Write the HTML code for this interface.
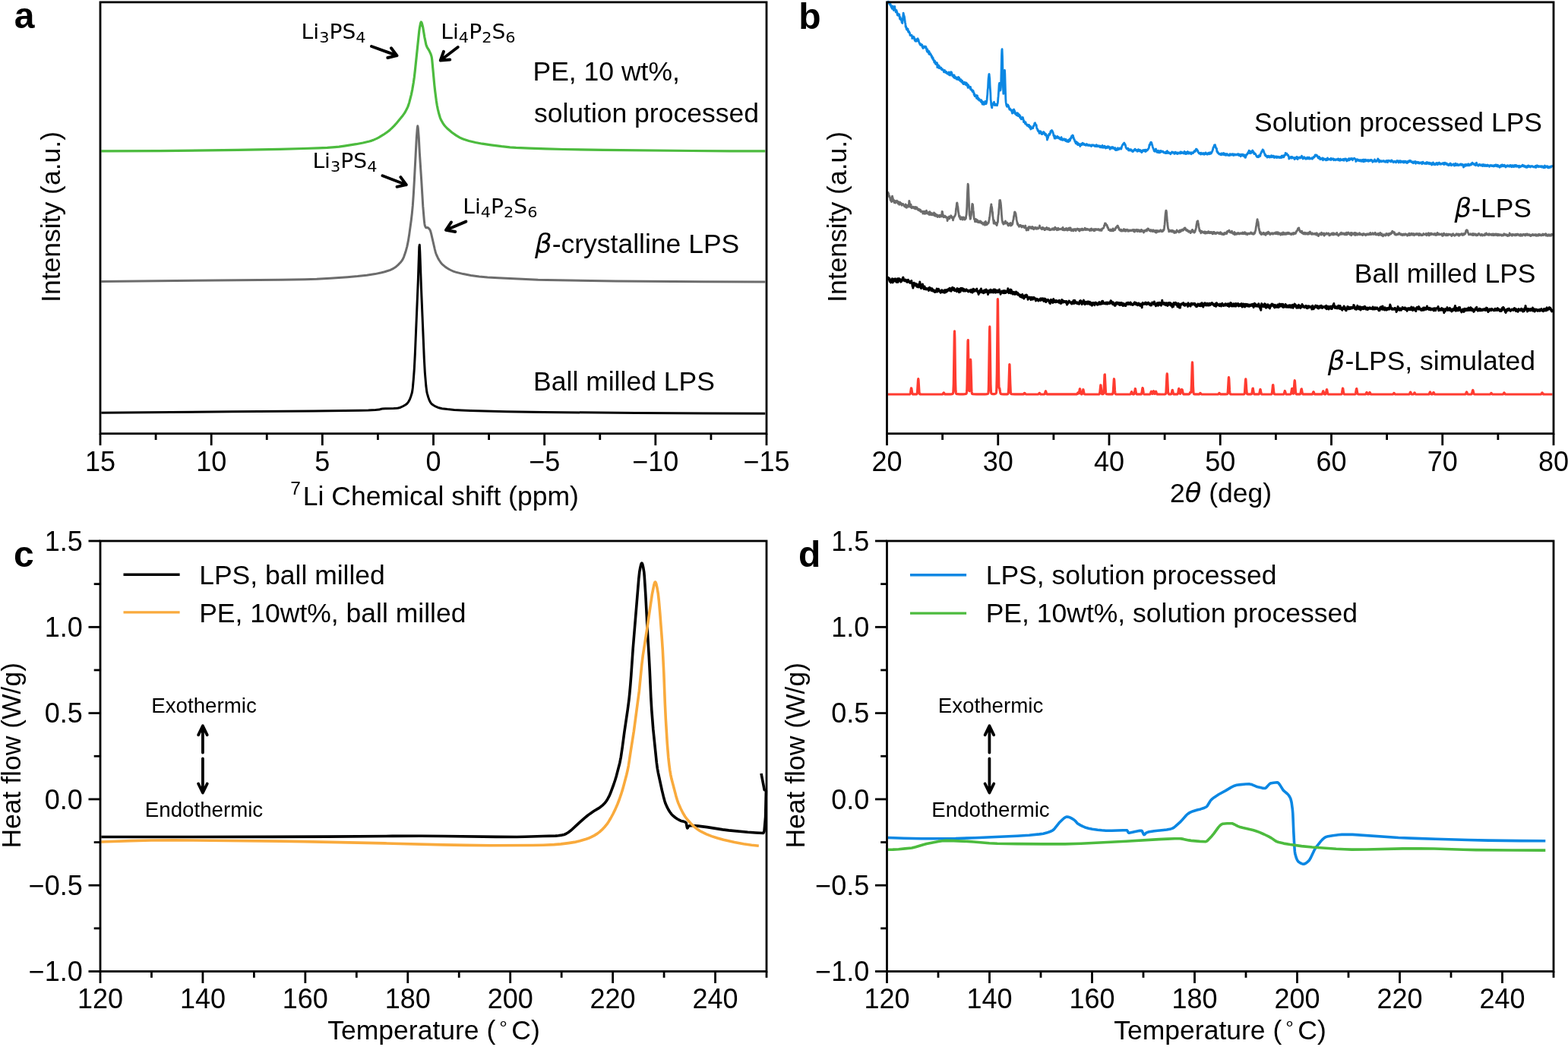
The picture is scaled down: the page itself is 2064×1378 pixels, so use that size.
<!DOCTYPE html>
<html><head><meta charset="utf-8"><title>Figure</title>
<style>html,body{margin:0;padding:0;background:#fff;}svg{display:block;}</style>
</head><body>
<svg width="2064" height="1378" viewBox="0 0 2064 1378">
<rect width="2064" height="1378" fill="#fff"/>
<polyline points="133.3,198.9 209.3,198.6 313.3,197.4 368.8,196.4 399.8,195.5 419.3,194.8 430.8,194.3 440.8,193.6 446.3,193.1 453.3,192.1 468.8,189.7 477.8,188.0 486.3,186.0 489.3,185.1 492.3,183.9 495.3,182.6 498.3,181.1 504.8,177.2 510.8,173.0 513.3,170.9 515.8,168.6 518.8,165.6 522.3,161.7 527.8,155.1 530.3,151.9 532.3,149.1 533.8,146.6 535.3,143.8 536.8,140.6 537.8,137.9 538.8,134.6 541.3,124.8 542.8,117.6 544.3,108.8 545.3,101.8 546.3,93.2 551.8,40.7 552.3,37.1 553.3,32.0 553.8,30.0 554.3,29.0 554.8,29.3 555.3,30.5 556.8,36.4 558.8,48.7 560.8,58.4 561.3,60.0 562.3,62.3 564.8,66.4 566.8,70.6 567.8,73.5 568.3,75.6 568.8,79.3 571.8,111.8 572.8,120.7 574.3,132.4 575.3,138.7 576.3,143.6 577.8,149.8 579.3,154.8 580.8,158.3 583.3,162.6 584.8,164.7 586.3,166.5 589.3,169.6 594.8,174.2 600.3,178.1 605.3,181.1 607.8,182.3 610.3,183.3 617.3,185.5 625.8,187.5 634.8,189.2 646.3,190.9 660.3,192.7 671.3,193.8 679.3,194.4 696.8,195.1 718.8,195.9 741.8,196.5 793.8,197.4 910.8,198.5 960.8,198.8 1007.3,198.9" fill="none" stroke="#4cbb3e" stroke-width="3.2" stroke-linejoin="round" stroke-linecap="butt" />
<polyline points="133.3,370.5 369.8,368.2 401.3,367.7 416.8,367.2 434.8,366.2 457.3,364.7 470.8,363.6 482.8,362.2 493.8,360.6 502.3,358.8 506.3,357.8 510.3,356.5 513.8,355.3 516.3,354.1 518.3,353.1 520.3,351.8 523.8,348.9 527.3,345.3 528.8,343.4 529.8,341.9 530.8,340.0 531.8,337.6 533.8,331.8 535.8,324.6 537.3,317.4 538.8,307.9 541.3,289.8 542.3,281.2 543.3,270.7 544.3,256.2 545.3,238.9 548.3,181.3 549.3,168.5 549.8,165.7 550.3,168.5 551.3,181.4 552.3,200.6 554.8,238.7 556.8,271.9 558.3,289.8 558.8,294.2 559.3,296.9 560.3,299.2 560.8,299.7 561.3,299.8 562.8,299.5 563.3,299.6 563.8,300.0 565.3,301.6 566.3,303.3 566.8,304.6 567.8,308.3 572.3,328.0 573.3,331.9 573.8,333.5 574.8,336.0 576.3,339.2 577.8,342.0 580.3,345.8 581.8,347.5 583.3,348.9 585.8,350.9 588.8,353.0 591.3,354.5 594.3,356.0 596.8,357.1 599.8,358.1 604.8,359.4 609.8,360.6 619.8,362.4 630.8,363.9 641.8,364.9 655.3,365.7 708.3,368.3 719.8,368.6 749.8,369.1 810.3,369.9 924.3,370.7 1007.3,371.0" fill="none" stroke="#6c6c6c" stroke-width="3.0" stroke-linejoin="round" stroke-linecap="butt" />
<polyline points="133.3,543.2 304.8,541.8 412.8,541.1 473.8,540.3 484.8,540.0 494.3,539.5 499.3,539.1 501.8,538.3 502.8,538.1 507.3,537.8 518.3,537.6 522.3,537.3 524.3,537.0 526.3,536.5 528.3,535.7 530.8,534.5 533.8,532.7 535.8,531.2 537.3,529.4 538.8,526.8 539.8,524.6 540.8,521.9 542.3,517.0 542.8,514.4 543.3,510.4 544.3,499.3 545.3,485.8 546.3,466.5 550.3,370.2 551.8,325.1 552.3,322.3 552.8,332.2 554.3,374.7 558.3,471.9 559.3,490.1 560.8,507.8 561.8,515.6 562.3,517.8 563.8,523.0 564.8,525.8 565.8,528.1 566.8,529.9 568.3,531.8 570.8,533.5 573.8,535.2 577.8,536.8 581.8,537.8 588.8,538.6 597.8,539.4 607.3,539.9 619.3,540.4 666.3,541.7 715.3,542.4 836.8,543.6 925.8,544.1 1007.3,544.3" fill="none" stroke="#000" stroke-width="3.0" stroke-linejoin="round" stroke-linecap="butt" />
<polyline points="1168.8,4.4 1169.1,2.2 1169.5,3.3 1169.8,4.2 1170.1,3.2 1170.5,4.4 1170.8,4.6 1171.1,2.8 1171.5,6.4 1171.8,6.3 1172.1,5.3 1172.5,6.6 1172.8,8.4 1173.1,8.7 1173.5,9.8 1173.8,8.9 1174.1,11.2 1174.5,10.3 1174.8,10.2 1175.1,8.0 1175.5,12.0 1175.8,10.5 1176.1,10.3 1176.5,13.5 1176.8,11.1 1177.1,9.4 1177.5,10.5 1177.8,8.4 1178.1,13.0 1178.5,12.3 1178.8,12.9 1179.1,15.8 1179.5,13.1 1179.8,16.2 1180.1,13.6 1180.5,15.7 1180.8,15.6 1181.1,19.2 1181.5,20.0 1181.8,18.0 1182.1,19.8 1182.5,19.1 1182.8,20.5 1183.1,19.4 1183.5,18.7 1183.8,19.1 1184.1,22.2 1184.5,24.9 1184.8,23.0 1185.1,22.6 1185.5,25.9 1185.8,24.5 1186.1,25.1 1186.5,26.4 1186.8,27.7 1187.1,29.4 1187.5,29.1 1187.8,30.6 1188.1,27.4 1188.5,25.5 1188.8,20.7 1189.1,17.1 1189.5,18.8 1189.8,21.7 1190.1,20.8 1190.5,22.4 1190.8,24.5 1191.1,27.0 1191.5,30.0 1191.8,30.7 1192.1,35.3 1192.5,34.3 1192.8,35.6 1193.1,38.0 1193.5,38.7 1193.8,37.4 1194.1,38.7 1194.5,39.8 1194.8,39.3 1195.1,38.0 1195.5,41.5 1195.8,42.3 1196.1,42.3 1196.5,41.3 1196.8,42.6 1197.1,42.7 1197.5,43.5 1197.8,45.8 1198.1,46.5 1198.5,45.9 1198.8,46.2 1199.1,46.7 1199.5,46.3 1199.8,46.7 1200.1,46.3 1200.5,47.4 1200.8,50.5 1201.1,49.3 1201.5,48.2 1201.8,48.4 1202.1,48.3 1202.5,50.1 1202.8,50.5 1203.1,48.7 1203.5,51.2 1203.8,50.3 1204.1,53.0 1204.5,51.8 1204.8,54.0 1205.1,51.8 1205.5,52.3 1205.8,53.2 1206.1,54.3 1206.5,53.8 1206.8,51.6 1207.1,52.9 1207.5,52.1 1207.8,51.1 1208.1,50.8 1208.5,53.9 1208.8,52.2 1209.1,52.6 1209.5,55.2 1209.8,55.5 1210.1,56.1 1210.5,57.7 1210.8,57.9 1211.1,58.2 1211.5,59.2 1211.8,58.7 1212.1,57.9 1212.5,58.5 1212.8,58.6 1213.1,59.8 1213.5,58.8 1213.8,58.8 1214.1,62.1 1214.5,61.4 1214.8,61.2 1215.1,63.5 1215.5,61.7 1215.8,62.7 1216.1,61.5 1216.5,61.0 1216.8,61.1 1217.1,62.1 1217.5,62.5 1217.8,61.8 1218.1,62.4 1218.5,61.1 1218.8,63.4 1219.1,62.1 1219.5,64.6 1219.8,66.1 1220.1,67.0 1220.5,68.1 1220.8,64.8 1221.1,67.8 1221.5,68.7 1221.8,68.8 1222.1,67.1 1222.5,69.0 1222.8,71.1 1223.1,67.7 1223.5,70.4 1223.8,71.6 1224.1,70.0 1224.5,71.9 1224.8,70.5 1225.1,71.3 1225.5,71.8 1225.8,73.5 1226.1,73.7 1226.5,75.5 1226.8,73.9 1227.1,75.4 1227.5,77.3 1227.8,77.5 1228.1,75.9 1228.5,78.8 1228.8,78.1 1229.1,79.7 1229.5,80.2 1229.8,81.9 1230.1,81.5 1230.5,80.0 1230.8,81.1 1231.1,83.7 1231.5,82.7 1231.8,84.4 1232.1,83.5 1232.5,82.4 1232.8,84.7 1233.1,83.1 1233.5,82.8 1233.8,88.6 1234.1,84.9 1234.5,87.8 1234.8,88.1 1235.1,87.4 1235.5,85.9 1235.8,89.5 1236.1,87.1 1236.5,87.3 1236.8,88.3 1237.1,89.7 1237.5,89.3 1237.8,90.1 1238.1,89.0 1238.5,89.7 1238.8,89.0 1239.1,90.4 1239.5,91.7 1239.8,90.9 1240.1,91.9 1240.5,90.9 1240.8,91.1 1241.1,92.1 1241.5,92.1 1241.8,93.2 1242.1,93.0 1242.5,94.9 1242.8,92.9 1243.1,93.1 1243.5,92.5 1243.8,94.0 1244.1,95.1 1244.5,93.8 1244.8,94.7 1245.1,95.7 1245.5,94.8 1245.8,94.5 1246.1,96.3 1246.5,95.5 1246.8,96.1 1247.1,97.1 1247.5,97.3 1247.8,95.8 1248.1,95.8 1248.5,96.9 1248.8,96.6 1249.1,94.8 1249.5,98.5 1249.8,97.3 1250.1,98.2 1250.5,96.3 1250.8,99.1 1251.1,96.9 1251.5,96.9 1251.8,94.6 1252.1,95.2 1252.5,95.2 1252.8,96.2 1253.1,98.1 1253.5,98.6 1253.8,100.2 1254.1,99.0 1254.5,98.7 1254.8,100.1 1255.1,101.0 1255.5,101.9 1255.8,101.6 1256.1,99.0 1256.5,101.5 1256.8,102.9 1257.1,101.6 1257.5,101.1 1257.8,102.3 1258.1,101.6 1258.5,103.0 1258.8,102.5 1259.1,104.2 1259.5,103.5 1259.8,102.3 1260.1,104.0 1260.5,104.5 1260.8,103.0 1261.1,103.2 1261.5,101.3 1261.8,104.9 1262.1,103.6 1262.5,102.2 1262.8,102.9 1263.1,104.9 1263.5,106.2 1263.8,105.4 1264.1,106.3 1264.5,104.7 1264.8,104.7 1265.1,107.3 1265.5,107.1 1265.8,106.7 1266.1,108.3 1266.5,106.1 1266.8,106.8 1267.1,108.6 1267.5,109.8 1267.8,108.2 1268.1,110.7 1268.5,109.1 1268.8,110.7 1269.1,110.1 1269.5,108.1 1269.8,109.7 1270.1,110.3 1270.5,109.3 1270.8,109.6 1271.1,111.4 1271.5,108.8 1271.8,108.8 1272.1,110.0 1272.5,109.6 1272.8,112.6 1273.1,111.8 1273.5,110.8 1273.8,111.3 1274.1,115.4 1274.5,111.9 1274.8,112.1 1275.1,113.7 1275.5,114.5 1275.8,114.7 1276.1,114.0 1276.5,114.2 1276.8,116.4 1277.1,115.9 1277.5,114.4 1277.8,117.8 1278.1,117.8 1278.5,117.3 1278.8,117.9 1279.1,119.2 1279.5,118.9 1279.8,118.5 1280.1,120.5 1280.5,118.8 1280.8,121.0 1281.1,119.5 1281.5,121.3 1281.8,121.8 1282.1,124.7 1282.5,123.0 1282.8,124.3 1283.1,126.6 1283.5,126.5 1283.8,126.4 1284.1,126.6 1284.5,126.6 1284.8,127.5 1285.1,125.3 1285.5,129.3 1285.8,129.1 1286.1,127.4 1286.5,125.9 1286.8,129.2 1287.1,130.4 1287.5,128.5 1287.8,131.1 1288.1,130.6 1288.5,129.8 1288.8,131.4 1289.1,132.1 1289.5,130.9 1289.8,132.0 1290.1,131.5 1290.5,131.7 1290.8,133.0 1291.1,133.9 1291.5,133.1 1291.8,131.7 1292.1,134.9 1292.5,132.9 1292.8,135.0 1293.1,137.1 1293.5,135.4 1293.8,134.4 1294.1,134.3 1294.5,137.3 1294.8,136.2 1295.1,136.9 1295.5,137.4 1295.8,136.5 1296.1,136.3 1296.5,135.7 1296.8,133.5 1297.1,135.2 1297.5,136.7 1297.8,136.5 1298.1,136.6 1298.5,135.0 1298.8,133.4 1299.1,131.6 1299.5,126.9 1299.8,124.1 1300.1,118.4 1300.5,115.8 1300.8,108.8 1301.1,103.7 1301.5,100.5 1301.8,98.0 1302.1,97.4 1302.5,101.4 1302.8,104.0 1303.1,112.0 1303.5,118.1 1303.8,122.3 1304.1,131.0 1304.5,133.6 1304.8,138.4 1305.1,139.1 1305.5,141.4 1305.8,141.8 1306.1,139.2 1306.5,137.8 1306.8,138.2 1307.1,138.1 1307.5,135.9 1307.8,135.2 1308.1,136.7 1308.5,134.2 1308.8,137.1 1309.1,136.8 1309.5,138.7 1309.8,137.7 1310.1,137.3 1310.5,138.1 1310.8,137.0 1311.1,138.5 1311.5,137.8 1311.8,138.0 1312.1,137.5 1312.5,138.8 1312.8,137.0 1313.1,136.4 1313.5,134.3 1313.8,129.8 1314.1,126.9 1314.5,121.7 1314.8,116.5 1315.1,111.6 1315.5,109.4 1315.8,111.0 1316.1,114.9 1316.5,115.2 1316.8,119.2 1317.1,118.1 1317.5,114.5 1317.8,104.1 1318.1,90.8 1318.5,72.8 1318.8,65.8 1319.1,64.7 1319.5,74.0 1319.8,87.7 1320.1,103.2 1320.5,116.5 1320.8,123.4 1321.1,117.2 1321.5,112.4 1321.8,102.9 1322.1,94.5 1322.5,92.3 1322.8,96.8 1323.1,107.8 1323.5,120.8 1323.8,130.1 1324.1,134.7 1324.5,136.6 1324.8,138.9 1325.1,139.1 1325.5,140.2 1325.8,139.9 1326.1,139.0 1326.5,139.6 1326.8,137.9 1327.1,139.9 1327.5,140.8 1327.8,139.6 1328.1,142.4 1328.5,141.8 1328.8,144.2 1329.1,144.1 1329.5,143.0 1329.8,144.6 1330.1,143.8 1330.5,144.2 1330.8,144.7 1331.1,145.5 1331.5,145.7 1331.8,147.0 1332.1,147.2 1332.5,149.2 1332.8,149.0 1333.1,146.5 1333.5,144.6 1333.8,146.3 1334.1,146.5 1334.5,145.1 1334.8,144.0 1335.1,146.1 1335.5,148.4 1335.8,146.2 1336.1,149.5 1336.5,149.3 1336.8,149.1 1337.1,150.5 1337.5,148.8 1337.8,150.5 1338.1,151.6 1338.5,150.5 1338.8,149.6 1339.1,148.8 1339.5,149.4 1339.8,149.0 1340.1,152.6 1340.5,150.9 1340.8,150.3 1341.1,150.3 1341.5,150.8 1341.8,151.9 1342.1,151.3 1342.5,154.5 1342.8,152.5 1343.1,152.9 1343.5,154.4 1343.8,156.1 1344.1,156.7 1344.5,155.6 1344.8,156.7 1345.1,156.5 1345.5,156.4 1345.8,155.6 1346.1,154.4 1346.5,154.8 1346.8,157.3 1347.1,157.1 1347.5,160.5 1347.8,159.8 1348.1,159.2 1348.5,160.4 1348.8,160.6 1349.1,161.4 1349.5,162.9 1349.8,161.0 1350.1,160.9 1350.5,163.4 1350.8,163.3 1351.1,163.9 1351.5,164.5 1351.8,164.2 1352.1,165.4 1352.5,164.0 1352.8,165.2 1353.1,164.5 1353.5,164.5 1353.8,166.4 1354.1,166.6 1354.5,164.4 1354.8,165.4 1355.1,167.0 1355.5,168.0 1355.8,166.5 1356.1,167.2 1356.5,166.3 1356.8,170.1 1357.1,168.4 1357.5,168.9 1357.8,168.8 1358.1,169.2 1358.5,168.9 1358.8,167.9 1359.1,168.8 1359.5,167.9 1359.8,168.6 1360.1,166.1 1360.5,165.6 1360.8,165.9 1361.1,165.6 1361.5,163.8 1361.8,162.3 1362.1,162.4 1362.5,161.7 1362.8,163.9 1363.1,163.4 1363.5,164.3 1363.8,164.3 1364.1,164.5 1364.5,167.3 1364.8,168.9 1365.1,169.0 1365.5,169.5 1365.8,171.4 1366.1,170.9 1366.5,172.6 1366.8,171.8 1367.1,172.0 1367.5,173.7 1367.8,173.7 1368.1,175.4 1368.5,173.6 1368.8,174.1 1369.1,173.2 1369.5,172.7 1369.8,172.9 1370.1,175.1 1370.5,173.7 1370.8,175.9 1371.1,176.3 1371.5,174.9 1371.8,176.7 1372.1,175.5 1372.5,176.2 1372.8,174.9 1373.1,175.6 1373.5,173.7 1373.8,174.9 1374.1,173.9 1374.5,174.5 1374.8,176.0 1375.1,176.4 1375.5,176.8 1375.8,177.8 1376.1,177.9 1376.5,176.0 1376.8,177.8 1377.1,178.2 1377.5,177.7 1377.8,180.0 1378.1,180.3 1378.5,184.0 1378.8,182.6 1379.1,181.7 1379.5,181.5 1379.8,179.4 1380.1,179.3 1380.5,177.3 1380.8,177.3 1381.1,176.2 1381.5,176.7 1381.8,177.2 1382.1,175.8 1382.5,175.6 1382.8,173.2 1383.1,172.5 1383.5,172.2 1383.8,172.5 1384.1,172.0 1384.5,171.6 1384.8,172.3 1385.1,172.2 1385.5,172.9 1385.8,174.9 1386.1,174.3 1386.5,176.0 1386.8,178.3 1387.1,178.3 1387.5,179.9 1387.8,179.5 1388.1,182.0 1388.5,178.6 1388.8,179.6 1389.1,179.8 1389.5,182.1 1389.8,181.2 1390.1,180.8 1390.5,180.1 1390.8,181.4 1391.1,181.1 1391.5,180.2 1391.8,179.4 1392.1,179.7 1392.5,181.1 1392.8,181.6 1393.1,181.8 1393.5,181.8 1393.8,180.7 1394.1,182.2 1394.5,181.5 1394.8,182.4 1395.1,182.8 1395.5,182.0 1395.8,181.8 1396.1,183.5 1396.5,183.1 1396.8,182.4 1397.1,180.6 1397.5,183.1 1397.8,183.7 1398.1,184.2 1398.5,182.8 1398.8,183.0 1399.1,183.2 1399.5,184.3 1399.8,182.8 1400.1,183.8 1400.5,183.2 1400.8,184.2 1401.1,182.9 1401.5,184.5 1401.8,183.9 1402.1,184.2 1402.5,184.9 1402.8,185.5 1403.1,183.4 1403.5,185.6 1403.8,185.4 1404.1,185.0 1404.5,186.4 1404.8,185.5 1405.1,186.3 1405.5,184.9 1405.8,184.6 1406.1,186.1 1406.5,186.6 1406.8,185.2 1407.1,185.1 1407.5,184.0 1407.8,183.3 1408.1,184.1 1408.5,185.2 1408.8,182.4 1409.1,183.1 1409.5,181.5 1409.8,182.2 1410.1,181.7 1410.5,179.2 1410.8,179.0 1411.1,179.8 1411.5,178.7 1411.8,178.0 1412.1,178.3 1412.5,178.3 1412.8,181.0 1413.1,180.6 1413.5,182.8 1413.8,183.5 1414.1,183.3 1414.5,184.3 1414.8,186.0 1415.1,186.4 1415.5,187.2 1415.8,186.5 1416.1,188.7 1416.5,187.6 1416.8,186.6 1417.1,187.8 1417.5,188.6 1417.8,189.9 1418.1,188.3 1418.5,187.8 1418.8,190.6 1419.1,189.6 1419.5,189.7 1419.8,189.2 1420.1,189.1 1420.5,190.6 1420.8,189.5 1421.1,189.8 1421.5,190.5 1421.8,192.5 1422.1,190.9 1422.5,191.2 1422.8,190.3 1423.1,190.0 1423.5,189.1 1423.8,190.1 1424.1,190.8 1424.5,189.5 1424.8,188.7 1425.1,188.2 1425.5,189.2 1425.8,189.1 1426.1,189.5 1426.5,189.9 1426.8,189.1 1427.1,190.7 1427.5,190.4 1427.8,190.2 1428.1,190.5 1428.5,191.0 1428.8,190.5 1429.1,189.9 1429.5,191.4 1429.8,190.3 1430.1,190.1 1430.5,189.6 1430.8,190.7 1431.1,190.0 1431.5,190.4 1431.8,191.2 1432.1,190.9 1432.5,191.6 1432.8,191.2 1433.1,190.7 1433.5,190.8 1433.8,190.7 1434.1,191.6 1434.5,191.2 1434.8,190.9 1435.1,191.9 1435.5,191.5 1435.8,191.3 1436.1,191.0 1436.5,192.6 1436.8,192.5 1437.1,192.1 1437.5,191.5 1437.8,190.8 1438.1,191.0 1438.5,191.2 1438.8,190.9 1439.1,191.0 1439.5,190.9 1439.8,191.7 1440.1,191.8 1440.5,191.3 1440.8,192.4 1441.1,192.5 1441.5,192.5 1441.8,191.9 1442.1,191.9 1442.5,191.3 1442.8,192.6 1443.1,190.7 1443.5,191.9 1443.8,192.0 1444.1,192.9 1444.5,192.3 1444.8,191.7 1445.1,191.4 1445.5,191.9 1445.8,192.5 1446.1,192.5 1446.5,192.4 1446.8,192.1 1447.1,192.5 1447.5,193.4 1447.8,191.9 1448.1,192.8 1448.5,193.9 1448.8,193.2 1449.1,192.6 1449.5,193.4 1449.8,192.4 1450.1,193.0 1450.5,194.0 1450.8,194.2 1451.1,191.5 1451.5,193.0 1451.8,193.9 1452.1,192.4 1452.5,193.2 1452.8,194.3 1453.1,193.0 1453.5,193.7 1453.8,193.4 1454.1,192.2 1454.5,193.8 1454.8,193.5 1455.1,194.3 1455.5,195.1 1455.8,194.2 1456.1,193.5 1456.5,194.1 1456.8,194.0 1457.1,194.6 1457.5,192.9 1457.8,193.2 1458.1,192.6 1458.5,194.4 1458.8,193.8 1459.1,193.1 1459.5,192.9 1459.8,193.1 1460.1,193.3 1460.5,194.5 1460.8,195.0 1461.1,196.4 1461.5,195.4 1461.8,194.3 1462.1,194.1 1462.5,194.9 1462.8,194.1 1463.1,193.8 1463.5,194.3 1463.8,195.2 1464.1,193.6 1464.5,194.2 1464.8,193.6 1465.1,195.2 1465.5,194.7 1465.8,194.6 1466.1,194.7 1466.5,195.9 1466.8,195.5 1467.1,195.3 1467.5,196.4 1467.8,194.7 1468.1,194.6 1468.5,197.5 1468.8,195.8 1469.1,196.2 1469.5,196.5 1469.8,197.1 1470.1,197.6 1470.5,197.2 1470.8,196.6 1471.1,195.8 1471.5,194.8 1471.8,196.1 1472.1,196.9 1472.5,196.6 1472.8,195.7 1473.1,196.4 1473.5,195.5 1473.8,195.7 1474.1,194.9 1474.5,195.4 1474.8,195.7 1475.1,195.3 1475.5,195.7 1475.8,196.1 1476.1,195.2 1476.5,193.5 1476.8,192.5 1477.1,191.8 1477.5,190.8 1477.8,190.7 1478.1,190.3 1478.5,189.5 1478.8,189.0 1479.1,188.7 1479.5,188.4 1479.8,188.1 1480.1,190.1 1480.5,190.1 1480.8,189.5 1481.1,190.2 1481.5,191.3 1481.8,192.5 1482.1,194.2 1482.5,194.7 1482.8,195.4 1483.1,195.9 1483.5,196.2 1483.8,196.2 1484.1,196.1 1484.5,196.0 1484.8,195.1 1485.1,196.5 1485.5,198.0 1485.8,196.5 1486.1,196.5 1486.5,197.7 1486.8,197.1 1487.1,196.7 1487.5,198.1 1487.8,197.5 1488.1,197.6 1488.5,196.6 1488.8,197.2 1489.1,197.2 1489.5,197.7 1489.8,198.4 1490.1,199.0 1490.5,198.9 1490.8,199.5 1491.1,198.2 1491.5,199.3 1491.8,199.3 1492.1,198.6 1492.5,198.1 1492.8,198.1 1493.1,196.8 1493.5,197.5 1493.8,197.2 1494.1,196.2 1494.5,197.0 1494.8,197.9 1495.1,198.1 1495.5,198.2 1495.8,197.5 1496.1,197.4 1496.5,197.4 1496.8,198.1 1497.1,199.3 1497.5,198.7 1497.8,198.9 1498.1,198.7 1498.5,196.7 1498.8,197.7 1499.1,197.6 1499.5,198.7 1499.8,199.0 1500.1,197.4 1500.5,197.8 1500.8,198.2 1501.1,197.6 1501.5,197.9 1501.8,198.5 1502.1,200.1 1502.5,199.3 1502.8,200.6 1503.1,199.4 1503.5,199.4 1503.8,199.5 1504.1,197.8 1504.5,197.7 1504.8,198.6 1505.1,197.6 1505.5,197.8 1505.8,198.3 1506.1,198.5 1506.5,197.5 1506.8,198.1 1507.1,198.8 1507.5,199.4 1507.8,197.1 1508.1,199.4 1508.5,199.1 1508.8,197.7 1509.1,197.4 1509.5,198.3 1509.8,197.3 1510.1,197.3 1510.5,197.6 1510.8,196.5 1511.1,196.5 1511.5,196.1 1511.8,195.5 1512.1,195.1 1512.5,193.9 1512.8,191.8 1513.1,190.4 1513.5,191.3 1513.8,189.6 1514.1,189.1 1514.5,187.6 1514.8,188.5 1515.1,187.2 1515.5,187.6 1515.8,187.7 1516.1,189.2 1516.5,190.7 1516.8,190.9 1517.1,192.5 1517.5,194.3 1517.8,194.5 1518.1,195.4 1518.5,196.5 1518.8,196.8 1519.1,198.6 1519.5,197.9 1519.8,199.3 1520.1,199.3 1520.5,197.3 1520.8,197.3 1521.1,196.3 1521.5,196.0 1521.8,197.4 1522.1,198.4 1522.5,199.7 1522.8,200.2 1523.1,198.9 1523.5,199.4 1523.8,200.1 1524.1,200.5 1524.5,198.1 1524.8,200.7 1525.1,199.7 1525.5,200.9 1525.8,199.6 1526.1,199.3 1526.5,199.9 1526.8,200.7 1527.1,200.0 1527.5,198.3 1527.8,200.4 1528.1,198.9 1528.5,199.4 1528.8,199.3 1529.1,198.8 1529.5,199.3 1529.8,199.5 1530.1,199.7 1530.5,200.1 1530.8,200.0 1531.1,199.2 1531.5,200.1 1531.8,200.9 1532.1,200.9 1532.5,200.4 1532.8,200.8 1533.1,201.0 1533.5,201.3 1533.8,201.5 1534.1,200.2 1534.5,200.2 1534.8,201.5 1535.1,201.6 1535.5,201.6 1535.8,199.1 1536.1,200.6 1536.5,198.7 1536.8,201.4 1537.1,200.9 1537.5,200.8 1537.8,200.6 1538.1,201.5 1538.5,200.5 1538.8,201.4 1539.1,201.1 1539.5,201.2 1539.8,201.8 1540.1,202.1 1540.5,201.7 1540.8,202.9 1541.1,202.4 1541.5,201.3 1541.8,201.5 1542.1,201.5 1542.5,200.0 1542.8,200.7 1543.1,200.6 1543.5,200.3 1543.8,201.1 1544.1,200.3 1544.5,200.6 1544.8,201.1 1545.1,201.2 1545.5,201.2 1545.8,202.5 1546.1,200.6 1546.5,201.1 1546.8,200.2 1547.1,201.3 1547.5,201.8 1547.8,201.8 1548.1,200.6 1548.5,200.9 1548.8,202.1 1549.1,201.4 1549.5,202.2 1549.8,201.0 1550.1,202.6 1550.5,202.4 1550.8,201.9 1551.1,201.0 1551.5,201.2 1551.8,201.3 1552.1,201.4 1552.5,201.1 1552.8,201.0 1553.1,201.3 1553.5,202.1 1553.8,199.8 1554.1,200.3 1554.5,200.2 1554.8,200.8 1555.1,200.1 1555.5,201.6 1555.8,201.3 1556.1,201.1 1556.5,200.8 1556.8,201.4 1557.1,201.4 1557.5,201.5 1557.8,200.8 1558.1,201.8 1558.5,200.3 1558.8,202.2 1559.1,199.3 1559.5,200.9 1559.8,200.5 1560.1,201.9 1560.5,200.4 1560.8,202.6 1561.1,200.3 1561.5,202.5 1561.8,201.2 1562.1,200.5 1562.5,200.4 1562.8,201.7 1563.1,201.2 1563.5,199.5 1563.8,202.1 1564.1,201.6 1564.5,200.4 1564.8,202.0 1565.1,200.7 1565.5,201.6 1565.8,201.7 1566.1,201.1 1566.5,202.0 1566.8,200.8 1567.1,201.7 1567.5,201.2 1567.8,201.4 1568.1,202.8 1568.5,201.6 1568.8,200.8 1569.1,201.4 1569.5,201.0 1569.8,201.6 1570.1,201.7 1570.5,201.5 1570.8,201.2 1571.1,200.2 1571.5,200.3 1571.8,200.1 1572.1,198.6 1572.5,198.8 1572.8,198.8 1573.1,199.5 1573.5,199.1 1573.8,197.5 1574.1,197.7 1574.5,196.2 1574.8,196.1 1575.1,196.3 1575.5,196.7 1575.8,197.6 1576.1,197.8 1576.5,198.0 1576.8,199.9 1577.1,199.9 1577.5,200.8 1577.8,201.0 1578.1,201.7 1578.5,201.9 1578.8,202.1 1579.1,201.3 1579.5,202.3 1579.8,201.4 1580.1,201.8 1580.5,203.1 1580.8,202.1 1581.1,201.1 1581.5,202.9 1581.8,202.6 1582.1,202.7 1582.5,202.1 1582.8,202.2 1583.1,201.8 1583.5,201.5 1583.8,203.0 1584.1,201.7 1584.5,201.7 1584.8,201.7 1585.1,203.3 1585.5,202.6 1585.8,201.8 1586.1,202.0 1586.5,202.4 1586.8,202.7 1587.1,201.0 1587.5,202.7 1587.8,201.9 1588.1,201.6 1588.5,201.9 1588.8,202.7 1589.1,203.3 1589.5,202.3 1589.8,202.5 1590.1,201.6 1590.5,202.5 1590.8,202.7 1591.1,201.2 1591.5,201.9 1591.8,202.7 1592.1,201.0 1592.5,201.9 1592.8,202.5 1593.1,200.9 1593.5,201.6 1593.8,201.7 1594.1,202.1 1594.5,200.2 1594.8,201.3 1595.1,200.0 1595.5,199.7 1595.8,198.9 1596.1,197.7 1596.5,197.2 1596.8,195.0 1597.1,194.3 1597.5,193.5 1597.8,193.0 1598.1,193.1 1598.5,190.8 1598.8,191.4 1599.1,190.7 1599.5,190.7 1599.8,193.1 1600.1,192.8 1600.5,194.6 1600.8,195.3 1601.1,195.0 1601.5,195.6 1601.8,199.5 1602.1,198.9 1602.5,199.2 1602.8,201.0 1603.1,201.0 1603.5,200.8 1603.8,201.4 1604.1,202.1 1604.5,202.3 1604.8,202.9 1605.1,202.3 1605.5,202.4 1605.8,203.0 1606.1,202.8 1606.5,203.4 1606.8,202.6 1607.1,202.7 1607.5,202.1 1607.8,203.9 1608.1,202.0 1608.5,203.1 1608.8,202.4 1609.1,203.2 1609.5,203.4 1609.8,201.8 1610.1,202.6 1610.5,201.5 1610.8,203.6 1611.1,202.5 1611.5,201.9 1611.8,202.6 1612.1,204.0 1612.5,204.1 1612.8,204.0 1613.1,202.7 1613.5,203.1 1613.8,204.3 1614.1,202.7 1614.5,203.0 1614.8,202.6 1615.1,202.5 1615.5,204.1 1615.8,203.7 1616.1,203.6 1616.5,203.8 1616.8,204.1 1617.1,204.6 1617.5,203.9 1617.8,203.8 1618.1,203.4 1618.5,204.6 1618.8,203.4 1619.1,202.6 1619.5,203.3 1619.8,203.5 1620.1,204.1 1620.5,204.2 1620.8,203.1 1621.1,203.0 1621.5,203.4 1621.8,202.8 1622.1,203.6 1622.5,204.0 1622.8,203.7 1623.1,202.6 1623.5,202.9 1623.8,204.6 1624.1,203.1 1624.5,204.2 1624.8,204.2 1625.1,203.6 1625.5,203.1 1625.8,204.0 1626.1,203.2 1626.5,203.7 1626.8,203.9 1627.1,203.4 1627.5,203.8 1627.8,203.7 1628.1,203.1 1628.5,203.8 1628.8,203.5 1629.1,202.8 1629.5,203.8 1629.8,203.8 1630.1,203.6 1630.5,202.7 1630.8,204.6 1631.1,204.5 1631.5,204.5 1631.8,204.4 1632.1,203.3 1632.5,204.3 1632.8,203.7 1633.1,205.8 1633.5,204.0 1633.8,204.7 1634.1,203.2 1634.5,203.5 1634.8,203.9 1635.1,204.8 1635.5,204.7 1635.8,204.5 1636.1,203.1 1636.5,205.1 1636.8,203.8 1637.1,205.5 1637.5,205.6 1637.8,205.0 1638.1,205.2 1638.5,203.9 1638.8,207.1 1639.1,206.3 1639.5,207.4 1639.8,206.1 1640.1,205.8 1640.5,203.9 1640.8,203.7 1641.1,203.2 1641.5,202.9 1641.8,203.1 1642.1,202.0 1642.5,201.4 1642.8,200.8 1643.1,201.7 1643.5,199.6 1643.8,200.5 1644.1,198.2 1644.5,198.9 1644.8,199.8 1645.1,199.5 1645.5,201.8 1645.8,201.7 1646.1,199.1 1646.5,199.5 1646.8,200.1 1647.1,201.3 1647.5,200.8 1647.8,200.2 1648.1,198.9 1648.5,199.2 1648.8,198.0 1649.1,198.8 1649.5,200.3 1649.8,200.8 1650.1,199.8 1650.5,201.2 1650.8,202.6 1651.1,201.9 1651.5,201.6 1651.8,202.1 1652.1,202.2 1652.5,202.4 1652.8,202.9 1653.1,203.8 1653.5,204.7 1653.8,204.6 1654.1,206.0 1654.5,205.8 1654.8,206.0 1655.1,206.7 1655.5,206.4 1655.8,206.3 1656.1,205.6 1656.5,205.2 1656.8,206.8 1657.1,204.7 1657.5,204.7 1657.8,204.4 1658.1,205.1 1658.5,205.2 1658.8,205.4 1659.1,203.8 1659.5,201.8 1659.8,202.1 1660.1,201.5 1660.5,200.0 1660.8,199.2 1661.1,199.0 1661.5,199.1 1661.8,197.8 1662.1,196.9 1662.5,197.6 1662.8,198.2 1663.1,197.7 1663.5,200.0 1663.8,199.8 1664.1,201.5 1664.5,202.0 1664.8,202.4 1665.1,204.3 1665.5,203.3 1665.8,203.7 1666.1,204.8 1666.5,205.6 1666.8,205.4 1667.1,205.0 1667.5,206.2 1667.8,206.2 1668.1,207.2 1668.5,205.8 1668.8,206.2 1669.1,205.7 1669.5,205.2 1669.8,206.2 1670.1,206.8 1670.5,205.6 1670.8,205.8 1671.1,205.5 1671.5,207.2 1671.8,205.9 1672.1,206.7 1672.5,205.8 1672.8,206.4 1673.1,205.9 1673.5,204.8 1673.8,206.4 1674.1,206.8 1674.5,205.1 1674.8,206.3 1675.1,206.2 1675.5,205.8 1675.8,206.3 1676.1,205.2 1676.5,206.7 1676.8,207.3 1677.1,205.7 1677.5,206.5 1677.8,207.5 1678.1,206.7 1678.5,206.2 1678.8,206.0 1679.1,206.7 1679.5,206.6 1679.8,207.1 1680.1,205.8 1680.5,207.6 1680.8,206.8 1681.1,207.5 1681.5,206.6 1681.8,206.1 1682.1,206.5 1682.5,206.2 1682.8,206.5 1683.1,207.2 1683.5,207.6 1683.8,207.0 1684.1,206.5 1684.5,206.6 1684.8,207.3 1685.1,207.7 1685.5,206.7 1685.8,206.9 1686.1,206.5 1686.5,207.1 1686.8,207.6 1687.1,205.1 1687.5,207.1 1687.8,206.5 1688.1,205.2 1688.5,206.8 1688.8,206.3 1689.1,206.4 1689.5,205.0 1689.8,206.9 1690.1,205.2 1690.5,204.5 1690.8,205.3 1691.1,204.3 1691.5,204.0 1691.8,203.8 1692.1,201.4 1692.5,203.6 1692.8,202.1 1693.1,202.5 1693.5,203.0 1693.8,202.1 1694.1,203.1 1694.5,203.8 1694.8,203.7 1695.1,204.6 1695.5,203.9 1695.8,204.8 1696.1,205.3 1696.5,206.6 1696.8,209.0 1697.1,206.9 1697.5,206.7 1697.8,206.9 1698.1,207.8 1698.5,207.7 1698.8,206.6 1699.1,208.1 1699.5,207.5 1699.8,208.1 1700.1,206.3 1700.5,206.6 1700.8,208.0 1701.1,206.5 1701.5,207.9 1701.8,207.9 1702.1,207.8 1702.5,208.0 1702.8,207.9 1703.1,208.0 1703.5,207.5 1703.8,207.8 1704.1,209.7 1704.5,208.5 1704.8,208.2 1705.1,208.1 1705.5,207.3 1705.8,207.9 1706.1,207.6 1706.5,208.5 1706.8,207.3 1707.1,206.4 1707.5,207.6 1707.8,208.4 1708.1,209.6 1708.5,208.7 1708.8,207.4 1709.1,207.9 1709.5,207.4 1709.8,207.9 1710.1,207.5 1710.5,206.9 1710.8,208.1 1711.1,207.6 1711.5,206.8 1711.8,206.8 1712.1,207.9 1712.5,206.8 1712.8,206.4 1713.1,206.9 1713.5,205.2 1713.8,207.1 1714.1,206.8 1714.5,207.2 1714.8,208.0 1715.1,209.0 1715.5,207.1 1715.8,207.9 1716.1,207.4 1716.5,206.6 1716.8,208.4 1717.1,207.6 1717.5,207.4 1717.8,207.9 1718.1,207.9 1718.5,208.8 1718.8,208.0 1719.1,209.4 1719.5,208.6 1719.8,208.0 1720.1,207.9 1720.5,208.6 1720.8,207.2 1721.1,207.1 1721.5,208.0 1721.8,209.0 1722.1,208.7 1722.5,208.6 1722.8,208.5 1723.1,207.2 1723.5,208.4 1723.8,207.5 1724.1,209.2 1724.5,208.7 1724.8,208.6 1725.1,208.9 1725.5,208.9 1725.8,208.8 1726.1,208.9 1726.5,208.2 1726.8,207.7 1727.1,208.6 1727.5,209.2 1727.8,208.8 1728.1,207.8 1728.5,208.0 1728.8,207.0 1729.1,207.2 1729.5,206.2 1729.8,206.2 1730.1,207.0 1730.5,205.8 1730.8,205.8 1731.1,204.0 1731.5,203.8 1731.8,204.0 1732.1,204.3 1732.5,203.9 1732.8,204.9 1733.1,204.1 1733.5,205.7 1733.8,205.9 1734.1,205.0 1734.5,206.7 1734.8,206.7 1735.1,207.9 1735.5,207.2 1735.8,207.9 1736.1,208.3 1736.5,206.4 1736.8,207.3 1737.1,208.8 1737.5,208.8 1737.8,209.7 1738.1,209.2 1738.5,208.3 1738.8,209.4 1739.1,208.7 1739.5,209.1 1739.8,209.0 1740.1,209.5 1740.5,208.4 1740.8,208.6 1741.1,207.9 1741.5,210.8 1741.8,208.7 1742.1,208.8 1742.5,208.7 1742.8,209.0 1743.1,209.1 1743.5,209.8 1743.8,209.6 1744.1,209.7 1744.5,209.2 1744.8,209.6 1745.1,210.7 1745.5,210.3 1745.8,210.8 1746.1,209.2 1746.5,210.6 1746.8,210.1 1747.1,210.6 1747.5,207.9 1747.8,209.6 1748.1,209.5 1748.5,209.7 1748.8,209.2 1749.1,209.8 1749.5,210.1 1749.8,209.7 1750.1,209.5 1750.5,209.6 1750.8,209.5 1751.1,209.8 1751.5,209.3 1751.8,208.5 1752.1,210.6 1752.5,208.6 1752.8,209.7 1753.1,208.9 1753.5,209.6 1753.8,209.1 1754.1,209.6 1754.5,209.0 1754.8,208.8 1755.1,209.9 1755.5,210.7 1755.8,210.1 1756.1,210.0 1756.5,209.4 1756.8,210.1 1757.1,210.6 1757.5,209.9 1757.8,210.8 1758.1,210.1 1758.5,210.3 1758.8,209.7 1759.1,209.7 1759.5,210.2 1759.8,210.3 1760.1,210.3 1760.5,209.4 1760.8,209.6 1761.1,210.1 1761.5,208.9 1761.8,210.8 1762.1,210.3 1762.5,210.2 1762.8,209.7 1763.1,210.7 1763.5,210.0 1763.8,211.4 1764.1,210.4 1764.5,209.2 1764.8,210.7 1765.1,209.9 1765.5,209.9 1765.8,210.1 1766.1,210.2 1766.5,210.4 1766.8,210.8 1767.1,210.6 1767.5,209.8 1767.8,209.4 1768.1,209.8 1768.5,210.6 1768.8,210.9 1769.1,211.4 1769.5,209.2 1769.8,210.0 1770.1,209.7 1770.5,209.4 1770.8,209.5 1771.1,209.0 1771.5,209.0 1771.8,209.3 1772.1,210.6 1772.5,211.5 1772.8,211.9 1773.1,210.4 1773.5,209.9 1773.8,210.4 1774.1,209.9 1774.5,211.1 1774.8,209.7 1775.1,210.0 1775.5,208.7 1775.8,209.2 1776.1,209.6 1776.5,210.7 1776.8,209.5 1777.1,210.2 1777.5,208.6 1777.8,209.0 1778.1,209.1 1778.5,209.2 1778.8,209.7 1779.1,209.7 1779.5,208.4 1779.8,209.9 1780.1,208.9 1780.5,210.8 1780.8,209.5 1781.1,209.2 1781.5,208.8 1781.8,208.8 1782.1,208.8 1782.5,208.2 1782.8,208.9 1783.1,208.6 1783.5,209.1 1783.8,209.1 1784.1,210.1 1784.5,209.5 1784.8,212.5 1785.1,209.9 1785.5,210.2 1785.8,211.2 1786.1,211.5 1786.5,210.3 1786.8,209.8 1787.1,210.0 1787.5,210.3 1787.8,210.4 1788.1,210.9 1788.5,211.7 1788.8,211.7 1789.1,210.6 1789.5,211.4 1789.8,211.6 1790.1,212.0 1790.5,211.0 1790.8,210.6 1791.1,211.6 1791.5,212.1 1791.8,210.8 1792.1,212.4 1792.5,212.4 1792.8,211.2 1793.1,210.4 1793.5,211.0 1793.8,211.1 1794.1,211.6 1794.5,210.2 1794.8,212.8 1795.1,212.7 1795.5,210.8 1795.8,210.1 1796.1,211.2 1796.5,211.6 1796.8,212.2 1797.1,211.8 1797.5,211.2 1797.8,210.1 1798.1,211.7 1798.5,211.9 1798.8,211.2 1799.1,211.6 1799.5,211.5 1799.8,211.2 1800.1,210.7 1800.5,211.6 1800.8,210.5 1801.1,212.3 1801.5,210.9 1801.8,211.8 1802.1,211.0 1802.5,211.7 1802.8,211.4 1803.1,211.9 1803.5,211.0 1803.8,210.5 1804.1,211.4 1804.5,211.3 1804.8,210.6 1805.1,211.1 1805.5,210.5 1805.8,211.7 1806.1,211.4 1806.5,211.6 1806.8,213.3 1807.1,211.8 1807.5,211.9 1807.8,212.1 1808.1,211.6 1808.5,211.3 1808.8,212.3 1809.1,212.4 1809.5,209.9 1809.8,211.6 1810.1,211.5 1810.5,211.4 1810.8,212.6 1811.1,211.4 1811.5,212.3 1811.8,211.5 1812.1,211.5 1812.5,212.2 1812.8,211.1 1813.1,211.0 1813.5,209.6 1813.8,209.0 1814.1,209.9 1814.5,210.3 1814.8,210.0 1815.1,210.7 1815.5,213.4 1815.8,211.5 1816.1,211.4 1816.5,212.3 1816.8,211.5 1817.1,211.7 1817.5,212.6 1817.8,212.6 1818.1,211.9 1818.5,212.9 1818.8,211.9 1819.1,211.9 1819.5,212.0 1819.8,211.9 1820.1,212.4 1820.5,212.3 1820.8,211.6 1821.1,212.2 1821.5,211.7 1821.8,211.7 1822.1,212.1 1822.5,212.9 1822.8,212.5 1823.1,213.1 1823.5,213.3 1823.8,212.2 1824.1,211.8 1824.5,211.7 1824.8,212.4 1825.1,212.8 1825.5,213.2 1825.8,211.3 1826.1,212.6 1826.5,212.7 1826.8,213.5 1827.1,212.1 1827.5,212.1 1827.8,211.3 1828.1,211.8 1828.5,211.6 1828.8,211.7 1829.1,211.8 1829.5,211.4 1829.8,212.3 1830.1,212.6 1830.5,212.8 1830.8,212.1 1831.1,212.7 1831.5,212.5 1831.8,210.8 1832.1,211.7 1832.5,211.4 1832.8,211.7 1833.1,212.6 1833.5,212.4 1833.8,213.5 1834.1,213.8 1834.5,212.8 1834.8,212.4 1835.1,212.5 1835.5,212.6 1835.8,213.0 1836.1,212.2 1836.5,213.2 1836.8,212.7 1837.1,213.6 1837.5,213.8 1837.8,213.9 1838.1,212.7 1838.5,211.9 1838.8,211.6 1839.1,212.5 1839.5,211.8 1839.8,211.7 1840.1,212.5 1840.5,212.1 1840.8,213.2 1841.1,214.0 1841.5,212.7 1841.8,213.0 1842.1,211.8 1842.5,213.0 1842.8,212.4 1843.1,212.2 1843.5,211.7 1843.8,213.9 1844.1,211.9 1844.5,212.2 1844.8,212.9 1845.1,213.1 1845.5,213.1 1845.8,213.0 1846.1,212.4 1846.5,213.5 1846.8,213.1 1847.1,212.1 1847.5,214.1 1847.8,212.8 1848.1,213.7 1848.5,212.2 1848.8,212.3 1849.1,212.7 1849.5,212.7 1849.8,213.8 1850.1,212.1 1850.5,213.3 1850.8,212.5 1851.1,213.5 1851.5,213.3 1851.8,212.9 1852.1,214.6 1852.5,213.2 1852.8,214.0 1853.1,212.4 1853.5,213.2 1853.8,213.4 1854.1,213.4 1854.5,213.1 1854.8,212.8 1855.1,211.3 1855.5,212.7 1855.8,212.0 1856.1,211.5 1856.5,211.4 1856.8,212.1 1857.1,211.7 1857.5,212.9 1857.8,213.3 1858.1,213.6 1858.5,213.5 1858.8,212.8 1859.1,212.8 1859.5,213.4 1859.8,214.5 1860.1,214.1 1860.5,214.7 1860.8,212.9 1861.1,213.9 1861.5,214.0 1861.8,214.1 1862.1,212.9 1862.5,212.6 1862.8,212.5 1863.1,213.6 1863.5,215.3 1863.8,214.0 1864.1,213.1 1864.5,214.1 1864.8,213.7 1865.1,214.1 1865.5,213.7 1865.8,213.2 1866.1,213.8 1866.5,214.6 1866.8,214.4 1867.1,214.9 1867.5,213.5 1867.8,214.8 1868.1,214.2 1868.5,214.3 1868.8,215.0 1869.1,214.1 1869.5,214.2 1869.8,214.2 1870.1,213.9 1870.5,213.7 1870.8,214.1 1871.1,213.9 1871.5,213.7 1871.8,215.8 1872.1,214.4 1872.5,214.7 1872.8,214.0 1873.1,213.1 1873.5,214.0 1873.8,214.6 1874.1,214.9 1874.5,214.6 1874.8,215.1 1875.1,215.3 1875.5,215.3 1875.8,214.7 1876.1,214.8 1876.5,214.6 1876.8,214.2 1877.1,215.7 1877.5,214.0 1877.8,214.8 1878.1,215.0 1878.5,213.5 1878.8,215.4 1879.1,214.7 1879.5,215.1 1879.8,214.8 1880.1,214.0 1880.5,215.1 1880.8,215.1 1881.1,215.7 1881.5,215.4 1881.8,214.1 1882.1,215.8 1882.5,215.6 1882.8,215.6 1883.1,215.5 1883.5,214.8 1883.8,215.5 1884.1,215.0 1884.5,217.1 1884.8,215.1 1885.1,214.6 1885.5,215.1 1885.8,216.3 1886.1,215.0 1886.5,213.9 1886.8,216.4 1887.1,215.7 1887.5,215.3 1887.8,216.3 1888.1,215.6 1888.5,215.6 1888.8,216.9 1889.1,215.8 1889.5,216.2 1889.8,215.7 1890.1,216.2 1890.5,215.7 1890.8,214.4 1891.1,216.1 1891.5,215.4 1891.8,216.3 1892.1,215.8 1892.5,216.7 1892.8,215.6 1893.1,214.5 1893.5,215.4 1893.8,215.6 1894.1,214.6 1894.5,214.1 1894.8,215.3 1895.1,214.8 1895.5,216.2 1895.8,216.0 1896.1,215.2 1896.5,215.5 1896.8,215.8 1897.1,216.2 1897.5,215.5 1897.8,215.2 1898.1,215.4 1898.5,215.6 1898.8,215.0 1899.1,214.7 1899.5,215.8 1899.8,214.8 1900.1,214.4 1900.5,215.4 1900.8,216.7 1901.1,216.0 1901.5,215.3 1901.8,214.3 1902.1,214.2 1902.5,215.3 1902.8,215.9 1903.1,215.2 1903.5,215.4 1903.8,216.3 1904.1,214.9 1904.5,215.2 1904.8,216.3 1905.1,216.7 1905.5,216.6 1905.8,217.0 1906.1,217.4 1906.5,217.0 1906.8,216.2 1907.1,217.7 1907.5,217.5 1907.8,217.0 1908.1,216.0 1908.5,216.7 1908.8,215.2 1909.1,216.4 1909.5,215.2 1909.8,216.5 1910.1,217.5 1910.5,216.8 1910.8,217.7 1911.1,216.6 1911.5,216.6 1911.8,216.4 1912.1,216.9 1912.5,216.4 1912.8,217.0 1913.1,217.1 1913.5,216.4 1913.8,215.7 1914.1,217.2 1914.5,218.1 1914.8,217.8 1915.1,217.5 1915.5,217.7 1915.8,217.7 1916.1,215.2 1916.5,217.7 1916.8,217.2 1917.1,217.1 1917.5,216.4 1917.8,216.9 1918.1,217.2 1918.5,215.9 1918.8,217.3 1919.1,216.9 1919.5,217.8 1919.8,217.3 1920.1,216.8 1920.5,216.9 1920.8,217.3 1921.1,217.0 1921.5,217.2 1921.8,216.5 1922.1,216.1 1922.5,216.6 1922.8,216.1 1923.1,216.5 1923.5,217.2 1923.8,216.0 1924.1,216.2 1924.5,217.4 1924.8,216.7 1925.1,217.1 1925.5,216.5 1925.8,217.0 1926.1,218.2 1926.5,220.1 1926.8,219.8 1927.1,218.1 1927.5,218.7 1927.8,218.3 1928.1,217.7 1928.5,216.4 1928.8,217.1 1929.1,218.4 1929.5,216.6 1929.8,217.3 1930.1,216.7 1930.5,216.4 1930.8,216.9 1931.1,217.8 1931.5,217.9 1931.8,216.6 1932.1,216.8 1932.5,216.6 1932.8,215.8 1933.1,217.4 1933.5,217.9 1933.8,217.8 1934.1,216.5 1934.5,217.5 1934.8,217.3 1935.1,216.3 1935.5,216.3 1935.8,216.0 1936.1,216.2 1936.5,217.0 1936.8,215.2 1937.1,214.9 1937.5,216.1 1937.8,215.5 1938.1,214.2 1938.5,214.8 1938.8,214.9 1939.1,215.1 1939.5,215.7 1939.8,216.3 1940.1,215.7 1940.5,216.1 1940.8,215.7 1941.1,216.9 1941.5,217.3 1941.8,216.4 1942.1,216.2 1942.5,217.7 1942.8,216.6 1943.1,214.9 1943.5,214.2 1943.8,215.4 1944.1,217.0 1944.5,216.6 1944.8,217.1 1945.1,217.1 1945.5,217.9 1945.8,218.4 1946.1,216.8 1946.5,217.4 1946.8,217.4 1947.1,216.9 1947.5,216.3 1947.8,217.2 1948.1,216.5 1948.5,216.9 1948.8,217.7 1949.1,216.9 1949.5,217.8 1949.8,217.4 1950.1,217.7 1950.5,217.9 1950.8,217.6 1951.1,216.8 1951.5,218.6 1951.8,217.8 1952.1,217.0 1952.5,216.4 1952.8,217.7 1953.1,218.2 1953.5,218.4 1953.8,218.5 1954.1,217.5 1954.5,218.2 1954.8,216.8 1955.1,217.9 1955.5,218.4 1955.8,217.4 1956.1,217.7 1956.5,217.8 1956.8,217.8 1957.1,218.6 1957.5,217.1 1957.8,218.6 1958.1,217.1 1958.5,217.4 1958.8,217.4 1959.1,217.8 1959.5,217.6 1959.8,218.2 1960.1,217.9 1960.5,219.3 1960.8,218.2 1961.1,217.8 1961.5,218.2 1961.8,218.3 1962.1,217.8 1962.5,217.3 1962.8,217.5 1963.1,218.1 1963.5,218.5 1963.8,218.3 1964.1,217.9 1964.5,218.4 1964.8,217.7 1965.1,218.2 1965.5,218.9 1965.8,218.7 1966.1,218.9 1966.5,217.8 1966.8,218.2 1967.1,217.5 1967.5,218.6 1967.8,217.8 1968.1,217.3 1968.5,217.8 1968.8,218.3 1969.1,216.8 1969.5,217.3 1969.8,218.7 1970.1,218.2 1970.5,218.1 1970.8,217.2 1971.1,219.1 1971.5,218.8 1971.8,218.6 1972.1,217.5 1972.5,218.7 1972.8,219.3 1973.1,218.8 1973.5,219.4 1973.8,219.6 1974.1,220.3 1974.5,219.6 1974.8,219.1 1975.1,218.0 1975.5,217.5 1975.8,218.9 1976.1,219.2 1976.5,218.5 1976.8,218.5 1977.1,216.8 1977.5,216.8 1977.8,217.1 1978.1,217.2 1978.5,218.8 1978.8,217.3 1979.1,217.9 1979.5,218.1 1979.8,217.9 1980.1,218.9 1980.5,217.2 1980.8,219.1 1981.1,218.9 1981.5,218.6 1981.8,219.3 1982.1,220.0 1982.5,218.7 1982.8,219.0 1983.1,218.6 1983.5,218.5 1983.8,217.8 1984.1,217.7 1984.5,218.7 1984.8,218.1 1985.1,218.9 1985.5,218.7 1985.8,217.9 1986.1,218.5 1986.5,218.4 1986.8,218.4 1987.1,219.2 1987.5,218.6 1987.8,218.7 1988.1,217.4 1988.5,218.9 1988.8,217.7 1989.1,218.3 1989.5,219.6 1989.8,219.7 1990.1,218.4 1990.5,217.8 1990.8,218.9 1991.1,218.4 1991.5,218.8 1991.8,217.8 1992.1,219.3 1992.5,219.6 1992.8,217.8 1993.1,218.2 1993.5,218.3 1993.8,219.1 1994.1,217.5 1994.5,218.8 1994.8,218.6 1995.1,218.2 1995.5,219.1 1995.8,217.5 1996.1,217.9 1996.5,218.3 1996.8,219.2 1997.1,218.5 1997.5,218.3 1997.8,219.1 1998.1,218.5 1998.5,218.4 1998.8,218.6 1999.1,219.0 1999.5,220.4 1999.8,218.2 2000.1,219.0 2000.5,218.7 2000.8,218.7 2001.1,219.8 2001.5,219.3 2001.8,219.3 2002.1,218.6 2002.5,218.4 2002.8,219.0 2003.1,218.6 2003.5,218.2 2003.8,218.5 2004.1,217.1 2004.5,217.3 2004.8,218.5 2005.1,218.3 2005.5,218.9 2005.8,218.0 2006.1,218.8 2006.5,218.0 2006.8,219.4 2007.1,219.2 2007.5,219.2 2007.8,219.9 2008.1,219.2 2008.5,218.7 2008.8,220.2 2009.1,219.6 2009.5,220.4 2009.8,219.8 2010.1,220.3 2010.5,218.9 2010.8,218.4 2011.1,218.3 2011.5,219.6 2011.8,217.9 2012.1,218.0 2012.5,218.2 2012.8,219.3 2013.1,219.4 2013.5,218.6 2013.8,219.6 2014.1,219.3 2014.5,219.9 2014.8,219.7 2015.1,218.7 2015.5,219.2 2015.8,218.9 2016.1,219.1 2016.5,218.7 2016.8,218.5 2017.1,219.1 2017.5,218.9 2017.8,219.5 2018.1,219.2 2018.5,219.1 2018.8,219.8 2019.1,219.8 2019.5,220.0 2019.8,219.6 2020.1,219.1 2020.5,219.4 2020.8,219.4 2021.1,218.4 2021.5,218.9 2021.8,220.6 2022.1,219.8 2022.5,218.1 2022.8,219.6 2023.1,219.3 2023.5,217.8 2023.8,219.3 2024.1,218.3 2024.5,218.3 2024.8,218.3 2025.1,219.2 2025.5,219.7 2025.8,219.5 2026.1,218.8 2026.5,219.3 2026.8,219.3 2027.1,219.4 2027.5,218.7 2027.8,219.5 2028.1,219.4 2028.5,219.6 2028.8,219.6 2029.1,218.7 2029.5,220.1 2029.8,220.1 2030.1,218.8 2030.5,219.5 2030.8,219.0 2031.1,219.2 2031.5,220.1 2031.8,219.8 2032.1,220.7 2032.5,219.5 2032.8,218.8 2033.1,219.6 2033.5,218.0 2033.8,220.6 2034.1,219.7 2034.5,219.8 2034.8,219.6 2035.1,219.0 2035.5,219.4 2035.8,219.1 2036.1,219.2 2036.5,219.7 2036.8,218.8 2037.1,220.5 2037.5,219.0 2037.8,220.2 2038.1,219.6 2038.5,219.7 2038.8,221.0 2039.1,220.9 2039.5,220.4 2039.8,220.0 2040.1,219.4 2040.5,219.9 2040.8,219.3 2041.1,219.6 2041.5,220.2 2041.8,218.8 2042.1,219.2 2042.5,219.2 2042.8,219.0 2043.1,218.6 2043.5,219.2" fill="none" stroke="#0b87e3" stroke-width="2.8" stroke-linejoin="round"/>
<polyline points="1168.8,252.3 1169.1,254.5 1169.5,254.9 1169.8,254.9 1170.1,258.3 1170.5,258.1 1170.8,257.9 1171.1,259.7 1171.5,260.0 1171.8,261.6 1172.1,263.4 1172.5,261.3 1172.8,261.1 1173.1,264.4 1173.5,265.6 1173.8,261.3 1174.1,259.7 1174.5,258.1 1174.8,259.3 1175.1,260.5 1175.5,261.8 1175.8,264.5 1176.1,263.4 1176.5,264.0 1176.8,263.5 1177.1,266.7 1177.5,266.5 1177.8,266.8 1178.1,264.4 1178.5,267.1 1178.8,265.9 1179.1,266.5 1179.5,266.4 1179.8,265.5 1180.1,265.7 1180.5,264.2 1180.8,265.5 1181.1,266.0 1181.5,265.0 1181.8,266.6 1182.1,268.1 1182.5,266.1 1182.8,265.7 1183.1,266.0 1183.5,267.3 1183.8,269.3 1184.1,267.6 1184.5,267.6 1184.8,266.2 1185.1,268.2 1185.5,268.7 1185.8,267.6 1186.1,268.2 1186.5,267.6 1186.8,269.4 1187.1,270.2 1187.5,269.3 1187.8,269.6 1188.1,269.2 1188.5,268.5 1188.8,268.5 1189.1,269.1 1189.5,269.8 1189.8,269.8 1190.1,271.1 1190.5,270.9 1190.8,271.9 1191.1,271.3 1191.5,270.2 1191.8,270.7 1192.1,268.9 1192.5,272.8 1192.8,270.3 1193.1,270.6 1193.5,273.3 1193.8,270.1 1194.1,270.7 1194.5,271.5 1194.8,271.0 1195.1,271.8 1195.5,272.0 1195.8,272.2 1196.1,270.1 1196.5,268.3 1196.8,264.4 1197.1,265.2 1197.5,268.5 1197.8,268.2 1198.1,271.6 1198.5,272.6 1198.8,270.5 1199.1,269.2 1199.5,273.1 1199.8,272.1 1200.1,273.8 1200.5,272.9 1200.8,273.0 1201.1,272.7 1201.5,273.3 1201.8,272.2 1202.1,272.5 1202.5,273.8 1202.8,272.5 1203.1,273.3 1203.5,272.9 1203.8,272.9 1204.1,272.6 1204.5,274.8 1204.8,273.1 1205.1,274.5 1205.5,272.5 1205.8,274.6 1206.1,274.9 1206.5,273.8 1206.8,272.9 1207.1,274.6 1207.5,275.1 1207.8,274.5 1208.1,274.5 1208.5,276.4 1208.8,275.4 1209.1,275.2 1209.5,276.8 1209.8,276.0 1210.1,275.4 1210.5,277.3 1210.8,276.1 1211.1,277.7 1211.5,276.1 1211.8,277.4 1212.1,278.6 1212.5,277.9 1212.8,278.1 1213.1,278.2 1213.5,278.8 1213.8,278.2 1214.1,278.8 1214.5,278.3 1214.8,281.1 1215.1,278.3 1215.5,280.3 1215.8,278.4 1216.1,279.9 1216.5,280.7 1216.8,278.2 1217.1,281.3 1217.5,278.5 1217.8,278.8 1218.1,280.1 1218.5,278.7 1218.8,281.0 1219.1,280.6 1219.5,277.2 1219.8,278.7 1220.1,279.5 1220.5,280.9 1220.8,279.3 1221.1,279.8 1221.5,281.3 1221.8,279.7 1222.1,281.1 1222.5,279.5 1222.8,282.1 1223.1,282.6 1223.5,279.9 1223.8,278.7 1224.1,279.5 1224.5,282.4 1224.8,280.8 1225.1,282.6 1225.5,280.2 1225.8,280.7 1226.1,281.6 1226.5,282.9 1226.8,281.7 1227.1,280.9 1227.5,282.3 1227.8,282.2 1228.1,282.7 1228.5,282.1 1228.8,281.7 1229.1,282.4 1229.5,279.9 1229.8,282.8 1230.1,283.9 1230.5,283.3 1230.8,281.8 1231.1,281.2 1231.5,284.3 1231.8,282.4 1232.1,282.8 1232.5,283.4 1232.8,282.6 1233.1,283.3 1233.5,284.9 1233.8,282.9 1234.1,285.5 1234.5,283.9 1234.8,283.9 1235.1,284.7 1235.5,284.7 1235.8,284.9 1236.1,284.5 1236.5,283.3 1236.8,285.7 1237.1,283.9 1237.5,283.3 1237.8,285.1 1238.1,284.9 1238.5,284.3 1238.8,284.3 1239.1,284.5 1239.5,284.9 1239.8,281.1 1240.1,278.4 1240.5,278.7 1240.8,281.0 1241.1,282.1 1241.5,283.2 1241.8,285.4 1242.1,285.8 1242.5,285.0 1242.8,285.5 1243.1,284.7 1243.5,284.8 1243.8,285.1 1244.1,284.2 1244.5,286.0 1244.8,285.6 1245.1,285.3 1245.5,286.0 1245.8,286.3 1246.1,285.8 1246.5,286.9 1246.8,287.7 1247.1,290.6 1247.5,287.4 1247.8,288.2 1248.1,288.3 1248.5,285.8 1248.8,285.7 1249.1,285.7 1249.5,284.9 1249.8,287.9 1250.1,286.5 1250.5,285.6 1250.8,285.8 1251.1,286.1 1251.5,284.9 1251.8,283.8 1252.1,285.4 1252.5,284.7 1252.8,285.9 1253.1,286.9 1253.5,286.2 1253.8,287.1 1254.1,286.4 1254.5,289.8 1254.8,286.6 1255.1,287.6 1255.5,285.8 1255.8,285.1 1256.1,285.6 1256.5,284.9 1256.8,284.3 1257.1,283.7 1257.5,283.0 1257.8,281.9 1258.1,279.4 1258.5,274.6 1258.8,273.6 1259.1,271.1 1259.5,267.3 1259.8,266.9 1260.1,267.8 1260.5,271.4 1260.8,271.7 1261.1,274.4 1261.5,278.9 1261.8,280.0 1262.1,282.3 1262.5,284.7 1262.8,285.6 1263.1,283.9 1263.5,285.6 1263.8,287.8 1264.1,285.9 1264.5,288.6 1264.8,287.4 1265.1,287.7 1265.5,287.8 1265.8,285.8 1266.1,286.9 1266.5,286.5 1266.8,287.8 1267.1,289.1 1267.5,287.4 1267.8,287.7 1268.1,285.8 1268.5,287.3 1268.8,287.5 1269.1,287.6 1269.5,288.3 1269.8,289.1 1270.1,287.8 1270.5,288.2 1270.8,286.2 1271.1,288.1 1271.5,286.9 1271.8,283.7 1272.1,282.9 1272.5,277.2 1272.8,271.8 1273.1,262.5 1273.5,253.1 1273.8,247.4 1274.1,242.2 1274.5,243.6 1274.8,250.0 1275.1,258.8 1275.5,267.0 1275.8,276.3 1276.1,281.8 1276.5,284.4 1276.8,285.2 1277.1,288.3 1277.5,287.9 1277.8,286.3 1278.1,284.4 1278.5,282.7 1278.8,278.3 1279.1,276.2 1279.5,271.4 1279.8,268.5 1280.1,268.6 1280.5,269.2 1280.8,272.3 1281.1,276.9 1281.5,279.1 1281.8,283.1 1282.1,286.9 1282.5,288.6 1282.8,288.4 1283.1,288.6 1283.5,291.7 1283.8,289.0 1284.1,288.5 1284.5,288.5 1284.8,291.5 1285.1,289.1 1285.5,290.4 1285.8,290.6 1286.1,292.0 1286.5,289.6 1286.8,291.0 1287.1,291.4 1287.5,292.5 1287.8,291.1 1288.1,291.7 1288.5,291.3 1288.8,292.8 1289.1,292.8 1289.5,291.7 1289.8,292.7 1290.1,290.9 1290.5,292.3 1290.8,291.3 1291.1,291.5 1291.5,292.7 1291.8,293.9 1292.1,292.6 1292.5,292.8 1292.8,293.0 1293.1,294.3 1293.5,293.6 1293.8,294.8 1294.1,295.4 1294.5,294.6 1294.8,293.7 1295.1,294.8 1295.5,293.6 1295.8,292.7 1296.1,295.4 1296.5,296.2 1296.8,295.7 1297.1,294.2 1297.5,291.4 1297.8,293.9 1298.1,295.1 1298.5,294.2 1298.8,295.8 1299.1,293.8 1299.5,295.0 1299.8,294.7 1300.1,294.6 1300.5,293.0 1300.8,293.9 1301.1,293.7 1301.5,292.3 1301.8,290.3 1302.1,289.2 1302.5,286.3 1302.8,284.7 1303.1,282.3 1303.5,278.8 1303.8,276.1 1304.1,273.1 1304.5,271.6 1304.8,268.8 1305.1,270.9 1305.5,273.0 1305.8,274.0 1306.1,278.0 1306.5,279.2 1306.8,283.8 1307.1,286.4 1307.5,289.4 1307.8,290.9 1308.1,294.1 1308.5,290.2 1308.8,292.4 1309.1,293.4 1309.5,294.3 1309.8,293.8 1310.1,293.8 1310.5,293.0 1310.8,293.2 1311.1,293.7 1311.5,295.8 1311.8,293.6 1312.1,296.7 1312.5,294.9 1312.8,293.1 1313.1,293.1 1313.5,291.6 1313.8,287.1 1314.1,283.3 1314.5,282.0 1314.8,275.8 1315.1,273.2 1315.5,269.0 1315.8,263.6 1316.1,263.7 1316.5,263.4 1316.8,265.2 1317.1,266.2 1317.5,269.6 1317.8,273.4 1318.1,277.3 1318.5,283.3 1318.8,286.5 1319.1,290.0 1319.5,291.2 1319.8,293.3 1320.1,292.4 1320.5,293.3 1320.8,295.0 1321.1,294.1 1321.5,294.0 1321.8,294.4 1322.1,292.7 1322.5,293.6 1322.8,293.1 1323.1,291.7 1323.5,290.9 1323.8,294.1 1324.1,293.8 1324.5,293.2 1324.8,293.9 1325.1,293.1 1325.5,293.0 1325.8,293.0 1326.1,294.1 1326.5,295.6 1326.8,296.4 1327.1,296.0 1327.5,297.0 1327.8,296.2 1328.1,294.3 1328.5,294.3 1328.8,295.1 1329.1,295.5 1329.5,295.8 1329.8,293.8 1330.1,293.4 1330.5,297.0 1330.8,295.3 1331.1,296.6 1331.5,295.7 1331.8,294.1 1332.1,296.0 1332.5,294.6 1332.8,294.7 1333.1,292.9 1333.5,290.3 1333.8,289.5 1334.1,288.5 1334.5,285.0 1334.8,283.7 1335.1,282.6 1335.5,279.1 1335.8,278.9 1336.1,279.1 1336.5,280.3 1336.8,280.6 1337.1,281.7 1337.5,284.9 1337.8,286.0 1338.1,289.0 1338.5,290.8 1338.8,291.9 1339.1,294.0 1339.5,295.4 1339.8,294.2 1340.1,296.3 1340.5,296.2 1340.8,296.4 1341.1,297.1 1341.5,298.3 1341.8,297.4 1342.1,297.3 1342.5,296.4 1342.8,297.1 1343.1,297.2 1343.5,296.4 1343.8,297.0 1344.1,297.7 1344.5,298.5 1344.8,297.2 1345.1,299.1 1345.5,298.4 1345.8,298.3 1346.1,298.2 1346.5,297.9 1346.8,297.3 1347.1,297.9 1347.5,298.0 1347.8,298.2 1348.1,299.4 1348.5,299.8 1348.8,298.7 1349.1,299.2 1349.5,297.9 1349.8,297.0 1350.1,298.8 1350.5,299.7 1350.8,301.6 1351.1,303.1 1351.5,301.6 1351.8,301.9 1352.1,301.1 1352.5,300.3 1352.8,301.2 1353.1,301.6 1353.5,302.8 1353.8,300.4 1354.1,298.7 1354.5,300.0 1354.8,300.2 1355.1,300.1 1355.5,298.6 1355.8,299.5 1356.1,298.7 1356.5,300.0 1356.8,299.1 1357.1,299.0 1357.5,300.7 1357.8,299.0 1358.1,298.9 1358.5,300.7 1358.8,300.2 1359.1,298.3 1359.5,301.1 1359.8,299.2 1360.1,299.9 1360.5,300.2 1360.8,301.8 1361.1,300.3 1361.5,301.0 1361.8,300.2 1362.1,300.7 1362.5,299.3 1362.8,300.4 1363.1,299.9 1363.5,299.6 1363.8,300.7 1364.1,301.3 1364.5,300.9 1364.8,300.3 1365.1,301.1 1365.5,299.7 1365.8,300.8 1366.1,301.0 1366.5,300.5 1366.8,300.4 1367.1,300.6 1367.5,299.9 1367.8,299.6 1368.1,299.6 1368.5,297.0 1368.8,299.5 1369.1,299.5 1369.5,300.0 1369.8,299.7 1370.1,300.4 1370.5,300.3 1370.8,301.3 1371.1,301.3 1371.5,301.7 1371.8,300.9 1372.1,299.3 1372.5,300.2 1372.8,300.6 1373.1,301.2 1373.5,299.8 1373.8,300.8 1374.1,301.0 1374.5,300.5 1374.8,300.8 1375.1,302.7 1375.5,301.0 1375.8,302.5 1376.1,301.2 1376.5,300.5 1376.8,301.5 1377.1,300.8 1377.5,301.0 1377.8,299.4 1378.1,301.4 1378.5,300.7 1378.8,302.0 1379.1,301.2 1379.5,300.9 1379.8,300.4 1380.1,301.2 1380.5,300.9 1380.8,300.6 1381.1,302.6 1381.5,301.1 1381.8,302.0 1382.1,302.7 1382.5,302.2 1382.8,302.6 1383.1,302.5 1383.5,302.6 1383.8,302.1 1384.1,301.8 1384.5,301.4 1384.8,301.0 1385.1,301.0 1385.5,300.9 1385.8,301.5 1386.1,302.3 1386.5,300.7 1386.8,301.0 1387.1,300.8 1387.5,301.6 1387.8,302.4 1388.1,301.2 1388.5,301.2 1388.8,299.1 1389.1,300.6 1389.5,301.4 1389.8,300.8 1390.1,300.2 1390.5,301.8 1390.8,301.4 1391.1,302.8 1391.5,301.1 1391.8,301.4 1392.1,301.2 1392.5,301.6 1392.8,300.2 1393.1,302.5 1393.5,302.0 1393.8,301.4 1394.1,301.3 1394.5,301.9 1394.8,301.8 1395.1,301.3 1395.5,301.5 1395.8,301.8 1396.1,301.3 1396.5,301.4 1396.8,301.3 1397.1,301.4 1397.5,300.8 1397.8,301.1 1398.1,302.1 1398.5,302.4 1398.8,301.9 1399.1,299.4 1399.5,300.8 1399.8,302.0 1400.1,302.9 1400.5,302.5 1400.8,301.6 1401.1,301.5 1401.5,301.4 1401.8,302.9 1402.1,301.9 1402.5,301.1 1402.8,302.4 1403.1,302.3 1403.5,300.4 1403.8,301.4 1404.1,302.7 1404.5,303.0 1404.8,301.8 1405.1,302.7 1405.5,303.1 1405.8,302.3 1406.1,300.7 1406.5,300.6 1406.8,300.7 1407.1,300.5 1407.5,299.9 1407.8,302.7 1408.1,301.7 1408.5,300.7 1408.8,301.6 1409.1,300.0 1409.5,301.4 1409.8,301.9 1410.1,303.6 1410.5,302.1 1410.8,302.2 1411.1,302.5 1411.5,302.2 1411.8,301.9 1412.1,303.5 1412.5,303.2 1412.8,303.9 1413.1,303.3 1413.5,301.7 1413.8,301.8 1414.1,301.7 1414.5,301.7 1414.8,302.3 1415.1,301.9 1415.5,301.6 1415.8,303.5 1416.1,303.8 1416.5,303.1 1416.8,302.3 1417.1,302.2 1417.5,301.6 1417.8,301.1 1418.1,301.0 1418.5,301.9 1418.8,302.1 1419.1,302.3 1419.5,301.4 1419.8,302.3 1420.1,303.4 1420.5,302.2 1420.8,301.8 1421.1,304.0 1421.5,302.3 1421.8,301.7 1422.1,302.7 1422.5,301.6 1422.8,301.9 1423.1,302.8 1423.5,301.7 1423.8,301.1 1424.1,302.6 1424.5,302.7 1424.8,301.2 1425.1,301.9 1425.5,302.9 1425.8,302.3 1426.1,302.7 1426.5,302.1 1426.8,301.7 1427.1,301.8 1427.5,301.9 1427.8,302.2 1428.1,300.1 1428.5,300.6 1428.8,302.0 1429.1,302.5 1429.5,301.7 1429.8,302.2 1430.1,301.5 1430.5,301.3 1430.8,302.3 1431.1,302.2 1431.5,301.9 1431.8,301.4 1432.1,302.3 1432.5,302.2 1432.8,302.1 1433.1,302.2 1433.5,302.0 1433.8,302.7 1434.1,302.6 1434.5,303.6 1434.8,303.4 1435.1,302.3 1435.5,301.5 1435.8,302.7 1436.1,301.8 1436.5,303.2 1436.8,301.0 1437.1,301.7 1437.5,303.0 1437.8,302.1 1438.1,302.7 1438.5,302.7 1438.8,302.0 1439.1,302.9 1439.5,301.7 1439.8,302.1 1440.1,303.8 1440.5,302.2 1440.8,302.6 1441.1,301.6 1441.5,303.3 1441.8,301.7 1442.1,301.9 1442.5,302.0 1442.8,301.7 1443.1,301.4 1443.5,302.2 1443.8,302.1 1444.1,302.5 1444.5,302.0 1444.8,302.1 1445.1,302.3 1445.5,302.3 1445.8,301.5 1446.1,302.1 1446.5,302.1 1446.8,303.1 1447.1,302.8 1447.5,302.8 1447.8,303.1 1448.1,302.0 1448.5,303.4 1448.8,302.6 1449.1,302.1 1449.5,302.6 1449.8,301.6 1450.1,303.4 1450.5,302.2 1450.8,300.9 1451.1,300.9 1451.5,300.9 1451.8,300.4 1452.1,300.6 1452.5,300.2 1452.8,299.6 1453.1,298.5 1453.5,296.7 1453.8,297.3 1454.1,296.7 1454.5,294.0 1454.8,294.5 1455.1,294.4 1455.5,294.2 1455.8,295.7 1456.1,295.8 1456.5,296.1 1456.8,296.0 1457.1,296.3 1457.5,298.0 1457.8,299.0 1458.1,299.7 1458.5,299.5 1458.8,300.4 1459.1,301.7 1459.5,302.6 1459.8,302.4 1460.1,302.6 1460.5,302.7 1460.8,302.6 1461.1,303.5 1461.5,302.2 1461.8,303.0 1462.1,302.1 1462.5,303.9 1462.8,303.7 1463.1,303.8 1463.5,303.0 1463.8,302.8 1464.1,302.0 1464.5,303.0 1464.8,303.7 1465.1,300.9 1465.5,303.9 1465.8,302.1 1466.1,302.9 1466.5,301.9 1466.8,302.2 1467.1,302.6 1467.5,301.6 1467.8,302.6 1468.1,301.0 1468.5,301.0 1468.8,299.6 1469.1,299.2 1469.5,298.8 1469.8,299.0 1470.1,299.4 1470.5,298.1 1470.8,297.1 1471.1,297.6 1471.5,297.3 1471.8,299.0 1472.1,299.3 1472.5,299.3 1472.8,300.6 1473.1,302.2 1473.5,302.4 1473.8,302.0 1474.1,303.0 1474.5,302.8 1474.8,302.2 1475.1,302.7 1475.5,304.0 1475.8,302.2 1476.1,303.8 1476.5,303.2 1476.8,304.1 1477.1,304.2 1477.5,304.0 1477.8,303.3 1478.1,302.8 1478.5,302.9 1478.8,302.8 1479.1,301.7 1479.5,303.3 1479.8,304.0 1480.1,303.8 1480.5,303.4 1480.8,302.0 1481.1,303.6 1481.5,303.7 1481.8,304.2 1482.1,302.6 1482.5,303.1 1482.8,302.9 1483.1,303.1 1483.5,302.1 1483.8,303.0 1484.1,303.0 1484.5,303.1 1484.8,304.4 1485.1,302.9 1485.5,303.0 1485.8,304.1 1486.1,303.0 1486.5,304.1 1486.8,303.7 1487.1,302.9 1487.5,302.9 1487.8,303.5 1488.1,303.2 1488.5,303.4 1488.8,303.0 1489.1,303.8 1489.5,303.0 1489.8,303.1 1490.1,303.3 1490.5,302.6 1490.8,303.2 1491.1,303.3 1491.5,302.5 1491.8,302.3 1492.1,304.3 1492.5,303.5 1492.8,303.7 1493.1,303.6 1493.5,305.1 1493.8,303.8 1494.1,302.5 1494.5,303.9 1494.8,302.9 1495.1,303.7 1495.5,303.2 1495.8,303.9 1496.1,303.0 1496.5,302.2 1496.8,303.4 1497.1,304.6 1497.5,302.8 1497.8,304.1 1498.1,303.8 1498.5,303.9 1498.8,302.7 1499.1,302.9 1499.5,304.5 1499.8,303.7 1500.1,303.2 1500.5,304.8 1500.8,304.4 1501.1,304.1 1501.5,303.0 1501.8,303.6 1502.1,304.6 1502.5,302.3 1502.8,302.6 1503.1,303.1 1503.5,304.3 1503.8,303.8 1504.1,304.0 1504.5,303.8 1504.8,303.7 1505.1,304.5 1505.5,306.1 1505.8,304.0 1506.1,304.5 1506.5,303.4 1506.8,304.7 1507.1,303.7 1507.5,303.7 1507.8,303.2 1508.1,302.9 1508.5,303.0 1508.8,302.5 1509.1,302.2 1509.5,304.1 1509.8,302.9 1510.1,302.9 1510.5,302.3 1510.8,300.8 1511.1,301.7 1511.5,301.1 1511.8,301.2 1512.1,301.9 1512.5,302.5 1512.8,303.0 1513.1,303.6 1513.5,303.5 1513.8,303.5 1514.1,304.0 1514.5,304.2 1514.8,303.3 1515.1,302.5 1515.5,303.1 1515.8,303.8 1516.1,304.1 1516.5,304.4 1516.8,304.5 1517.1,304.0 1517.5,303.6 1517.8,302.8 1518.1,304.5 1518.5,304.2 1518.8,303.3 1519.1,303.9 1519.5,303.6 1519.8,303.6 1520.1,305.0 1520.5,303.6 1520.8,305.5 1521.1,303.8 1521.5,303.5 1521.8,304.3 1522.1,306.2 1522.5,304.8 1522.8,305.3 1523.1,303.4 1523.5,305.2 1523.8,303.6 1524.1,304.3 1524.5,305.1 1524.8,303.8 1525.1,304.4 1525.5,303.8 1525.8,303.7 1526.1,304.1 1526.5,304.7 1526.8,304.0 1527.1,303.9 1527.5,303.3 1527.8,302.8 1528.1,304.1 1528.5,303.9 1528.8,304.2 1529.1,304.8 1529.5,304.7 1529.8,303.7 1530.1,304.5 1530.5,304.5 1530.8,304.0 1531.1,302.5 1531.5,303.2 1531.8,303.1 1532.1,302.6 1532.5,300.2 1532.8,297.0 1533.1,295.4 1533.5,290.1 1533.8,285.3 1534.1,281.9 1534.5,279.0 1534.8,277.1 1535.1,277.1 1535.5,279.1 1535.8,283.4 1536.1,286.8 1536.5,291.4 1536.8,293.5 1537.1,297.6 1537.5,300.0 1537.8,301.6 1538.1,301.6 1538.5,303.2 1538.8,304.9 1539.1,304.2 1539.5,303.7 1539.8,303.6 1540.1,303.2 1540.5,304.3 1540.8,303.6 1541.1,303.9 1541.5,304.8 1541.8,304.8 1542.1,304.6 1542.5,303.1 1542.8,303.8 1543.1,305.0 1543.5,303.4 1543.8,305.1 1544.1,304.2 1544.5,304.9 1544.8,304.1 1545.1,303.9 1545.5,304.4 1545.8,306.5 1546.1,305.4 1546.5,304.7 1546.8,306.1 1547.1,304.8 1547.5,305.9 1547.8,306.2 1548.1,305.9 1548.5,305.5 1548.8,304.7 1549.1,302.8 1549.5,304.4 1549.8,304.1 1550.1,304.0 1550.5,304.5 1550.8,304.8 1551.1,304.4 1551.5,305.3 1551.8,305.8 1552.1,304.5 1552.5,304.0 1552.8,303.3 1553.1,304.6 1553.5,302.9 1553.8,305.2 1554.1,304.6 1554.5,303.4 1554.8,304.1 1555.1,302.9 1555.5,302.5 1555.8,303.6 1556.1,302.1 1556.5,302.8 1556.8,302.3 1557.1,303.3 1557.5,302.3 1557.8,303.0 1558.1,302.3 1558.5,301.1 1558.8,300.8 1559.1,300.1 1559.5,301.6 1559.8,299.8 1560.1,301.3 1560.5,300.5 1560.8,301.9 1561.1,303.0 1561.5,302.2 1561.8,302.7 1562.1,303.0 1562.5,303.7 1562.8,302.7 1563.1,304.0 1563.5,304.0 1563.8,303.5 1564.1,303.7 1564.5,305.2 1564.8,305.0 1565.1,304.8 1565.5,304.1 1565.8,304.6 1566.1,304.3 1566.5,304.6 1566.8,306.2 1567.1,306.6 1567.5,306.0 1567.8,305.3 1568.1,305.6 1568.5,304.5 1568.8,303.2 1569.1,305.2 1569.5,302.3 1569.8,303.5 1570.1,303.0 1570.5,304.5 1570.8,304.5 1571.1,305.4 1571.5,304.8 1571.8,304.5 1572.1,306.2 1572.5,305.4 1572.8,305.3 1573.1,304.7 1573.5,303.1 1573.8,302.3 1574.1,301.5 1574.5,299.5 1574.8,296.9 1575.1,295.2 1575.5,293.7 1575.8,291.5 1576.1,292.3 1576.5,291.5 1576.8,290.8 1577.1,293.7 1577.5,294.4 1577.8,297.1 1578.1,299.3 1578.5,300.4 1578.8,302.2 1579.1,304.0 1579.5,303.0 1579.8,303.3 1580.1,304.9 1580.5,305.1 1580.8,306.8 1581.1,306.1 1581.5,305.9 1581.8,305.5 1582.1,304.3 1582.5,304.8 1582.8,305.4 1583.1,305.8 1583.5,305.4 1583.8,305.8 1584.1,306.2 1584.5,305.3 1584.8,305.5 1585.1,305.2 1585.5,306.8 1585.8,304.9 1586.1,306.9 1586.5,307.2 1586.8,305.2 1587.1,305.9 1587.5,306.8 1587.8,305.4 1588.1,305.6 1588.5,306.0 1588.8,306.9 1589.1,306.5 1589.5,305.7 1589.8,305.2 1590.1,305.1 1590.5,306.4 1590.8,304.7 1591.1,305.8 1591.5,306.6 1591.8,305.5 1592.1,306.1 1592.5,306.2 1592.8,306.8 1593.1,305.4 1593.5,306.4 1593.8,306.3 1594.1,306.5 1594.5,305.4 1594.8,306.8 1595.1,305.9 1595.5,306.4 1595.8,305.9 1596.1,307.8 1596.5,306.4 1596.8,307.6 1597.1,305.4 1597.5,305.3 1597.8,306.4 1598.1,305.4 1598.5,306.3 1598.8,307.2 1599.1,306.3 1599.5,306.2 1599.8,306.6 1600.1,307.5 1600.5,307.1 1600.8,307.6 1601.1,306.6 1601.5,306.4 1601.8,306.0 1602.1,306.5 1602.5,306.3 1602.8,306.5 1603.1,306.0 1603.5,306.2 1603.8,306.5 1604.1,307.4 1604.5,306.6 1604.8,306.4 1605.1,307.5 1605.5,307.7 1605.8,306.6 1606.1,306.7 1606.5,305.6 1606.8,305.8 1607.1,306.8 1607.5,307.8 1607.8,308.2 1608.1,307.6 1608.5,307.1 1608.8,308.2 1609.1,307.4 1609.5,308.5 1609.8,307.6 1610.1,307.9 1610.5,308.4 1610.8,308.7 1611.1,307.4 1611.5,307.6 1611.8,306.3 1612.1,306.9 1612.5,308.1 1612.8,307.6 1613.1,307.2 1613.5,306.8 1613.8,307.4 1614.1,306.0 1614.5,305.8 1614.8,307.5 1615.1,304.8 1615.5,305.4 1615.8,304.5 1616.1,305.5 1616.5,304.1 1616.8,303.9 1617.1,303.8 1617.5,304.5 1617.8,303.4 1618.1,303.3 1618.5,304.6 1618.8,304.9 1619.1,305.9 1619.5,305.6 1619.8,305.5 1620.1,306.1 1620.5,306.1 1620.8,306.3 1621.1,305.4 1621.5,304.2 1621.8,305.8 1622.1,306.3 1622.5,306.6 1622.8,307.2 1623.1,306.8 1623.5,307.7 1623.8,306.8 1624.1,308.0 1624.5,306.3 1624.8,305.5 1625.1,306.4 1625.5,308.9 1625.8,306.9 1626.1,307.0 1626.5,307.2 1626.8,306.8 1627.1,307.2 1627.5,307.1 1627.8,308.4 1628.1,307.9 1628.5,307.3 1628.8,307.5 1629.1,307.5 1629.5,306.4 1629.8,307.8 1630.1,306.7 1630.5,307.6 1630.8,307.2 1631.1,307.7 1631.5,308.1 1631.8,307.5 1632.1,306.8 1632.5,306.9 1632.8,307.5 1633.1,306.8 1633.5,306.9 1633.8,307.0 1634.1,306.9 1634.5,307.5 1634.8,306.8 1635.1,307.2 1635.5,306.7 1635.8,306.0 1636.1,307.7 1636.5,307.8 1636.8,306.8 1637.1,307.6 1637.5,307.2 1637.8,306.2 1638.1,307.7 1638.5,305.6 1638.8,307.0 1639.1,307.6 1639.5,306.4 1639.8,308.2 1640.1,306.8 1640.5,308.0 1640.8,307.1 1641.1,307.6 1641.5,307.1 1641.8,308.8 1642.1,307.5 1642.5,307.9 1642.8,307.7 1643.1,307.4 1643.5,307.1 1643.8,307.5 1644.1,307.9 1644.5,307.8 1644.8,307.6 1645.1,307.1 1645.5,307.7 1645.8,306.6 1646.1,307.2 1646.5,305.9 1646.8,306.8 1647.1,307.1 1647.5,306.3 1647.8,306.5 1648.1,307.9 1648.5,307.6 1648.8,308.0 1649.1,308.2 1649.5,307.9 1649.8,308.0 1650.1,307.6 1650.5,308.2 1650.8,306.1 1651.1,306.8 1651.5,307.2 1651.8,306.5 1652.1,305.2 1652.5,303.8 1652.8,303.1 1653.1,300.6 1653.5,297.8 1653.8,297.1 1654.1,293.8 1654.5,292.3 1654.8,289.8 1655.1,288.6 1655.5,290.9 1655.8,292.7 1656.1,291.8 1656.5,295.1 1656.8,298.1 1657.1,300.0 1657.5,301.9 1657.8,303.5 1658.1,304.2 1658.5,306.5 1658.8,307.0 1659.1,307.0 1659.5,305.5 1659.8,308.3 1660.1,307.2 1660.5,307.6 1660.8,308.6 1661.1,308.2 1661.5,307.3 1661.8,308.0 1662.1,307.7 1662.5,307.0 1662.8,307.5 1663.1,306.3 1663.5,306.5 1663.8,307.7 1664.1,308.5 1664.5,306.8 1664.8,308.2 1665.1,307.5 1665.5,308.5 1665.8,307.1 1666.1,309.3 1666.5,307.7 1666.8,307.2 1667.1,307.5 1667.5,306.2 1667.8,307.6 1668.1,307.2 1668.5,307.7 1668.8,307.1 1669.1,305.3 1669.5,305.2 1669.8,306.2 1670.1,305.8 1670.5,307.4 1670.8,306.3 1671.1,307.6 1671.5,307.4 1671.8,308.8 1672.1,308.0 1672.5,308.1 1672.8,307.1 1673.1,307.8 1673.5,307.9 1673.8,307.3 1674.1,307.9 1674.5,306.7 1674.8,307.2 1675.1,307.7 1675.5,307.2 1675.8,308.2 1676.1,307.8 1676.5,307.0 1676.8,306.8 1677.1,307.4 1677.5,306.9 1677.8,307.0 1678.1,306.4 1678.5,307.5 1678.8,307.0 1679.1,307.1 1679.5,307.6 1679.8,305.7 1680.1,307.4 1680.5,307.2 1680.8,307.8 1681.1,307.7 1681.5,307.6 1681.8,307.9 1682.1,305.6 1682.5,306.1 1682.8,307.7 1683.1,308.1 1683.5,306.8 1683.8,308.1 1684.1,308.1 1684.5,306.8 1684.8,307.5 1685.1,308.3 1685.5,308.1 1685.8,309.2 1686.1,308.2 1686.5,308.2 1686.8,307.1 1687.1,306.6 1687.5,307.0 1687.8,308.4 1688.1,308.7 1688.5,306.9 1688.8,307.4 1689.1,305.8 1689.5,308.3 1689.8,306.6 1690.1,308.0 1690.5,308.3 1690.8,306.6 1691.1,306.9 1691.5,307.9 1691.8,308.4 1692.1,307.1 1692.5,306.8 1692.8,307.7 1693.1,308.3 1693.5,306.7 1693.8,306.9 1694.1,308.0 1694.5,307.1 1694.8,306.2 1695.1,306.6 1695.5,307.1 1695.8,307.7 1696.1,307.5 1696.5,307.4 1696.8,306.3 1697.1,307.8 1697.5,307.8 1697.8,307.6 1698.1,307.5 1698.5,307.6 1698.8,308.2 1699.1,307.5 1699.5,307.2 1699.8,308.8 1700.1,308.0 1700.5,307.8 1700.8,308.1 1701.1,307.4 1701.5,307.5 1701.8,306.8 1702.1,308.3 1702.5,306.6 1702.8,308.3 1703.1,306.5 1703.5,306.8 1703.8,306.9 1704.1,307.6 1704.5,307.1 1704.8,306.6 1705.1,306.1 1705.5,307.3 1705.8,306.2 1706.1,305.8 1706.5,304.8 1706.8,304.0 1707.1,304.2 1707.5,303.4 1707.8,303.3 1708.1,302.2 1708.5,300.8 1708.8,302.1 1709.1,301.6 1709.5,301.5 1709.8,299.9 1710.1,301.8 1710.5,303.0 1710.8,303.0 1711.1,304.2 1711.5,305.0 1711.8,305.1 1712.1,304.8 1712.5,305.8 1712.8,305.7 1713.1,305.1 1713.5,304.1 1713.8,304.9 1714.1,306.8 1714.5,306.7 1714.8,306.1 1715.1,307.3 1715.5,307.5 1715.8,307.9 1716.1,307.8 1716.5,307.6 1716.8,306.8 1717.1,306.1 1717.5,306.8 1717.8,308.2 1718.1,306.5 1718.5,308.1 1718.8,306.6 1719.1,306.7 1719.5,307.7 1719.8,307.1 1720.1,307.4 1720.5,306.8 1720.8,307.7 1721.1,308.2 1721.5,306.7 1721.8,308.0 1722.1,307.8 1722.5,308.1 1722.8,306.1 1723.1,308.0 1723.5,306.4 1723.8,306.4 1724.1,305.7 1724.5,305.1 1724.8,305.5 1725.1,306.2 1725.5,307.3 1725.8,308.0 1726.1,307.4 1726.5,308.1 1726.8,307.7 1727.1,308.4 1727.5,306.8 1727.8,307.7 1728.1,307.6 1728.5,307.7 1728.8,307.9 1729.1,308.2 1729.5,307.7 1729.8,308.0 1730.1,307.5 1730.5,307.5 1730.8,307.2 1731.1,308.3 1731.5,308.0 1731.8,308.3 1732.1,307.2 1732.5,307.4 1732.8,309.2 1733.1,308.3 1733.5,306.8 1733.8,308.3 1734.1,308.4 1734.5,308.6 1734.8,309.5 1735.1,310.0 1735.5,310.6 1735.8,310.2 1736.1,309.2 1736.5,308.7 1736.8,307.7 1737.1,308.3 1737.5,308.4 1737.8,307.6 1738.1,307.5 1738.5,308.2 1738.8,307.8 1739.1,309.2 1739.5,306.1 1739.8,306.3 1740.1,307.0 1740.5,308.0 1740.8,308.2 1741.1,307.4 1741.5,307.7 1741.8,307.6 1742.1,308.2 1742.5,309.4 1742.8,306.9 1743.1,310.1 1743.5,309.5 1743.8,308.6 1744.1,308.9 1744.5,308.4 1744.8,308.5 1745.1,308.2 1745.5,308.2 1745.8,306.8 1746.1,307.8 1746.5,307.0 1746.8,307.3 1747.1,308.1 1747.5,307.4 1747.8,307.9 1748.1,308.0 1748.5,307.8 1748.8,307.0 1749.1,308.2 1749.5,308.2 1749.8,309.9 1750.1,308.2 1750.5,309.7 1750.8,308.5 1751.1,308.2 1751.5,309.1 1751.8,307.8 1752.1,308.3 1752.5,307.8 1752.8,307.1 1753.1,307.5 1753.5,307.4 1753.8,307.5 1754.1,308.9 1754.5,308.1 1754.8,306.7 1755.1,309.0 1755.5,308.0 1755.8,308.4 1756.1,308.8 1756.5,307.3 1756.8,308.0 1757.1,307.7 1757.5,307.6 1757.8,307.6 1758.1,307.9 1758.5,308.6 1758.8,308.3 1759.1,308.0 1759.5,308.6 1759.8,306.3 1760.1,307.9 1760.5,308.2 1760.8,308.4 1761.1,309.5 1761.5,309.2 1761.8,310.2 1762.1,309.0 1762.5,309.3 1762.8,308.6 1763.1,308.1 1763.5,308.4 1763.8,308.3 1764.1,307.3 1764.5,308.5 1764.8,307.7 1765.1,307.9 1765.5,306.1 1765.8,307.9 1766.1,306.6 1766.5,308.4 1766.8,307.4 1767.1,307.6 1767.5,307.8 1767.8,307.0 1768.1,307.9 1768.5,307.1 1768.8,307.7 1769.1,308.4 1769.5,308.6 1769.8,308.7 1770.1,307.5 1770.5,307.0 1770.8,308.0 1771.1,308.8 1771.5,307.3 1771.8,308.8 1772.1,307.8 1772.5,306.2 1772.8,307.8 1773.1,308.8 1773.5,307.7 1773.8,307.7 1774.1,307.2 1774.5,306.1 1774.8,306.0 1775.1,307.1 1775.5,307.6 1775.8,307.3 1776.1,307.4 1776.5,308.4 1776.8,308.9 1777.1,306.9 1777.5,307.3 1777.8,307.9 1778.1,307.8 1778.5,306.4 1778.8,309.8 1779.1,308.4 1779.5,308.2 1779.8,306.7 1780.1,308.1 1780.5,307.2 1780.8,308.3 1781.1,308.1 1781.5,308.0 1781.8,308.2 1782.1,307.6 1782.5,308.1 1782.8,306.4 1783.1,308.4 1783.5,307.8 1783.8,309.6 1784.1,308.0 1784.5,306.5 1784.8,309.0 1785.1,307.5 1785.5,307.2 1785.8,307.9 1786.1,308.8 1786.5,309.2 1786.8,307.7 1787.1,308.1 1787.5,308.1 1787.8,307.6 1788.1,307.7 1788.5,307.9 1788.8,307.9 1789.1,308.7 1789.5,306.7 1789.8,308.3 1790.1,308.2 1790.5,308.9 1790.8,307.8 1791.1,307.8 1791.5,308.2 1791.8,307.9 1792.1,308.1 1792.5,308.5 1792.8,309.1 1793.1,309.3 1793.5,309.6 1793.8,308.9 1794.1,308.3 1794.5,307.5 1794.8,308.8 1795.1,308.4 1795.5,308.3 1795.8,307.7 1796.1,308.8 1796.5,308.2 1796.8,308.4 1797.1,308.8 1797.5,308.9 1797.8,309.7 1798.1,308.3 1798.5,308.0 1798.8,308.3 1799.1,307.9 1799.5,308.4 1799.8,308.6 1800.1,308.9 1800.5,308.6 1800.8,307.8 1801.1,307.9 1801.5,307.8 1801.8,308.8 1802.1,307.9 1802.5,307.5 1802.8,307.4 1803.1,308.5 1803.5,307.5 1803.8,306.4 1804.1,308.5 1804.5,308.3 1804.8,308.6 1805.1,308.7 1805.5,308.4 1805.8,308.3 1806.1,308.1 1806.5,307.6 1806.8,306.7 1807.1,306.8 1807.5,308.3 1807.8,308.6 1808.1,308.1 1808.5,307.6 1808.8,308.4 1809.1,307.8 1809.5,307.5 1809.8,307.0 1810.1,306.3 1810.5,306.5 1810.8,307.8 1811.1,308.9 1811.5,309.1 1811.8,308.0 1812.1,308.4 1812.5,308.1 1812.8,308.2 1813.1,308.4 1813.5,308.7 1813.8,307.4 1814.1,309.2 1814.5,308.0 1814.8,307.5 1815.1,309.6 1815.5,307.6 1815.8,308.1 1816.1,307.7 1816.5,308.9 1816.8,306.5 1817.1,308.5 1817.5,307.3 1817.8,309.3 1818.1,309.6 1818.5,308.8 1818.8,307.7 1819.1,309.0 1819.5,310.0 1819.8,309.2 1820.1,309.4 1820.5,310.8 1820.8,308.9 1821.1,309.0 1821.5,308.7 1821.8,308.6 1822.1,309.2 1822.5,308.8 1822.8,308.8 1823.1,309.1 1823.5,310.0 1823.8,310.0 1824.1,309.6 1824.5,308.9 1824.8,307.4 1825.1,308.6 1825.5,307.8 1825.8,309.0 1826.1,308.0 1826.5,308.0 1826.8,307.8 1827.1,308.8 1827.5,308.1 1827.8,309.9 1828.1,308.9 1828.5,307.4 1828.8,308.2 1829.1,308.8 1829.5,308.6 1829.8,308.5 1830.1,308.1 1830.5,306.8 1830.8,306.7 1831.1,307.9 1831.5,306.6 1831.8,306.7 1832.1,306.6 1832.5,304.7 1832.8,304.3 1833.1,305.7 1833.5,304.9 1833.8,305.1 1834.1,306.2 1834.5,305.6 1834.8,306.0 1835.1,306.6 1835.5,305.7 1835.8,308.3 1836.1,307.8 1836.5,307.5 1836.8,309.0 1837.1,308.2 1837.5,308.9 1837.8,308.8 1838.1,309.2 1838.5,308.5 1838.8,308.7 1839.1,307.9 1839.5,308.4 1839.8,308.5 1840.1,308.5 1840.5,308.5 1840.8,308.3 1841.1,307.6 1841.5,306.7 1841.8,307.9 1842.1,306.8 1842.5,308.0 1842.8,308.1 1843.1,308.4 1843.5,308.6 1843.8,308.9 1844.1,307.9 1844.5,308.8 1844.8,309.3 1845.1,309.2 1845.5,309.3 1845.8,308.3 1846.1,308.4 1846.5,309.7 1846.8,308.9 1847.1,308.8 1847.5,309.2 1847.8,308.0 1848.1,308.3 1848.5,308.6 1848.8,308.3 1849.1,309.3 1849.5,308.6 1849.8,308.9 1850.1,307.8 1850.5,308.3 1850.8,308.3 1851.1,308.6 1851.5,308.6 1851.8,308.4 1852.1,309.0 1852.5,310.2 1852.8,309.1 1853.1,308.7 1853.5,309.7 1853.8,309.6 1854.1,308.6 1854.5,309.0 1854.8,307.1 1855.1,308.6 1855.5,308.2 1855.8,309.7 1856.1,308.4 1856.5,309.3 1856.8,307.9 1857.1,307.7 1857.5,307.6 1857.8,307.3 1858.1,307.8 1858.5,309.0 1858.8,307.4 1859.1,308.4 1859.5,309.1 1859.8,308.5 1860.1,308.7 1860.5,308.7 1860.8,308.9 1861.1,307.5 1861.5,309.8 1861.8,309.0 1862.1,308.3 1862.5,308.4 1862.8,308.4 1863.1,308.8 1863.5,307.6 1863.8,307.6 1864.1,307.5 1864.5,308.8 1864.8,307.7 1865.1,308.4 1865.5,307.6 1865.8,308.3 1866.1,308.1 1866.5,307.9 1866.8,309.1 1867.1,308.5 1867.5,307.8 1867.8,309.9 1868.1,307.8 1868.5,307.7 1868.8,307.4 1869.1,309.4 1869.5,308.6 1869.8,308.6 1870.1,309.1 1870.5,308.5 1870.8,309.0 1871.1,309.7 1871.5,308.9 1871.8,309.4 1872.1,309.0 1872.5,308.9 1872.8,309.5 1873.1,308.9 1873.5,308.6 1873.8,307.3 1874.1,307.9 1874.5,308.0 1874.8,308.5 1875.1,308.7 1875.5,308.6 1875.8,308.4 1876.1,308.7 1876.5,308.7 1876.8,309.0 1877.1,307.4 1877.5,309.1 1877.8,309.7 1878.1,309.1 1878.5,308.1 1878.8,307.6 1879.1,308.1 1879.5,309.1 1879.8,308.6 1880.1,307.3 1880.5,306.6 1880.8,308.7 1881.1,310.0 1881.5,307.5 1881.8,308.1 1882.1,308.5 1882.5,308.7 1882.8,308.9 1883.1,307.2 1883.5,307.8 1883.8,307.0 1884.1,307.7 1884.5,307.7 1884.8,308.5 1885.1,307.5 1885.5,307.8 1885.8,308.3 1886.1,308.6 1886.5,308.5 1886.8,308.1 1887.1,308.4 1887.5,307.6 1887.8,309.2 1888.1,308.2 1888.5,307.7 1888.8,308.6 1889.1,307.5 1889.5,308.7 1889.8,308.3 1890.1,309.6 1890.5,308.8 1890.8,308.0 1891.1,309.1 1891.5,308.6 1891.8,308.9 1892.1,306.5 1892.5,308.1 1892.8,308.0 1893.1,308.9 1893.5,307.5 1893.8,308.4 1894.1,308.3 1894.5,307.6 1894.8,308.1 1895.1,308.9 1895.5,308.4 1895.8,308.4 1896.1,308.5 1896.5,308.6 1896.8,308.7 1897.1,308.5 1897.5,307.7 1897.8,308.6 1898.1,309.1 1898.5,310.3 1898.8,308.8 1899.1,310.3 1899.5,308.7 1899.8,309.8 1900.1,307.3 1900.5,308.4 1900.8,307.1 1901.1,307.7 1901.5,308.3 1901.8,309.0 1902.1,308.4 1902.5,309.1 1902.8,308.4 1903.1,309.8 1903.5,308.3 1903.8,309.8 1904.1,309.7 1904.5,308.0 1904.8,308.9 1905.1,308.3 1905.5,309.5 1905.8,308.8 1906.1,309.7 1906.5,308.4 1906.8,308.4 1907.1,308.1 1907.5,308.6 1907.8,308.8 1908.1,308.6 1908.5,308.8 1908.8,309.1 1909.1,308.6 1909.5,308.5 1909.8,308.7 1910.1,309.4 1910.5,309.8 1910.8,310.6 1911.1,310.1 1911.5,308.7 1911.8,309.2 1912.1,308.1 1912.5,309.1 1912.8,307.6 1913.1,309.3 1913.5,308.8 1913.8,309.5 1914.1,309.8 1914.5,309.5 1914.8,310.2 1915.1,309.6 1915.5,309.6 1915.8,309.2 1916.1,309.4 1916.5,309.0 1916.8,307.9 1917.1,309.1 1917.5,307.9 1917.8,308.2 1918.1,308.7 1918.5,308.1 1918.8,308.4 1919.1,309.3 1919.5,308.3 1919.8,308.1 1920.1,307.9 1920.5,310.4 1920.8,308.4 1921.1,308.7 1921.5,308.8 1921.8,309.4 1922.1,308.4 1922.5,308.1 1922.8,308.4 1923.1,308.2 1923.5,307.8 1923.8,307.5 1924.1,308.7 1924.5,308.4 1924.8,309.5 1925.1,308.4 1925.5,308.5 1925.8,309.4 1926.1,307.6 1926.5,309.1 1926.8,308.1 1927.1,307.8 1927.5,308.7 1927.8,308.3 1928.1,307.1 1928.5,307.5 1928.8,307.6 1929.1,306.3 1929.5,305.0 1929.8,303.6 1930.1,303.2 1930.5,303.1 1930.8,302.6 1931.1,303.3 1931.5,304.3 1931.8,303.6 1932.1,305.6 1932.5,306.6 1932.8,306.9 1933.1,307.3 1933.5,309.0 1933.8,308.3 1934.1,308.5 1934.5,308.3 1934.8,308.5 1935.1,308.5 1935.5,308.7 1935.8,307.8 1936.1,307.7 1936.5,308.4 1936.8,308.5 1937.1,308.4 1937.5,309.2 1937.8,308.7 1938.1,309.2 1938.5,308.9 1938.8,307.4 1939.1,309.0 1939.5,309.6 1939.8,308.8 1940.1,308.7 1940.5,308.1 1940.8,308.9 1941.1,308.1 1941.5,307.7 1941.8,308.9 1942.1,309.3 1942.5,308.6 1942.8,308.7 1943.1,308.5 1943.5,310.0 1943.8,309.6 1944.1,309.3 1944.5,309.3 1944.8,309.4 1945.1,309.6 1945.5,308.2 1945.8,307.8 1946.1,308.4 1946.5,308.2 1946.8,307.4 1947.1,308.4 1947.5,308.4 1947.8,308.5 1948.1,308.9 1948.5,308.9 1948.8,309.8 1949.1,309.2 1949.5,309.3 1949.8,308.5 1950.1,308.8 1950.5,308.4 1950.8,308.4 1951.1,309.3 1951.5,310.1 1951.8,309.2 1952.1,309.1 1952.5,309.1 1952.8,309.3 1953.1,308.8 1953.5,308.8 1953.8,309.2 1954.1,309.8 1954.5,308.9 1954.8,307.8 1955.1,309.3 1955.5,309.0 1955.8,308.4 1956.1,308.3 1956.5,306.9 1956.8,308.4 1957.1,308.7 1957.5,309.1 1957.8,308.8 1958.1,308.2 1958.5,308.6 1958.8,308.9 1959.1,309.2 1959.5,309.0 1959.8,309.4 1960.1,307.7 1960.5,309.0 1960.8,309.0 1961.1,308.3 1961.5,309.0 1961.8,308.6 1962.1,308.1 1962.5,308.1 1962.8,309.2 1963.1,309.2 1963.5,309.5 1963.8,309.3 1964.1,309.1 1964.5,308.0 1964.8,308.4 1965.1,308.3 1965.5,309.7 1965.8,308.1 1966.1,308.0 1966.5,308.2 1966.8,309.5 1967.1,308.5 1967.5,309.3 1967.8,308.6 1968.1,309.5 1968.5,307.9 1968.8,308.5 1969.1,309.1 1969.5,308.6 1969.8,308.3 1970.1,309.7 1970.5,308.0 1970.8,308.4 1971.1,309.6 1971.5,310.0 1971.8,308.9 1972.1,308.2 1972.5,308.2 1972.8,308.4 1973.1,308.9 1973.5,309.7 1973.8,309.5 1974.1,309.5 1974.5,308.6 1974.8,309.4 1975.1,309.4 1975.5,309.5 1975.8,309.1 1976.1,308.9 1976.5,309.9 1976.8,310.2 1977.1,309.0 1977.5,309.3 1977.8,309.7 1978.1,309.9 1978.5,310.0 1978.8,309.0 1979.1,309.7 1979.5,308.3 1979.8,307.7 1980.1,308.7 1980.5,309.2 1980.8,308.1 1981.1,308.9 1981.5,309.1 1981.8,309.0 1982.1,309.2 1982.5,309.7 1982.8,308.8 1983.1,308.7 1983.5,309.4 1983.8,309.8 1984.1,309.1 1984.5,310.5 1984.8,310.5 1985.1,309.9 1985.5,309.9 1985.8,309.1 1986.1,309.6 1986.5,309.1 1986.8,310.0 1987.1,307.0 1987.5,307.6 1987.8,308.0 1988.1,308.8 1988.5,308.5 1988.8,308.5 1989.1,309.3 1989.5,308.9 1989.8,309.5 1990.1,310.1 1990.5,310.2 1990.8,308.5 1991.1,308.8 1991.5,309.4 1991.8,309.0 1992.1,308.6 1992.5,309.4 1992.8,309.1 1993.1,309.3 1993.5,309.6 1993.8,308.8 1994.1,309.7 1994.5,309.2 1994.8,309.2 1995.1,309.7 1995.5,308.1 1995.8,308.1 1996.1,308.4 1996.5,309.6 1996.8,309.1 1997.1,308.7 1997.5,308.4 1997.8,308.1 1998.1,309.2 1998.5,309.1 1998.8,309.3 1999.1,309.6 1999.5,309.2 1999.8,309.9 2000.1,308.8 2000.5,310.0 2000.8,309.3 2001.1,308.8 2001.5,309.2 2001.8,310.4 2002.1,308.3 2002.5,308.7 2002.8,308.8 2003.1,309.2 2003.5,309.1 2003.8,310.2 2004.1,309.0 2004.5,309.5 2004.8,308.7 2005.1,308.2 2005.5,308.6 2005.8,308.4 2006.1,308.9 2006.5,309.4 2006.8,308.6 2007.1,309.6 2007.5,308.5 2007.8,310.1 2008.1,308.2 2008.5,308.7 2008.8,309.1 2009.1,308.6 2009.5,308.1 2009.8,309.2 2010.1,308.3 2010.5,309.5 2010.8,308.0 2011.1,309.2 2011.5,308.9 2011.8,308.8 2012.1,309.3 2012.5,308.8 2012.8,309.0 2013.1,309.8 2013.5,308.6 2013.8,309.2 2014.1,309.7 2014.5,310.2 2014.8,310.6 2015.1,309.3 2015.5,310.3 2015.8,310.0 2016.1,310.1 2016.5,309.7 2016.8,308.8 2017.1,309.0 2017.5,308.6 2017.8,308.9 2018.1,308.8 2018.5,309.8 2018.8,309.4 2019.1,309.5 2019.5,308.9 2019.8,309.1 2020.1,309.6 2020.5,308.8 2020.8,309.7 2021.1,309.9 2021.5,309.0 2021.8,309.3 2022.1,308.8 2022.5,310.3 2022.8,309.5 2023.1,309.9 2023.5,309.2 2023.8,309.0 2024.1,309.5 2024.5,310.2 2024.8,309.9 2025.1,308.9 2025.5,308.3 2025.8,308.8 2026.1,309.5 2026.5,308.5 2026.8,309.7 2027.1,308.7 2027.5,309.4 2027.8,309.6 2028.1,309.4 2028.5,309.3 2028.8,310.0 2029.1,309.0 2029.5,309.0 2029.8,308.7 2030.1,309.3 2030.5,309.6 2030.8,309.1 2031.1,308.0 2031.5,309.4 2031.8,309.5 2032.1,308.7 2032.5,309.0 2032.8,309.1 2033.1,308.5 2033.5,309.1 2033.8,309.0 2034.1,308.4 2034.5,307.6 2034.8,308.7 2035.1,310.1 2035.5,310.0 2035.8,309.1 2036.1,308.6 2036.5,310.1 2036.8,309.7 2037.1,310.0 2037.5,310.4 2037.8,309.5 2038.1,309.3 2038.5,308.8 2038.8,309.4 2039.1,308.7 2039.5,309.9 2039.8,309.3 2040.1,310.4 2040.5,309.3 2040.8,309.8 2041.1,309.0 2041.5,309.9 2041.8,308.8 2042.1,310.1 2042.5,309.6 2042.8,308.2 2043.1,308.5 2043.5,309.4" fill="none" stroke="#6c6c6c" stroke-width="2.8" stroke-linejoin="round"/>
<polyline points="1168.8,368.0 1169.1,365.3 1169.5,365.9 1169.8,367.9 1170.1,366.5 1170.5,366.3 1170.8,366.8 1171.1,370.4 1171.5,367.6 1171.8,368.7 1172.1,368.2 1172.5,371.9 1172.8,368.8 1173.1,370.6 1173.5,370.4 1173.8,369.5 1174.1,368.7 1174.5,366.7 1174.8,369.7 1175.1,371.9 1175.5,369.4 1175.8,370.9 1176.1,368.7 1176.5,368.9 1176.8,367.2 1177.1,367.8 1177.5,368.8 1177.8,369.9 1178.1,367.2 1178.5,366.8 1178.8,368.6 1179.1,368.7 1179.5,369.5 1179.8,371.1 1180.1,368.2 1180.5,371.4 1180.8,369.7 1181.1,369.0 1181.5,366.8 1181.8,371.0 1182.1,371.4 1182.5,369.8 1182.8,369.8 1183.1,368.6 1183.5,366.6 1183.8,368.1 1184.1,367.2 1184.5,367.3 1184.8,368.0 1185.1,368.5 1185.5,370.0 1185.8,371.1 1186.1,369.1 1186.5,370.5 1186.8,368.9 1187.1,368.8 1187.5,369.1 1187.8,367.0 1188.1,367.1 1188.5,365.5 1188.8,365.0 1189.1,365.6 1189.5,369.1 1189.8,368.3 1190.1,368.2 1190.5,369.7 1190.8,368.8 1191.1,369.4 1191.5,369.7 1191.8,368.0 1192.1,369.8 1192.5,370.1 1192.8,369.4 1193.1,368.8 1193.5,370.7 1193.8,368.7 1194.1,371.4 1194.5,371.0 1194.8,369.6 1195.1,371.0 1195.5,368.2 1195.8,370.1 1196.1,370.2 1196.5,369.8 1196.8,370.6 1197.1,371.7 1197.5,371.9 1197.8,372.3 1198.1,370.7 1198.5,371.6 1198.8,371.7 1199.1,371.1 1199.5,372.1 1199.8,369.6 1200.1,371.1 1200.5,372.7 1200.8,374.0 1201.1,376.8 1201.5,376.3 1201.8,379.1 1202.1,374.1 1202.5,377.1 1202.8,372.8 1203.1,372.2 1203.5,372.7 1203.8,373.0 1204.1,373.6 1204.5,373.6 1204.8,375.0 1205.1,375.5 1205.5,373.3 1205.8,376.4 1206.1,375.3 1206.5,375.1 1206.8,376.4 1207.1,375.5 1207.5,377.7 1207.8,374.3 1208.1,377.2 1208.5,374.8 1208.8,376.4 1209.1,375.2 1209.5,378.1 1209.8,376.5 1210.1,376.5 1210.5,373.0 1210.8,371.1 1211.1,372.7 1211.5,375.0 1211.8,374.9 1212.1,374.5 1212.5,379.6 1212.8,377.4 1213.1,379.2 1213.5,377.0 1213.8,376.6 1214.1,377.6 1214.5,374.1 1214.8,376.6 1215.1,377.8 1215.5,378.1 1215.8,376.8 1216.1,380.4 1216.5,378.8 1216.8,379.0 1217.1,376.9 1217.5,379.3 1217.8,380.3 1218.1,380.6 1218.5,380.4 1218.8,379.7 1219.1,379.6 1219.5,380.2 1219.8,380.9 1220.1,379.9 1220.5,380.0 1220.8,380.8 1221.1,380.1 1221.5,380.8 1221.8,380.8 1222.1,379.5 1222.5,382.5 1222.8,381.3 1223.1,378.9 1223.5,378.3 1223.8,378.6 1224.1,378.8 1224.5,379.0 1224.8,381.0 1225.1,380.4 1225.5,379.5 1225.8,382.4 1226.1,380.2 1226.5,381.4 1226.8,379.7 1227.1,380.3 1227.5,380.6 1227.8,383.1 1228.1,383.0 1228.5,382.1 1228.8,382.3 1229.1,383.4 1229.5,382.0 1229.8,382.7 1230.1,384.2 1230.5,382.2 1230.8,384.6 1231.1,383.9 1231.5,384.1 1231.8,383.0 1232.1,383.5 1232.5,383.1 1232.8,382.6 1233.1,380.1 1233.5,382.6 1233.8,384.1 1234.1,381.4 1234.5,380.5 1234.8,381.7 1235.1,382.7 1235.5,380.3 1235.8,382.6 1236.1,382.3 1236.5,382.9 1236.8,383.6 1237.1,383.0 1237.5,382.5 1237.8,383.5 1238.1,385.2 1238.5,384.0 1238.8,384.2 1239.1,382.2 1239.5,382.7 1239.8,381.7 1240.1,384.5 1240.5,384.6 1240.8,383.9 1241.1,384.3 1241.5,382.8 1241.8,382.9 1242.1,384.8 1242.5,382.8 1242.8,384.5 1243.1,385.2 1243.5,381.7 1243.8,382.0 1244.1,385.0 1244.5,383.9 1244.8,384.3 1245.1,384.0 1245.5,381.4 1245.8,384.2 1246.1,383.8 1246.5,383.7 1246.8,383.1 1247.1,382.3 1247.5,381.8 1247.8,380.8 1248.1,381.3 1248.5,381.2 1248.8,382.3 1249.1,381.2 1249.5,379.8 1249.8,382.1 1250.1,379.3 1250.5,381.4 1250.8,382.6 1251.1,379.8 1251.5,380.2 1251.8,381.5 1252.1,383.2 1252.5,381.4 1252.8,380.9 1253.1,381.4 1253.5,378.5 1253.8,378.3 1254.1,380.8 1254.5,381.2 1254.8,381.4 1255.1,381.2 1255.5,381.8 1255.8,379.2 1256.1,380.0 1256.5,380.9 1256.8,382.8 1257.1,382.2 1257.5,382.4 1257.8,381.2 1258.1,382.5 1258.5,382.4 1258.8,382.3 1259.1,381.2 1259.5,383.7 1259.8,379.8 1260.1,382.3 1260.5,379.8 1260.8,380.0 1261.1,382.7 1261.5,381.7 1261.8,381.3 1262.1,382.0 1262.5,384.7 1262.8,380.6 1263.1,380.8 1263.5,382.7 1263.8,380.5 1264.1,384.1 1264.5,379.6 1264.8,380.9 1265.1,382.4 1265.5,380.9 1265.8,380.6 1266.1,379.4 1266.5,380.8 1266.8,382.0 1267.1,380.6 1267.5,379.9 1267.8,382.9 1268.1,382.5 1268.5,382.2 1268.8,381.3 1269.1,380.6 1269.5,383.1 1269.8,381.8 1270.1,381.4 1270.5,381.6 1270.8,382.4 1271.1,383.0 1271.5,382.0 1271.8,381.6 1272.1,380.8 1272.5,381.8 1272.8,382.0 1273.1,382.7 1273.5,382.5 1273.8,382.2 1274.1,383.0 1274.5,384.0 1274.8,383.1 1275.1,382.7 1275.5,382.4 1275.8,382.2 1276.1,383.0 1276.5,383.4 1276.8,382.3 1277.1,382.5 1277.5,383.2 1277.8,383.7 1278.1,384.4 1278.5,381.2 1278.8,383.8 1279.1,382.2 1279.5,383.5 1279.8,383.9 1280.1,385.1 1280.5,382.4 1280.8,384.2 1281.1,380.2 1281.5,383.2 1281.8,380.5 1282.1,382.3 1282.5,381.8 1282.8,381.5 1283.1,383.2 1283.5,381.9 1283.8,381.8 1284.1,381.9 1284.5,381.7 1284.8,382.3 1285.1,380.8 1285.5,380.4 1285.8,380.2 1286.1,383.5 1286.5,383.6 1286.8,384.2 1287.1,382.9 1287.5,385.5 1287.8,385.1 1288.1,387.4 1288.5,384.2 1288.8,385.3 1289.1,385.6 1289.5,382.8 1289.8,382.6 1290.1,381.7 1290.5,381.7 1290.8,382.5 1291.1,381.4 1291.5,380.0 1291.8,384.7 1292.1,381.8 1292.5,384.7 1292.8,383.7 1293.1,384.5 1293.5,384.4 1293.8,384.7 1294.1,384.7 1294.5,385.8 1294.8,383.0 1295.1,382.4 1295.5,382.1 1295.8,381.9 1296.1,385.1 1296.5,382.4 1296.8,382.5 1297.1,384.6 1297.5,384.0 1297.8,384.4 1298.1,381.0 1298.5,382.4 1298.8,381.9 1299.1,383.6 1299.5,383.5 1299.8,384.0 1300.1,385.0 1300.5,387.5 1300.8,382.8 1301.1,384.1 1301.5,384.3 1301.8,383.2 1302.1,382.4 1302.5,384.7 1302.8,384.9 1303.1,384.6 1303.5,383.1 1303.8,381.2 1304.1,382.4 1304.5,384.8 1304.8,384.7 1305.1,382.1 1305.5,383.5 1305.8,384.7 1306.1,384.7 1306.5,382.1 1306.8,382.9 1307.1,383.0 1307.5,381.8 1307.8,385.1 1308.1,381.0 1308.5,383.5 1308.8,384.2 1309.1,383.6 1309.5,384.2 1309.8,381.1 1310.1,384.4 1310.5,385.2 1310.8,385.1 1311.1,382.7 1311.5,383.3 1311.8,382.2 1312.1,384.6 1312.5,382.1 1312.8,382.7 1313.1,382.6 1313.5,382.6 1313.8,384.8 1314.1,384.5 1314.5,383.2 1314.8,382.4 1315.1,382.4 1315.5,381.0 1315.8,383.8 1316.1,384.9 1316.5,385.3 1316.8,385.0 1317.1,387.2 1317.5,385.8 1317.8,384.1 1318.1,385.1 1318.5,383.3 1318.8,385.1 1319.1,382.9 1319.5,383.7 1319.8,383.3 1320.1,385.4 1320.5,383.8 1320.8,384.5 1321.1,383.8 1321.5,382.5 1321.8,385.8 1322.1,384.5 1322.5,383.0 1322.8,384.3 1323.1,383.7 1323.5,382.9 1323.8,385.6 1324.1,384.5 1324.5,384.3 1324.8,384.2 1325.1,384.4 1325.5,384.3 1325.8,383.2 1326.1,382.4 1326.5,381.7 1326.8,379.8 1327.1,382.0 1327.5,384.5 1327.8,385.6 1328.1,384.4 1328.5,383.3 1328.8,385.3 1329.1,382.9 1329.5,382.2 1329.8,381.6 1330.1,381.0 1330.5,386.0 1330.8,384.4 1331.1,381.4 1331.5,383.9 1331.8,383.0 1332.1,386.0 1332.5,384.4 1332.8,384.3 1333.1,386.0 1333.5,387.2 1333.8,384.5 1334.1,385.4 1334.5,384.4 1334.8,386.7 1335.1,386.0 1335.5,385.9 1335.8,384.9 1336.1,387.5 1336.5,385.3 1336.8,386.7 1337.1,386.7 1337.5,384.1 1337.8,385.7 1338.1,386.6 1338.5,385.4 1338.8,386.8 1339.1,387.4 1339.5,385.3 1339.8,387.1 1340.1,388.2 1340.5,387.7 1340.8,387.8 1341.1,386.9 1341.5,388.4 1341.8,388.6 1342.1,388.2 1342.5,390.0 1342.8,388.5 1343.1,388.2 1343.5,390.8 1343.8,389.7 1344.1,390.3 1344.5,390.7 1344.8,388.7 1345.1,388.3 1345.5,391.5 1345.8,387.5 1346.1,389.2 1346.5,391.8 1346.8,389.3 1347.1,391.1 1347.5,389.4 1347.8,393.1 1348.1,390.4 1348.5,391.5 1348.8,389.1 1349.1,391.4 1349.5,391.0 1349.8,389.1 1350.1,389.7 1350.5,388.2 1350.8,388.8 1351.1,388.1 1351.5,388.8 1351.8,388.7 1352.1,391.4 1352.5,391.4 1352.8,391.4 1353.1,394.3 1353.5,392.4 1353.8,392.0 1354.1,391.2 1354.5,393.0 1354.8,392.2 1355.1,391.1 1355.5,391.8 1355.8,392.8 1356.1,392.3 1356.5,393.6 1356.8,393.3 1357.1,394.6 1357.5,391.3 1357.8,392.1 1358.1,392.2 1358.5,392.6 1358.8,393.2 1359.1,392.7 1359.5,394.1 1359.8,391.5 1360.1,392.8 1360.5,393.1 1360.8,393.1 1361.1,391.5 1361.5,391.9 1361.8,392.1 1362.1,393.2 1362.5,392.9 1362.8,394.1 1363.1,395.0 1363.5,395.9 1363.8,393.2 1364.1,394.6 1364.5,394.0 1364.8,394.2 1365.1,393.3 1365.5,394.1 1365.8,394.8 1366.1,394.5 1366.5,394.2 1366.8,396.1 1367.1,394.8 1367.5,394.4 1367.8,394.6 1368.1,394.4 1368.5,393.7 1368.8,395.0 1369.1,394.1 1369.5,393.0 1369.8,395.5 1370.1,394.1 1370.5,392.9 1370.8,394.4 1371.1,393.8 1371.5,394.8 1371.8,393.3 1372.1,394.2 1372.5,392.8 1372.8,393.1 1373.1,394.8 1373.5,394.1 1373.8,396.4 1374.1,393.8 1374.5,394.7 1374.8,393.1 1375.1,396.3 1375.5,394.8 1375.8,393.3 1376.1,395.3 1376.5,394.6 1376.8,397.5 1377.1,396.4 1377.5,394.4 1377.8,396.1 1378.1,395.8 1378.5,395.0 1378.8,395.0 1379.1,395.1 1379.5,394.4 1379.8,396.0 1380.1,395.3 1380.5,396.1 1380.8,396.1 1381.1,395.7 1381.5,398.5 1381.8,396.6 1382.1,397.1 1382.5,399.4 1382.8,396.4 1383.1,395.5 1383.5,394.3 1383.8,394.7 1384.1,397.3 1384.5,395.7 1384.8,395.3 1385.1,397.6 1385.5,397.1 1385.8,398.5 1386.1,394.8 1386.5,397.3 1386.8,393.6 1387.1,397.6 1387.5,396.5 1387.8,395.2 1388.1,397.6 1388.5,396.5 1388.8,397.0 1389.1,396.4 1389.5,397.7 1389.8,397.2 1390.1,395.4 1390.5,395.5 1390.8,395.6 1391.1,397.4 1391.5,397.3 1391.8,396.9 1392.1,396.4 1392.5,396.0 1392.8,397.1 1393.1,397.6 1393.5,397.5 1393.8,398.3 1394.1,398.0 1394.5,395.3 1394.8,398.3 1395.1,397.4 1395.5,396.8 1395.8,398.0 1396.1,399.3 1396.5,399.0 1396.8,399.0 1397.1,399.2 1397.5,397.8 1397.8,394.5 1398.1,397.9 1398.5,395.1 1398.8,397.5 1399.1,396.8 1399.5,396.5 1399.8,398.0 1400.1,396.3 1400.5,396.2 1400.8,397.6 1401.1,397.5 1401.5,396.5 1401.8,396.5 1402.1,396.5 1402.5,397.7 1402.8,397.9 1403.1,398.3 1403.5,397.3 1403.8,396.5 1404.1,398.5 1404.5,401.0 1404.8,400.4 1405.1,397.9 1405.5,399.8 1405.8,398.4 1406.1,398.0 1406.5,397.5 1406.8,396.8 1407.1,396.0 1407.5,398.1 1407.8,396.5 1408.1,397.1 1408.5,397.3 1408.8,398.0 1409.1,397.8 1409.5,398.6 1409.8,398.7 1410.1,399.5 1410.5,399.3 1410.8,400.0 1411.1,398.7 1411.5,397.3 1411.8,398.5 1412.1,398.9 1412.5,397.3 1412.8,397.3 1413.1,395.5 1413.5,399.6 1413.8,398.1 1414.1,399.4 1414.5,396.3 1414.8,395.4 1415.1,398.3 1415.5,397.1 1415.8,398.2 1416.1,397.2 1416.5,399.0 1416.8,397.9 1417.1,398.3 1417.5,399.1 1417.8,398.1 1418.1,398.0 1418.5,399.7 1418.8,398.1 1419.1,398.5 1419.5,398.8 1419.8,398.3 1420.1,398.8 1420.5,400.3 1420.8,399.5 1421.1,396.8 1421.5,396.0 1421.8,397.6 1422.1,396.0 1422.5,395.7 1422.8,397.4 1423.1,397.5 1423.5,398.6 1423.8,398.9 1424.1,400.6 1424.5,397.2 1424.8,396.9 1425.1,397.2 1425.5,397.9 1425.8,396.7 1426.1,396.6 1426.5,395.1 1426.8,399.3 1427.1,398.2 1427.5,400.2 1427.8,400.5 1428.1,400.6 1428.5,399.2 1428.8,399.7 1429.1,397.3 1429.5,399.2 1429.8,398.3 1430.1,399.8 1430.5,398.0 1430.8,398.2 1431.1,397.4 1431.5,400.1 1431.8,398.1 1432.1,397.0 1432.5,397.9 1432.8,397.1 1433.1,399.9 1433.5,400.0 1433.8,398.9 1434.1,399.1 1434.5,397.2 1434.8,400.5 1435.1,398.7 1435.5,401.0 1435.8,398.2 1436.1,399.4 1436.5,400.2 1436.8,400.6 1437.1,400.4 1437.5,402.1 1437.8,401.2 1438.1,400.2 1438.5,398.4 1438.8,400.5 1439.1,399.0 1439.5,399.4 1439.8,398.8 1440.1,399.3 1440.5,398.5 1440.8,401.7 1441.1,400.9 1441.5,399.7 1441.8,399.3 1442.1,399.7 1442.5,398.1 1442.8,399.7 1443.1,399.2 1443.5,399.2 1443.8,399.6 1444.1,400.0 1444.5,401.3 1444.8,400.3 1445.1,398.9 1445.5,399.7 1445.8,399.3 1446.1,399.0 1446.5,400.6 1446.8,398.8 1447.1,397.6 1447.5,399.3 1447.8,398.1 1448.1,400.3 1448.5,400.3 1448.8,399.5 1449.1,400.4 1449.5,399.2 1449.8,398.9 1450.1,397.2 1450.5,396.6 1450.8,398.0 1451.1,399.8 1451.5,396.2 1451.8,397.5 1452.1,397.3 1452.5,399.1 1452.8,398.1 1453.1,399.0 1453.5,399.6 1453.8,398.6 1454.1,399.0 1454.5,398.9 1454.8,399.7 1455.1,399.9 1455.5,400.0 1455.8,399.7 1456.1,398.1 1456.5,398.8 1456.8,399.8 1457.1,399.3 1457.5,400.1 1457.8,397.9 1458.1,398.3 1458.5,398.3 1458.8,399.5 1459.1,398.6 1459.5,398.3 1459.8,399.6 1460.1,398.8 1460.5,398.1 1460.8,399.6 1461.1,398.7 1461.5,398.7 1461.8,397.9 1462.1,395.8 1462.5,395.9 1462.8,396.4 1463.1,397.9 1463.5,397.8 1463.8,399.5 1464.1,398.3 1464.5,399.1 1464.8,400.6 1465.1,397.8 1465.5,398.0 1465.8,400.1 1466.1,400.2 1466.5,400.7 1466.8,401.1 1467.1,402.2 1467.5,401.4 1467.8,402.2 1468.1,402.2 1468.5,399.4 1468.8,398.6 1469.1,398.9 1469.5,400.4 1469.8,400.2 1470.1,398.0 1470.5,398.8 1470.8,398.8 1471.1,399.4 1471.5,399.6 1471.8,399.4 1472.1,398.4 1472.5,400.5 1472.8,400.5 1473.1,398.5 1473.5,399.7 1473.8,401.4 1474.1,401.0 1474.5,401.1 1474.8,399.8 1475.1,401.3 1475.5,398.4 1475.8,400.4 1476.1,401.3 1476.5,398.6 1476.8,400.8 1477.1,400.4 1477.5,399.1 1477.8,400.3 1478.1,402.4 1478.5,401.3 1478.8,401.8 1479.1,399.4 1479.5,400.7 1479.8,402.1 1480.1,402.1 1480.5,402.2 1480.8,401.6 1481.1,402.0 1481.5,400.4 1481.8,402.5 1482.1,400.3 1482.5,400.9 1482.8,398.7 1483.1,400.0 1483.5,400.5 1483.8,400.5 1484.1,399.0 1484.5,399.5 1484.8,398.2 1485.1,399.9 1485.5,398.4 1485.8,400.5 1486.1,399.8 1486.5,400.3 1486.8,400.1 1487.1,400.0 1487.5,400.4 1487.8,399.6 1488.1,397.9 1488.5,400.9 1488.8,398.8 1489.1,400.5 1489.5,400.1 1489.8,400.1 1490.1,400.2 1490.5,400.8 1490.8,401.4 1491.1,401.5 1491.5,401.1 1491.8,401.0 1492.1,400.7 1492.5,399.3 1492.8,399.9 1493.1,398.2 1493.5,398.7 1493.8,397.8 1494.1,399.3 1494.5,400.1 1494.8,400.5 1495.1,398.5 1495.5,400.8 1495.8,398.8 1496.1,399.4 1496.5,399.2 1496.8,401.3 1497.1,399.8 1497.5,401.8 1497.8,400.6 1498.1,399.4 1498.5,400.1 1498.8,401.1 1499.1,399.1 1499.5,399.9 1499.8,400.9 1500.1,400.9 1500.5,400.8 1500.8,402.4 1501.1,400.6 1501.5,400.2 1501.8,400.6 1502.1,400.3 1502.5,402.8 1502.8,401.1 1503.1,404.8 1503.5,400.9 1503.8,399.4 1504.1,398.5 1504.5,399.2 1504.8,400.1 1505.1,399.1 1505.5,400.3 1505.8,400.4 1506.1,400.3 1506.5,400.2 1506.8,399.7 1507.1,399.0 1507.5,398.4 1507.8,398.0 1508.1,399.2 1508.5,400.4 1508.8,399.7 1509.1,398.7 1509.5,400.7 1509.8,398.7 1510.1,398.5 1510.5,398.7 1510.8,399.1 1511.1,399.6 1511.5,398.5 1511.8,398.1 1512.1,400.2 1512.5,400.0 1512.8,400.2 1513.1,400.5 1513.5,399.8 1513.8,401.6 1514.1,399.6 1514.5,400.0 1514.8,401.9 1515.1,401.7 1515.5,401.7 1515.8,401.8 1516.1,399.7 1516.5,400.2 1516.8,398.0 1517.1,398.3 1517.5,399.5 1517.8,399.5 1518.1,399.4 1518.5,399.6 1518.8,399.0 1519.1,400.4 1519.5,396.9 1519.8,398.8 1520.1,399.0 1520.5,400.9 1520.8,400.7 1521.1,401.2 1521.5,402.8 1521.8,400.7 1522.1,401.0 1522.5,399.6 1522.8,399.2 1523.1,398.9 1523.5,401.4 1523.8,398.8 1524.1,399.4 1524.5,402.2 1524.8,400.3 1525.1,399.8 1525.5,399.4 1525.8,398.2 1526.1,399.6 1526.5,400.3 1526.8,398.6 1527.1,399.2 1527.5,401.6 1527.8,399.6 1528.1,400.7 1528.5,402.1 1528.8,398.5 1529.1,398.6 1529.5,397.0 1529.8,395.2 1530.1,399.2 1530.5,399.2 1530.8,399.0 1531.1,400.2 1531.5,399.3 1531.8,398.5 1532.1,399.4 1532.5,399.3 1532.8,399.0 1533.1,401.1 1533.5,399.2 1533.8,398.9 1534.1,400.2 1534.5,400.5 1534.8,401.7 1535.1,400.3 1535.5,398.7 1535.8,399.2 1536.1,401.2 1536.5,399.7 1536.8,401.0 1537.1,402.4 1537.5,399.0 1537.8,398.8 1538.1,400.0 1538.5,400.1 1538.8,401.0 1539.1,398.5 1539.5,400.7 1539.8,399.9 1540.1,398.4 1540.5,399.9 1540.8,400.6 1541.1,402.0 1541.5,399.6 1541.8,401.2 1542.1,399.7 1542.5,402.8 1542.8,402.5 1543.1,404.3 1543.5,401.5 1543.8,401.6 1544.1,400.7 1544.5,403.6 1544.8,400.5 1545.1,398.6 1545.5,399.5 1545.8,401.1 1546.1,400.9 1546.5,400.6 1546.8,398.8 1547.1,400.0 1547.5,398.2 1547.8,398.7 1548.1,400.9 1548.5,401.3 1548.8,400.4 1549.1,399.4 1549.5,401.0 1549.8,402.0 1550.1,403.8 1550.5,400.9 1550.8,399.4 1551.1,399.3 1551.5,399.6 1551.8,400.2 1552.1,401.3 1552.5,405.0 1552.8,403.6 1553.1,402.5 1553.5,405.1 1553.8,401.9 1554.1,400.7 1554.5,400.1 1554.8,400.8 1555.1,400.5 1555.5,400.8 1555.8,400.0 1556.1,400.4 1556.5,399.2 1556.8,399.2 1557.1,399.7 1557.5,399.9 1557.8,398.6 1558.1,399.1 1558.5,401.7 1558.8,401.6 1559.1,402.1 1559.5,401.6 1559.8,401.3 1560.1,402.2 1560.5,401.1 1560.8,400.1 1561.1,400.1 1561.5,400.8 1561.8,400.8 1562.1,400.3 1562.5,400.1 1562.8,400.6 1563.1,400.1 1563.5,403.4 1563.8,401.5 1564.1,398.7 1564.5,401.6 1564.8,399.8 1565.1,400.6 1565.5,401.1 1565.8,402.2 1566.1,401.2 1566.5,401.4 1566.8,400.7 1567.1,403.1 1567.5,400.5 1567.8,399.6 1568.1,399.2 1568.5,400.6 1568.8,400.1 1569.1,400.8 1569.5,401.0 1569.8,399.4 1570.1,400.7 1570.5,399.9 1570.8,399.9 1571.1,399.6 1571.5,400.4 1571.8,399.9 1572.1,400.0 1572.5,400.4 1572.8,399.4 1573.1,402.1 1573.5,401.4 1573.8,400.6 1574.1,401.8 1574.5,401.5 1574.8,403.7 1575.1,402.5 1575.5,403.5 1575.8,402.7 1576.1,401.2 1576.5,401.8 1576.8,399.9 1577.1,400.9 1577.5,401.3 1577.8,401.3 1578.1,400.7 1578.5,402.5 1578.8,401.6 1579.1,401.4 1579.5,400.0 1579.8,400.8 1580.1,400.2 1580.5,402.8 1580.8,401.0 1581.1,399.4 1581.5,400.6 1581.8,400.5 1582.1,398.7 1582.5,399.8 1582.8,402.8 1583.1,400.6 1583.5,401.2 1583.8,404.1 1584.1,401.0 1584.5,399.9 1584.8,400.1 1585.1,401.2 1585.5,401.8 1585.8,400.0 1586.1,398.8 1586.5,401.5 1586.8,400.7 1587.1,400.4 1587.5,400.0 1587.8,402.1 1588.1,400.7 1588.5,399.5 1588.8,399.9 1589.1,400.5 1589.5,399.4 1589.8,400.4 1590.1,402.1 1590.5,401.8 1590.8,402.0 1591.1,402.0 1591.5,401.1 1591.8,401.4 1592.1,399.2 1592.5,401.8 1592.8,401.6 1593.1,401.2 1593.5,401.2 1593.8,399.9 1594.1,400.4 1594.5,399.1 1594.8,399.8 1595.1,399.5 1595.5,398.6 1595.8,400.4 1596.1,398.9 1596.5,400.7 1596.8,401.0 1597.1,400.8 1597.5,401.6 1597.8,401.5 1598.1,400.7 1598.5,402.5 1598.8,401.0 1599.1,401.7 1599.5,400.0 1599.8,400.2 1600.1,401.2 1600.5,403.3 1600.8,399.2 1601.1,398.7 1601.5,398.8 1601.8,399.1 1602.1,400.1 1602.5,401.6 1602.8,400.8 1603.1,401.7 1603.5,401.2 1603.8,400.6 1604.1,400.7 1604.5,401.7 1604.8,401.4 1605.1,402.6 1605.5,401.4 1605.8,401.1 1606.1,400.1 1606.5,400.5 1606.8,401.6 1607.1,401.6 1607.5,403.0 1607.8,400.6 1608.1,402.0 1608.5,401.2 1608.8,399.2 1609.1,400.1 1609.5,401.6 1609.8,401.0 1610.1,400.7 1610.5,402.5 1610.8,401.1 1611.1,401.7 1611.5,402.2 1611.8,400.9 1612.1,402.0 1612.5,400.2 1612.8,399.8 1613.1,402.0 1613.5,402.0 1613.8,401.4 1614.1,400.1 1614.5,400.8 1614.8,400.3 1615.1,400.4 1615.5,401.6 1615.8,401.0 1616.1,402.6 1616.5,399.8 1616.8,400.9 1617.1,400.2 1617.5,400.1 1617.8,403.4 1618.1,403.1 1618.5,401.9 1618.8,402.1 1619.1,402.2 1619.5,401.7 1619.8,398.5 1620.1,399.5 1620.5,402.3 1620.8,399.0 1621.1,403.0 1621.5,402.4 1621.8,401.9 1622.1,401.9 1622.5,402.2 1622.8,400.7 1623.1,403.0 1623.5,400.5 1623.8,399.7 1624.1,402.7 1624.5,401.1 1624.8,401.4 1625.1,402.2 1625.5,402.9 1625.8,400.4 1626.1,400.7 1626.5,399.5 1626.8,401.2 1627.1,403.1 1627.5,400.6 1627.8,400.5 1628.1,399.8 1628.5,400.3 1628.8,400.3 1629.1,401.7 1629.5,402.0 1629.8,399.6 1630.1,402.1 1630.5,403.0 1630.8,402.6 1631.1,400.9 1631.5,402.6 1631.8,401.2 1632.1,400.6 1632.5,400.3 1632.8,400.2 1633.1,401.4 1633.5,402.4 1633.8,399.9 1634.1,399.7 1634.5,403.0 1634.8,400.8 1635.1,404.1 1635.5,402.2 1635.8,400.3 1636.1,402.8 1636.5,402.9 1636.8,400.0 1637.1,401.6 1637.5,403.3 1637.8,400.3 1638.1,402.3 1638.5,402.2 1638.8,403.9 1639.1,403.2 1639.5,401.4 1639.8,400.2 1640.1,401.3 1640.5,401.7 1640.8,401.6 1641.1,401.2 1641.5,400.6 1641.8,402.9 1642.1,401.1 1642.5,400.8 1642.8,401.9 1643.1,402.0 1643.5,401.9 1643.8,403.2 1644.1,400.9 1644.5,402.3 1644.8,403.1 1645.1,401.5 1645.5,402.2 1645.8,402.7 1646.1,402.6 1646.5,402.1 1646.8,400.8 1647.1,401.1 1647.5,402.1 1647.8,401.8 1648.1,401.8 1648.5,401.5 1648.8,400.3 1649.1,402.7 1649.5,401.0 1649.8,403.6 1650.1,404.5 1650.5,401.9 1650.8,400.9 1651.1,399.4 1651.5,399.3 1651.8,400.5 1652.1,402.7 1652.5,402.0 1652.8,400.4 1653.1,403.0 1653.5,401.7 1653.8,403.1 1654.1,402.2 1654.5,401.4 1654.8,401.8 1655.1,403.0 1655.5,401.5 1655.8,403.3 1656.1,400.8 1656.5,402.8 1656.8,399.8 1657.1,400.3 1657.5,402.4 1657.8,403.9 1658.1,402.9 1658.5,405.4 1658.8,405.4 1659.1,406.5 1659.5,407.4 1659.8,408.1 1660.1,403.8 1660.5,401.2 1660.8,399.6 1661.1,401.7 1661.5,402.2 1661.8,401.3 1662.1,402.1 1662.5,401.3 1662.8,403.6 1663.1,402.9 1663.5,401.0 1663.8,401.8 1664.1,403.7 1664.5,402.3 1664.8,399.8 1665.1,402.0 1665.5,402.2 1665.8,400.5 1666.1,404.3 1666.5,405.2 1666.8,402.7 1667.1,401.9 1667.5,402.4 1667.8,402.0 1668.1,402.4 1668.5,403.0 1668.8,400.8 1669.1,402.1 1669.5,404.5 1669.8,402.4 1670.1,402.7 1670.5,403.0 1670.8,402.1 1671.1,401.8 1671.5,405.9 1671.8,403.5 1672.1,402.2 1672.5,403.8 1672.8,402.3 1673.1,401.6 1673.5,401.8 1673.8,400.5 1674.1,400.1 1674.5,401.3 1674.8,400.2 1675.1,400.3 1675.5,402.7 1675.8,402.8 1676.1,402.0 1676.5,401.1 1676.8,402.1 1677.1,404.0 1677.5,401.7 1677.8,404.9 1678.1,402.5 1678.5,401.3 1678.8,402.2 1679.1,404.2 1679.5,402.1 1679.8,403.2 1680.1,403.5 1680.5,402.2 1680.8,403.9 1681.1,404.3 1681.5,403.6 1681.8,400.9 1682.1,403.1 1682.5,403.5 1682.8,403.6 1683.1,404.5 1683.5,402.7 1683.8,402.3 1684.1,399.9 1684.5,400.7 1684.8,403.2 1685.1,401.0 1685.5,402.1 1685.8,400.4 1686.1,401.4 1686.5,400.2 1686.8,402.3 1687.1,402.3 1687.5,403.3 1687.8,401.6 1688.1,403.0 1688.5,404.3 1688.8,400.3 1689.1,403.2 1689.5,403.7 1689.8,404.4 1690.1,403.9 1690.5,403.7 1690.8,403.3 1691.1,403.6 1691.5,402.3 1691.8,401.9 1692.1,400.4 1692.5,401.5 1692.8,401.8 1693.1,404.2 1693.5,401.7 1693.8,403.3 1694.1,402.8 1694.5,403.2 1694.8,404.2 1695.1,403.1 1695.5,402.2 1695.8,403.3 1696.1,404.2 1696.5,403.5 1696.8,403.9 1697.1,401.8 1697.5,404.2 1697.8,402.7 1698.1,402.0 1698.5,403.6 1698.8,401.7 1699.1,403.5 1699.5,404.9 1699.8,402.7 1700.1,402.4 1700.5,404.5 1700.8,404.0 1701.1,404.2 1701.5,401.3 1701.8,402.4 1702.1,405.3 1702.5,402.5 1702.8,402.9 1703.1,403.5 1703.5,403.5 1703.8,403.0 1704.1,400.1 1704.5,402.8 1704.8,400.5 1705.1,402.6 1705.5,403.3 1705.8,401.4 1706.1,403.2 1706.5,405.0 1706.8,405.2 1707.1,404.5 1707.5,402.9 1707.8,403.9 1708.1,402.5 1708.5,405.1 1708.8,403.9 1709.1,405.1 1709.5,401.2 1709.8,403.3 1710.1,403.3 1710.5,403.2 1710.8,402.2 1711.1,404.0 1711.5,402.6 1711.8,405.5 1712.1,403.2 1712.5,403.1 1712.8,402.9 1713.1,404.2 1713.5,404.0 1713.8,402.6 1714.1,400.5 1714.5,403.3 1714.8,402.8 1715.1,403.7 1715.5,402.8 1715.8,404.1 1716.1,402.6 1716.5,404.2 1716.8,403.7 1717.1,404.8 1717.5,403.6 1717.8,404.4 1718.1,403.4 1718.5,403.5 1718.8,403.0 1719.1,402.4 1719.5,404.0 1719.8,403.7 1720.1,405.4 1720.5,404.3 1720.8,405.7 1721.1,405.8 1721.5,404.1 1721.8,402.8 1722.1,403.6 1722.5,404.8 1722.8,403.6 1723.1,404.7 1723.5,403.0 1723.8,403.5 1724.1,404.5 1724.5,404.4 1724.8,404.2 1725.1,404.2 1725.5,404.5 1725.8,403.9 1726.1,405.0 1726.5,403.4 1726.8,407.1 1727.1,404.2 1727.5,403.1 1727.8,402.3 1728.1,403.2 1728.5,404.8 1728.8,404.4 1729.1,406.8 1729.5,405.8 1729.8,405.1 1730.1,405.3 1730.5,404.3 1730.8,404.2 1731.1,403.0 1731.5,403.9 1731.8,402.1 1732.1,404.2 1732.5,404.0 1732.8,403.9 1733.1,403.3 1733.5,404.1 1733.8,404.5 1734.1,402.6 1734.5,405.6 1734.8,404.4 1735.1,405.0 1735.5,406.0 1735.8,403.2 1736.1,403.5 1736.5,403.5 1736.8,404.4 1737.1,403.1 1737.5,402.9 1737.8,405.1 1738.1,402.5 1738.5,402.9 1738.8,403.7 1739.1,404.8 1739.5,402.3 1739.8,404.5 1740.1,405.1 1740.5,405.5 1740.8,403.6 1741.1,403.9 1741.5,404.5 1741.8,404.4 1742.1,404.0 1742.5,403.7 1742.8,404.2 1743.1,404.1 1743.5,404.6 1743.8,403.7 1744.1,403.3 1744.5,403.9 1744.8,404.2 1745.1,405.5 1745.5,404.0 1745.8,402.2 1746.1,406.7 1746.5,405.7 1746.8,405.1 1747.1,405.0 1747.5,404.5 1747.8,406.3 1748.1,403.2 1748.5,405.3 1748.8,405.3 1749.1,407.0 1749.5,404.4 1749.8,406.1 1750.1,405.0 1750.5,403.5 1750.8,403.4 1751.1,405.8 1751.5,403.3 1751.8,404.3 1752.1,406.3 1752.5,403.6 1752.8,405.2 1753.1,406.6 1753.5,406.0 1753.8,404.7 1754.1,402.4 1754.5,404.1 1754.8,402.1 1755.1,401.4 1755.5,400.3 1755.8,399.5 1756.1,402.9 1756.5,402.8 1756.8,402.3 1757.1,405.4 1757.5,404.9 1757.8,404.1 1758.1,404.3 1758.5,405.3 1758.8,405.3 1759.1,403.8 1759.5,405.7 1759.8,404.5 1760.1,403.7 1760.5,404.6 1760.8,404.6 1761.1,405.8 1761.5,405.2 1761.8,402.2 1762.1,403.4 1762.5,405.6 1762.8,405.1 1763.1,403.8 1763.5,404.3 1763.8,406.5 1764.1,402.4 1764.5,406.2 1764.8,406.1 1765.1,404.5 1765.5,405.3 1765.8,406.7 1766.1,407.2 1766.5,407.8 1766.8,408.2 1767.1,405.5 1767.5,405.5 1767.8,405.6 1768.1,404.5 1768.5,404.9 1768.8,406.5 1769.1,402.9 1769.5,405.4 1769.8,404.6 1770.1,404.1 1770.5,405.3 1770.8,406.6 1771.1,408.1 1771.5,407.2 1771.8,408.7 1772.1,408.8 1772.5,406.4 1772.8,406.2 1773.1,405.5 1773.5,405.5 1773.8,403.6 1774.1,405.7 1774.5,405.0 1774.8,406.7 1775.1,405.8 1775.5,404.1 1775.8,406.3 1776.1,406.6 1776.5,406.3 1776.8,404.8 1777.1,404.7 1777.5,406.6 1777.8,404.4 1778.1,406.1 1778.5,405.3 1778.8,404.5 1779.1,404.8 1779.5,404.7 1779.8,405.9 1780.1,404.7 1780.5,405.3 1780.8,405.0 1781.1,405.2 1781.5,405.1 1781.8,401.6 1782.1,402.9 1782.5,401.9 1782.8,403.2 1783.1,404.2 1783.5,406.6 1783.8,406.8 1784.1,405.1 1784.5,405.1 1784.8,406.8 1785.1,405.9 1785.5,407.3 1785.8,404.6 1786.1,406.6 1786.5,404.9 1786.8,402.3 1787.1,406.2 1787.5,404.4 1787.8,406.2 1788.1,405.1 1788.5,406.7 1788.8,404.0 1789.1,403.8 1789.5,407.0 1789.8,406.6 1790.1,405.6 1790.5,403.8 1790.8,406.4 1791.1,408.0 1791.5,405.1 1791.8,405.1 1792.1,404.8 1792.5,406.2 1792.8,405.7 1793.1,404.2 1793.5,404.9 1793.8,406.6 1794.1,404.4 1794.5,405.8 1794.8,406.6 1795.1,406.3 1795.5,403.7 1795.8,406.1 1796.1,404.3 1796.5,403.4 1796.8,405.8 1797.1,403.8 1797.5,405.3 1797.8,406.9 1798.1,406.2 1798.5,405.6 1798.8,406.9 1799.1,406.2 1799.5,407.1 1799.8,407.4 1800.1,405.0 1800.5,407.5 1800.8,405.6 1801.1,405.7 1801.5,405.8 1801.8,405.3 1802.1,405.2 1802.5,406.1 1802.8,404.9 1803.1,406.0 1803.5,406.3 1803.8,405.0 1804.1,405.3 1804.5,406.2 1804.8,405.7 1805.1,406.4 1805.5,405.7 1805.8,405.4 1806.1,405.5 1806.5,406.1 1806.8,407.0 1807.1,404.0 1807.5,405.3 1807.8,405.4 1808.1,405.0 1808.5,405.3 1808.8,407.0 1809.1,406.9 1809.5,405.4 1809.8,404.7 1810.1,406.7 1810.5,406.7 1810.8,404.9 1811.1,406.2 1811.5,406.3 1811.8,406.5 1812.1,405.1 1812.5,405.9 1812.8,405.0 1813.1,406.0 1813.5,405.8 1813.8,406.9 1814.1,407.2 1814.5,407.7 1814.8,408.5 1815.1,408.8 1815.5,406.7 1815.8,406.8 1816.1,408.6 1816.5,405.3 1816.8,404.6 1817.1,405.0 1817.5,405.7 1817.8,406.0 1818.1,403.7 1818.5,404.0 1818.8,406.8 1819.1,404.6 1819.5,406.7 1819.8,407.3 1820.1,402.9 1820.5,406.6 1820.8,406.1 1821.1,405.7 1821.5,406.4 1821.8,406.0 1822.1,406.6 1822.5,408.0 1822.8,406.4 1823.1,404.8 1823.5,407.5 1823.8,407.2 1824.1,407.6 1824.5,406.5 1824.8,407.0 1825.1,408.1 1825.5,406.1 1825.8,405.5 1826.1,407.6 1826.5,405.8 1826.8,407.3 1827.1,405.6 1827.5,405.7 1827.8,406.5 1828.1,406.4 1828.5,405.1 1828.8,407.0 1829.1,403.8 1829.5,403.5 1829.8,401.1 1830.1,401.8 1830.5,403.1 1830.8,405.2 1831.1,406.0 1831.5,406.4 1831.8,406.3 1832.1,407.2 1832.5,407.2 1832.8,405.8 1833.1,406.4 1833.5,406.8 1833.8,407.2 1834.1,407.2 1834.5,406.6 1834.8,406.7 1835.1,407.0 1835.5,407.2 1835.8,405.4 1836.1,405.3 1836.5,405.8 1836.8,406.3 1837.1,405.8 1837.5,406.9 1837.8,408.0 1838.1,410.6 1838.5,408.2 1838.8,409.2 1839.1,407.3 1839.5,407.0 1839.8,406.7 1840.1,403.4 1840.5,407.5 1840.8,407.0 1841.1,407.8 1841.5,407.0 1841.8,407.2 1842.1,407.0 1842.5,408.4 1842.8,405.7 1843.1,407.1 1843.5,406.2 1843.8,407.8 1844.1,406.9 1844.5,408.2 1844.8,406.6 1845.1,406.3 1845.5,406.3 1845.8,405.7 1846.1,404.4 1846.5,406.4 1846.8,406.0 1847.1,406.0 1847.5,405.3 1847.8,406.6 1848.1,405.4 1848.5,406.8 1848.8,406.3 1849.1,406.2 1849.5,404.9 1849.8,406.8 1850.1,407.4 1850.5,406.4 1850.8,405.9 1851.1,407.1 1851.5,407.3 1851.8,406.1 1852.1,409.3 1852.5,407.8 1852.8,408.1 1853.1,407.0 1853.5,407.0 1853.8,405.6 1854.1,406.3 1854.5,406.6 1854.8,407.3 1855.1,406.1 1855.5,405.7 1855.8,407.8 1856.1,406.7 1856.5,407.5 1856.8,406.7 1857.1,406.0 1857.5,406.6 1857.8,404.1 1858.1,407.6 1858.5,407.2 1858.8,407.8 1859.1,406.4 1859.5,408.6 1859.8,407.9 1860.1,404.8 1860.5,404.8 1860.8,406.9 1861.1,405.2 1861.5,406.5 1861.8,406.5 1862.1,406.3 1862.5,408.2 1862.8,407.2 1863.1,407.3 1863.5,406.9 1863.8,409.6 1864.1,407.7 1864.5,405.3 1864.8,406.1 1865.1,404.5 1865.5,405.2 1865.8,405.7 1866.1,404.7 1866.5,404.5 1866.8,405.1 1867.1,406.9 1867.5,403.5 1867.8,407.0 1868.1,404.2 1868.5,405.4 1868.8,405.6 1869.1,407.1 1869.5,406.8 1869.8,406.3 1870.1,407.2 1870.5,408.0 1870.8,408.5 1871.1,407.2 1871.5,406.6 1871.8,406.4 1872.1,408.3 1872.5,405.9 1872.8,406.3 1873.1,407.1 1873.5,408.1 1873.8,405.0 1874.1,407.8 1874.5,408.0 1874.8,407.0 1875.1,404.9 1875.5,406.1 1875.8,406.6 1876.1,407.1 1876.5,405.5 1876.8,406.5 1877.1,407.3 1877.5,405.7 1877.8,405.3 1878.1,404.4 1878.5,403.0 1878.8,404.3 1879.1,405.2 1879.5,406.8 1879.8,405.7 1880.1,405.4 1880.5,406.3 1880.8,405.9 1881.1,407.4 1881.5,406.3 1881.8,405.3 1882.1,407.5 1882.5,406.8 1882.8,407.1 1883.1,407.3 1883.5,408.0 1883.8,405.9 1884.1,407.5 1884.5,407.0 1884.8,407.0 1885.1,406.8 1885.5,406.4 1885.8,407.1 1886.1,406.9 1886.5,407.6 1886.8,408.4 1887.1,405.9 1887.5,408.9 1887.8,408.0 1888.1,405.8 1888.5,406.8 1888.8,406.9 1889.1,408.1 1889.5,406.0 1889.8,408.7 1890.1,405.9 1890.5,406.6 1890.8,406.3 1891.1,405.6 1891.5,405.5 1891.8,405.7 1892.1,405.5 1892.5,404.9 1892.8,404.7 1893.1,403.5 1893.5,406.3 1893.8,408.8 1894.1,408.6 1894.5,408.2 1894.8,406.6 1895.1,407.5 1895.5,406.5 1895.8,406.5 1896.1,407.2 1896.5,408.1 1896.8,406.5 1897.1,406.4 1897.5,407.0 1897.8,405.5 1898.1,407.9 1898.5,408.1 1898.8,408.3 1899.1,407.9 1899.5,406.5 1899.8,407.1 1900.1,406.8 1900.5,408.9 1900.8,411.7 1901.1,408.8 1901.5,410.1 1901.8,410.0 1902.1,406.7 1902.5,409.5 1902.8,406.4 1903.1,406.8 1903.5,407.1 1903.8,407.4 1904.1,407.2 1904.5,406.2 1904.8,406.0 1905.1,404.6 1905.5,406.6 1905.8,408.4 1906.1,406.3 1906.5,407.8 1906.8,407.9 1907.1,407.3 1907.5,406.6 1907.8,406.6 1908.1,407.1 1908.5,405.4 1908.8,408.6 1909.1,406.2 1909.5,406.8 1909.8,407.2 1910.1,408.1 1910.5,409.2 1910.8,409.9 1911.1,408.4 1911.5,409.3 1911.8,407.0 1912.1,408.0 1912.5,408.0 1912.8,407.4 1913.1,407.9 1913.5,406.2 1913.8,408.4 1914.1,407.5 1914.5,406.0 1914.8,404.3 1915.1,404.5 1915.5,402.4 1915.8,405.2 1916.1,406.7 1916.5,409.2 1916.8,407.0 1917.1,408.6 1917.5,407.9 1917.8,405.6 1918.1,406.0 1918.5,406.7 1918.8,408.5 1919.1,408.8 1919.5,407.0 1919.8,407.7 1920.1,407.4 1920.5,404.5 1920.8,408.0 1921.1,408.2 1921.5,404.5 1921.8,406.0 1922.1,407.1 1922.5,407.3 1922.8,408.7 1923.1,409.4 1923.5,408.7 1923.8,410.9 1924.1,409.9 1924.5,409.7 1924.8,409.2 1925.1,408.6 1925.5,407.0 1925.8,409.6 1926.1,408.2 1926.5,408.8 1926.8,410.4 1927.1,409.4 1927.5,410.0 1927.8,406.3 1928.1,406.3 1928.5,407.2 1928.8,407.0 1929.1,407.0 1929.5,406.7 1929.8,408.0 1930.1,408.6 1930.5,406.9 1930.8,408.5 1931.1,407.8 1931.5,406.2 1931.8,406.0 1932.1,407.5 1932.5,408.5 1932.8,406.3 1933.1,404.9 1933.5,407.6 1933.8,407.4 1934.1,405.9 1934.5,407.4 1934.8,408.4 1935.1,405.1 1935.5,405.0 1935.8,404.7 1936.1,406.4 1936.5,405.2 1936.8,406.5 1937.1,408.5 1937.5,408.4 1937.8,408.5 1938.1,406.5 1938.5,407.9 1938.8,406.9 1939.1,408.9 1939.5,409.3 1939.8,410.4 1940.1,410.0 1940.5,409.9 1940.8,409.3 1941.1,407.9 1941.5,408.1 1941.8,406.6 1942.1,406.3 1942.5,405.6 1942.8,407.0 1943.1,407.5 1943.5,406.7 1943.8,404.3 1944.1,407.1 1944.5,407.5 1944.8,408.1 1945.1,409.0 1945.5,409.1 1945.8,408.9 1946.1,407.7 1946.5,408.0 1946.8,407.0 1947.1,406.4 1947.5,408.7 1947.8,406.3 1948.1,408.4 1948.5,406.6 1948.8,407.0 1949.1,408.8 1949.5,407.0 1949.8,408.7 1950.1,408.2 1950.5,407.5 1950.8,408.4 1951.1,408.2 1951.5,407.8 1951.8,407.0 1952.1,408.4 1952.5,407.2 1952.8,407.4 1953.1,407.7 1953.5,406.8 1953.8,406.6 1954.1,406.4 1954.5,406.5 1954.8,406.8 1955.1,408.6 1955.5,407.0 1955.8,407.2 1956.1,406.3 1956.5,405.1 1956.8,407.9 1957.1,407.5 1957.5,408.5 1957.8,405.8 1958.1,406.8 1958.5,407.4 1958.8,410.5 1959.1,410.1 1959.5,409.4 1959.8,409.4 1960.1,409.2 1960.5,407.2 1960.8,408.3 1961.1,406.7 1961.5,407.8 1961.8,408.4 1962.1,408.0 1962.5,407.0 1962.8,407.4 1963.1,408.5 1963.5,407.2 1963.8,406.4 1964.1,407.4 1964.5,407.2 1964.8,407.5 1965.1,407.7 1965.5,407.4 1965.8,407.4 1966.1,408.6 1966.5,408.3 1966.8,408.7 1967.1,407.8 1967.5,407.3 1967.8,408.0 1968.1,406.3 1968.5,406.6 1968.8,408.5 1969.1,407.2 1969.5,407.1 1969.8,406.6 1970.1,408.1 1970.5,406.3 1970.8,408.6 1971.1,407.5 1971.5,405.6 1971.8,407.0 1972.1,406.6 1972.5,408.2 1972.8,408.2 1973.1,407.2 1973.5,407.1 1973.8,408.2 1974.1,407.3 1974.5,409.5 1974.8,408.0 1975.1,409.6 1975.5,407.5 1975.8,409.6 1976.1,408.0 1976.5,408.4 1976.8,409.0 1977.1,407.6 1977.5,405.2 1977.8,405.5 1978.1,407.2 1978.5,405.5 1978.8,404.4 1979.1,406.1 1979.5,405.2 1979.8,407.2 1980.1,408.1 1980.5,407.5 1980.8,408.8 1981.1,408.4 1981.5,410.8 1981.8,410.5 1982.1,411.5 1982.5,409.9 1982.8,408.2 1983.1,407.3 1983.5,407.6 1983.8,407.8 1984.1,408.5 1984.5,408.8 1984.8,406.6 1985.1,406.7 1985.5,408.1 1985.8,406.6 1986.1,407.7 1986.5,406.1 1986.8,407.8 1987.1,408.0 1987.5,408.6 1987.8,408.5 1988.1,409.4 1988.5,409.4 1988.8,408.8 1989.1,407.6 1989.5,407.5 1989.8,407.1 1990.1,407.1 1990.5,407.6 1990.8,407.6 1991.1,407.6 1991.5,408.0 1991.8,408.5 1992.1,406.8 1992.5,406.7 1992.8,406.9 1993.1,406.3 1993.5,405.5 1993.8,405.7 1994.1,408.0 1994.5,406.6 1994.8,408.2 1995.1,406.8 1995.5,409.5 1995.8,406.8 1996.1,409.6 1996.5,408.6 1996.8,409.2 1997.1,409.0 1997.5,408.4 1997.8,407.6 1998.1,410.3 1998.5,407.5 1998.8,408.1 1999.1,406.6 1999.5,407.9 1999.8,408.5 2000.1,407.2 2000.5,408.0 2000.8,407.6 2001.1,407.5 2001.5,408.5 2001.8,408.7 2002.1,407.2 2002.5,406.2 2002.8,408.3 2003.1,406.8 2003.5,407.4 2003.8,407.1 2004.1,408.9 2004.5,410.0 2004.8,407.3 2005.1,410.0 2005.5,408.1 2005.8,407.5 2006.1,408.8 2006.5,409.3 2006.8,406.5 2007.1,405.5 2007.5,406.8 2007.8,405.6 2008.1,402.5 2008.5,406.0 2008.8,406.2 2009.1,407.0 2009.5,407.9 2009.8,407.4 2010.1,407.5 2010.5,409.9 2010.8,406.3 2011.1,408.1 2011.5,408.5 2011.8,406.5 2012.1,406.8 2012.5,406.8 2012.8,408.8 2013.1,406.9 2013.5,408.4 2013.8,406.8 2014.1,406.7 2014.5,408.4 2014.8,408.7 2015.1,406.6 2015.5,406.9 2015.8,408.2 2016.1,407.0 2016.5,406.8 2016.8,406.8 2017.1,408.1 2017.5,405.1 2017.8,409.2 2018.1,408.8 2018.5,408.5 2018.8,407.3 2019.1,407.0 2019.5,408.3 2019.8,406.8 2020.1,410.0 2020.5,407.3 2020.8,409.1 2021.1,408.7 2021.5,407.5 2021.8,407.7 2022.1,407.1 2022.5,408.0 2022.8,408.5 2023.1,407.9 2023.5,407.6 2023.8,408.0 2024.1,409.3 2024.5,409.1 2024.8,408.8 2025.1,407.7 2025.5,407.7 2025.8,408.5 2026.1,407.6 2026.5,407.3 2026.8,409.3 2027.1,408.0 2027.5,408.2 2027.8,407.4 2028.1,408.2 2028.5,408.7 2028.8,408.2 2029.1,406.5 2029.5,407.5 2029.8,408.5 2030.1,408.3 2030.5,409.2 2030.8,408.3 2031.1,408.8 2031.5,409.7 2031.8,408.6 2032.1,409.2 2032.5,406.4 2032.8,407.0 2033.1,408.8 2033.5,408.7 2033.8,408.7 2034.1,408.8 2034.5,408.8 2034.8,406.6 2035.1,408.9 2035.5,407.7 2035.8,405.2 2036.1,404.9 2036.5,407.0 2036.8,406.5 2037.1,408.1 2037.5,407.5 2037.8,406.4 2038.1,406.9 2038.5,407.0 2038.8,406.7 2039.1,406.6 2039.5,404.6 2039.8,405.9 2040.1,406.0 2040.5,406.9 2040.8,405.3 2041.1,407.3 2041.5,406.5 2041.8,408.6 2042.1,409.0 2042.5,408.3 2042.8,409.9 2043.1,408.2 2043.5,408.7" fill="none" stroke="#000" stroke-width="3.0" stroke-linejoin="round"/>
<polyline points="1168.8,519.0 1193.5,519.0 1197.5,518.9 1198,518.5 1198.3,518.0 1198.5,517.0 1199.3,511.8 1199.5,510.9 1199.8,511.3 1200.8,517.6 1201.3,518.7 1201.8,518.9 1203.8,518.9 1206,518.9 1206.8,518.7 1207,518.4 1207.3,517.6 1207.5,516.1 1208.5,500.2 1208.8,498.6 1209,500.2 1210,516.1 1210.3,517.6 1210.5,518.4 1211,518.8 1212.5,518.9 1216,519.0 1240.3,518.9 1241,518.7 1242,517.0 1242.3,516.8 1242.5,517.0 1243.3,518.4 1243.5,518.7 1244,518.9 1251.3,518.8 1253,518.6 1254,518.3 1254.3,518.1 1254.5,517.5 1254.8,516.0 1255,512.4 1255.3,505.1 1256.3,439.8 1256.5,435.8 1256.8,444.8 1257.5,498.2 1257.8,508.6 1258,514.2 1258.3,516.7 1258.5,517.8 1259,518.4 1260.5,518.7 1263.3,518.9 1267.8,518.8 1270,518.7 1271.3,518.5 1271.8,518.3 1272,518.0 1272.3,517.4 1272.5,515.9 1272.8,512.3 1273,505.1 1274,448.8 1274.3,447.6 1275.3,502.8 1275.5,510.6 1275.8,514.2 1276,514.7 1276.3,512.3 1276.5,506.9 1277.3,477.9 1277.5,473.0 1277.8,475.3 1278.8,511.2 1279,515.2 1279.3,517.2 1279.5,518.0 1280,518.5 1280.8,518.7 1285.5,518.9 1296.8,518.8 1299,518.6 1300.3,518.3 1300.5,518.0 1300.8,517.5 1301,516.2 1301.3,513.0 1301.5,506.1 1302.5,437.0 1302.8,429.9 1303,437.0 1303.8,493.8 1304,506.1 1304.3,512.9 1304.5,516.1 1304.8,517.5 1305,518.0 1305.8,518.4 1307,518.6 1308.8,518.6 1310,518.3 1310.8,518.0 1311.3,517.2 1311.5,515.9 1311.8,512.7 1312,505.3 1312.3,491.2 1313.3,393.5 1313.5,395.5 1314.3,473.1 1314.8,504.9 1315,509.7 1315.3,510.8 1315.5,510.8 1315.8,511.2 1316.5,515.6 1317,517.8 1317.5,518.4 1318,518.6 1321,518.8 1325.3,518.8 1326.5,518.6 1326.8,518.4 1327,518.0 1327.3,517.0 1327.5,514.7 1327.8,510.2 1328.8,479.5 1329,480.1 1329.8,504.7 1330.3,515.3 1330.5,517.3 1330.8,518.1 1331,518.5 1331.8,518.7 1335.8,518.9 1346.8,518.9 1347.5,518.7 1348.5,517.3 1348.8,517.3 1349.8,518.6 1350.5,518.9 1366,519.0 1367,518.7 1368,517.4 1368.3,517.3 1368.5,517.4 1369.3,518.5 1369.8,518.9 1370.5,519.0 1374.3,518.9 1374.8,518.8 1375.3,518.3 1376.3,515.0 1376.5,514.8 1376.8,515.3 1377.5,518.0 1377.8,518.5 1378,518.8 1378.5,518.9 1417,518.9 1417.8,518.6 1418.8,516.9 1419,516.8 1419.8,517.8 1420,517.9 1420.3,517.5 1421.3,512.1 1421.5,511.8 1421.8,512.5 1422.5,517.2 1422.8,518.1 1423,518.5 1423.5,518.8 1424,518.8 1424.5,518.3 1424.8,517.6 1425.8,512.7 1426,512.8 1427,517.8 1427.3,518.4 1427.8,518.9 1434.8,519.0 1446.5,518.9 1447,518.7 1447.3,518.4 1447.5,517.6 1447.8,516.3 1448.8,506.8 1449,507.0 1449.8,514.5 1450.3,517.8 1450.5,518.4 1450.8,518.6 1451.8,518.7 1452.3,518.4 1452.5,517.8 1452.8,516.5 1453.3,509.6 1454,493.3 1454.3,492.9 1455.3,513.2 1455.5,516.2 1455.8,517.7 1456,518.4 1456.5,518.7 1458.8,518.9 1463.3,518.9 1464.3,518.8 1464.8,518.2 1465,517.4 1465.3,515.6 1466.3,499.6 1466.5,498.7 1466.8,500.9 1467.5,513.9 1467.8,516.5 1468,517.8 1468.3,518.4 1468.8,518.8 1473,519.0 1487.5,518.9 1488,518.8 1488.3,518.6 1488.5,518.1 1489.3,516.0 1489.5,515.6 1489.8,515.7 1490.8,518.4 1491.3,518.8 1492.3,518.9 1492.8,518.6 1493.3,517.4 1494.3,511.7 1494.5,511.8 1495.5,517.6 1496,518.7 1496.3,518.8 1497,518.9 1502,518.9 1502.5,518.5 1502.8,517.9 1503,516.9 1503.8,511.5 1504,510.6 1504.3,511.0 1505.3,517.6 1505.5,518.3 1506,518.8 1510,519.0 1513,518.9 1513.8,518.8 1514.3,518.3 1515.3,515.3 1515.5,515.1 1515.8,515.6 1516.5,518.0 1516.8,518.4 1517,518.4 1517.3,518.2 1517.5,517.6 1518.3,514.9 1518.5,514.7 1518.8,515.2 1519.5,517.9 1519.8,518.3 1520,518.4 1520.3,518.2 1520.5,517.7 1521.3,515.3 1521.5,515.1 1521.8,515.6 1522.5,518.0 1522.8,518.5 1523.3,518.9 1528.8,519.0 1533.5,518.8 1534.3,518.5 1534.5,518.1 1534.8,517.2 1535,515.1 1536,493.9 1536.3,491.8 1536.5,493.9 1537.5,515.1 1537.8,517.2 1538,518.1 1538.3,518.5 1538.8,518.8 1540.5,518.9 1541.3,518.8 1541.8,518.6 1542.3,517.4 1543,513.9 1543.3,513.4 1543.5,513.9 1544.3,517.4 1544.5,518.2 1545,518.8 1545.8,518.9 1548.3,518.9 1549.5,518.9 1550,518.7 1550.5,517.9 1550.8,516.9 1551.5,512.1 1551.8,511.5 1552,512.1 1552.8,516.8 1553,517.8 1553.3,518.3 1553.5,518.3 1553.8,518.0 1554.8,513.6 1555,512.9 1555.3,512.6 1555.5,512.6 1556,512.7 1556.3,513.3 1557.3,517.8 1557.8,518.7 1558.3,518.9 1559.3,518.9 1565,518.8 1565.5,518.7 1565.8,518.4 1566.8,516.3 1567,516.1 1567.5,516.5 1567.8,516.4 1568,515.0 1568.5,505.4 1569.3,478.9 1569.5,476.9 1569.8,481.5 1570.5,508.5 1570.8,513.7 1571,516.6 1571.3,517.9 1571.5,518.4 1571.8,518.6 1573,518.8 1578.3,518.9 1578.8,518.7 1579.8,517.4 1580,517.3 1581.3,518.8 1582,519.0 1603,519.0 1603.8,518.7 1604.8,517.4 1605,517.3 1605.3,517.5 1606,518.6 1606.8,518.9 1613,518.9 1615.3,518.7 1615.5,518.6 1615.8,518.2 1616,517.2 1616.3,515.3 1617.3,497.6 1617.5,496.6 1617.8,499.0 1618.5,513.4 1618.8,516.2 1619,517.7 1619.3,518.4 1619.8,518.8 1620.8,518.9 1634.5,519.0 1637,518.9 1637.8,518.7 1638,518.4 1638.3,517.6 1638.5,516.1 1639.5,500.4 1639.8,498.8 1640,500.4 1640.8,513.3 1641.3,517.6 1641.5,518.4 1641.8,518.7 1643,518.9 1646.8,518.9 1647.5,518.6 1648,517.5 1649,511.3 1649.3,511.2 1650.3,517.3 1650.8,518.6 1651.3,518.9 1656,518.9 1656.8,518.9 1657.3,518.8 1657.8,517.9 1658.8,512.8 1659,512.5 1659.3,513.2 1660,517.4 1660.3,518.2 1660.8,518.8 1661.5,518.9 1665,519.0 1671.5,519.0 1673.5,518.8 1674,518.5 1674.3,517.8 1674.5,516.6 1675.5,506.9 1675.8,506.7 1676.8,516.3 1677.3,518.4 1677.8,518.8 1681.8,519.0 1689.5,518.9 1690,518.5 1690.3,518.0 1691.3,514.5 1691.5,514.6 1692.5,518.1 1693,518.8 1694.5,519.0 1698.8,518.8 1699.3,518.4 1699.5,517.9 1700.5,511.9 1700.8,511.3 1701,511.9 1702,517.7 1702.3,518.2 1702.5,518.2 1702.8,517.6 1703,516.3 1704,502.1 1704.3,500.7 1704.5,502.1 1705.5,516.3 1705.8,517.7 1706,518.4 1706.5,518.8 1707.3,518.9 1710.8,518.9 1711.5,518.7 1712,517.6 1713,512.0 1713.3,511.9 1714.3,517.4 1714.8,518.6 1715.3,518.9 1727,518.9 1727.5,518.7 1727.8,518.4 1728.8,515.8 1729,515.6 1729.3,516.0 1730,518.1 1730.3,518.6 1730.8,518.9 1739.8,518.9 1740.3,518.7 1740.5,518.4 1741.5,515.1 1741.8,514.7 1742,515.1 1743,518.4 1743.5,518.8 1744.5,518.9 1745,518.5 1745.3,517.9 1746.3,512.9 1746.5,512.6 1746.8,513.3 1747.5,517.4 1747.8,518.2 1748.3,518.8 1749,518.9 1751.3,519.0 1765.3,518.9 1765.8,518.8 1766.3,518.0 1766.5,517.0 1767.3,512.0 1767.5,511.1 1767.8,511.5 1768.5,516.5 1769,518.4 1769.5,518.9 1770.5,519.0 1781.3,519.0 1783.8,518.8 1784.3,518.3 1784.5,517.6 1785.5,511.7 1785.8,511.6 1786.8,517.4 1787,518.2 1787.5,518.8 1788.5,519.0 1797.3,518.9 1797.8,518.6 1798.8,516.6 1799,516.4 1799.3,516.7 1800.3,518.7 1801,518.9 1801.5,518.8 1801.8,518.6 1802.8,516.6 1803,516.4 1803.3,516.7 1804.3,518.7 1804.8,518.9 1805.3,519.0 1833,519.0 1833.8,518.7 1834.8,517.4 1835,517.3 1835.3,517.5 1836,518.6 1836.8,519.0 1854.5,519.0 1855,518.9 1855.5,518.4 1856.5,516.1 1856.8,516.1 1857.8,518.3 1858,518.7 1858.5,518.9 1859.8,519.0 1860.5,518.8 1861,518.3 1861.8,517.0 1862,516.9 1862.3,517.1 1863,518.5 1863.3,518.7 1863.8,518.9 1880,519.0 1880.8,518.9 1881.3,518.5 1882.3,516.2 1882.5,516.0 1882.8,516.3 1883.8,518.6 1884,518.8 1884.5,518.9 1885.3,518.9 1885.8,518.6 1886.8,516.6 1887,516.5 1887.3,516.7 1888.3,518.7 1889,519.0 1928.5,519.0 1929,518.8 1929.3,518.6 1930.3,516.4 1930.5,516.0 1930.8,516.2 1931.5,518.0 1932,518.8 1932.8,519.0 1936.3,519.0 1937,518.8 1937.5,518.2 1938.5,513.9 1938.8,513.5 1939,513.9 1940,518.2 1940.5,518.8 1941.3,519.0 1961,519.0 1961.8,518.7 1962.8,517.4 1963,517.3 1963.3,517.5 1964,518.6 1964.8,519.0 1977.8,519.0 1978.3,518.9 1978.8,518.6 1979.8,517.0 1980,516.9 1981.3,518.7 1982,519.0 2027.5,519.0 2028.3,518.9 2028.8,518.6 2029.8,517.0 2030,516.9 2030.3,517.1 2031,518.5 2031.3,518.7 2031.8,518.9 2043.5,519.0" fill="none" stroke="#ff3b30" stroke-width="3.2" stroke-linejoin="round" stroke-linecap="butt" />
<polyline points="133.3,1101.5 358.3,1101.4 431.8,1101.1 516.3,1100.4 553.8,1100.3 584.8,1100.5 652.8,1101.4 680.3,1101.5 691.3,1101.3 714.8,1100.5 731.3,1100.1 735.3,1099.8 739.8,1099.1 742.8,1098.4 744.8,1097.5 747.8,1095.7 751.8,1092.8 757.3,1087.6 763.3,1082.1 769.8,1076.4 773.3,1073.5 776.8,1070.9 781.3,1067.8 787.8,1063.9 790.3,1062.2 793.8,1059.3 796.3,1056.7 797.8,1054.8 799.8,1051.7 801.8,1047.9 803.3,1044.6 807.8,1032.5 809.8,1026.5 811.3,1021.5 815.8,1004.2 817.3,996.5 819.3,982.9 821.8,963.9 826.3,933.6 827.8,922.1 828.8,912.8 829.8,901.5 830.8,888.7 833.3,852.5 840.8,761.6 841.8,752.5 842.8,747.1 843.8,742.9 844.3,741.6 844.8,741.2 845.3,741.6 845.8,742.9 846.8,747.2 847.8,753.4 848.3,759.1 849.8,782.5 852.8,839.8 854.3,864.4 855.3,883.7 856.8,917.7 857.8,934.3 859.8,960.0 864.3,1003.7 865.3,1011.3 866.3,1016.8 871.3,1039.9 873.3,1048.2 874.8,1053.8 875.8,1057.0 877.8,1061.6 879.8,1065.5 881.8,1068.7 883.8,1071.4 886.3,1073.9 888.8,1076.0 891.8,1078.0 895.3,1079.9 896.8,1080.5 900.3,1081.3 901.8,1081.9 902.8,1082.6 903.3,1083.2 904.3,1088.8 904.8,1089.9 905.3,1089.5 905.8,1087.8 906.3,1087.4 906.8,1087.2 908.3,1086.8 909.8,1086.6 914.3,1086.7 918.8,1087.1 930.8,1088.6 951.3,1091.9 959.3,1092.9 984.3,1095.3 994.8,1096.0 1004.8,1096.5 1006,1094.0 1007.6,1075.5 1008.4,1040.6 1006.2,1039.6 1002,1018.0" fill="none" stroke="#000" stroke-width="3.6" stroke-linejoin="round" stroke-linecap="butt" />
<polyline points="133.3,1108.0 172.3,1106.6 199.3,1106.0 229.3,1105.9 278.3,1106.2 368.8,1107.1 399.8,1107.6 506.8,1109.9 583.3,1111.9 612.3,1112.4 645.8,1112.7 701.3,1112.5 715.3,1112.2 729.3,1111.6 738.3,1110.9 748.3,1109.6 756.3,1108.4 763.3,1106.8 771.8,1104.2 775.3,1103.0 778.3,1101.7 782.3,1099.6 786.3,1097.1 789.3,1094.9 792.3,1092.2 795.8,1088.5 798.8,1084.9 801.3,1081.2 803.8,1077.0 806.8,1071.5 809.8,1065.4 812.8,1058.5 815.3,1052.0 817.3,1046.2 819.3,1039.9 821.3,1032.8 824.8,1019.5 826.3,1013.0 827.3,1007.8 830.3,987.9 834.3,962.8 841.3,910.0 844.8,874.5 846.3,862.6 851.8,827.0 858.3,782.7 860.8,770.1 861.8,766.8 862.3,766.1 862.8,766.1 863.3,767.0 863.8,768.4 864.8,772.8 866.3,781.3 867.3,790.2 868.8,807.3 871.3,840.4 872.3,855.4 873.8,885.3 875.3,925.0 876.3,945.8 878.3,978.7 879.8,997.0 880.8,1006.1 881.8,1013.7 882.8,1019.6 883.8,1024.5 889.8,1047.4 891.3,1052.5 892.8,1056.9 895.8,1063.8 898.8,1069.7 901.8,1074.7 904.8,1078.8 909.3,1083.8 913.8,1088.1 918.3,1091.6 920.8,1093.3 923.3,1094.7 929.8,1097.8 936.8,1100.6 944.3,1103.0 952.3,1105.2 966.8,1108.5 978.8,1110.8 989.3,1112.3 998.8,1113.2" fill="none" stroke="#f9aa3c" stroke-width="3.6" stroke-linejoin="round" stroke-linecap="butt" />
<polyline points="1168.8,1102.5 1189.8,1103.2 1212.8,1103.7 1239.8,1103.8 1257.8,1103.6 1283.3,1102.7 1338.8,1100.2 1354.8,1099.2 1368.3,1097.9 1373.3,1097.2 1377.8,1096.1 1382.3,1094.5 1384.8,1093.4 1385.8,1092.8 1386.8,1092.0 1388.3,1090.4 1394.3,1082.8 1399.3,1078.0 1400.8,1076.7 1402.3,1075.7 1403.8,1075.1 1404.8,1075.0 1406.3,1075.2 1408.3,1075.9 1410.3,1076.9 1413.8,1079.0 1415.3,1080.3 1418.3,1083.7 1419.3,1084.4 1422.3,1086.1 1425.3,1087.7 1427.8,1088.7 1430.3,1089.6 1432.8,1090.3 1437.8,1091.2 1444.8,1092.2 1450.3,1092.8 1455.8,1093.2 1463.3,1093.3 1478.3,1092.7 1483.3,1092.7 1483.8,1093.1 1485.3,1095.8 1485.8,1096.2 1486.3,1096.3 1497.8,1093.8 1500.3,1093.4 1502.8,1093.3 1503.3,1093.7 1505.3,1098.1 1505.8,1098.6 1506.3,1098.5 1506.8,1098.2 1508.8,1096.1 1510.8,1095.3 1512.8,1094.8 1519.3,1093.7 1531.3,1092.5 1535.8,1092.0 1541.3,1090.9 1542.8,1090.4 1543.8,1090.0 1545.3,1089.1 1546.8,1087.9 1553.3,1082.2 1555.3,1080.1 1561.3,1073.3 1562.8,1071.8 1564.3,1070.6 1566.8,1069.1 1570.3,1067.7 1575.8,1066.0 1580.3,1064.9 1583.8,1063.8 1585.8,1063.0 1587.8,1062.0 1588.3,1061.6 1589.3,1060.5 1592.8,1054.7 1593.8,1053.3 1595.8,1051.4 1598.3,1049.4 1601.3,1047.4 1604.3,1045.5 1613.3,1040.6 1620.8,1036.1 1624.8,1034.2 1627.8,1033.3 1633.3,1032.6 1639.8,1032.0 1644.8,1031.9 1646.3,1032.2 1647.8,1032.6 1653.8,1035.2 1655.8,1035.8 1661.3,1037.1 1663.3,1037.4 1664.8,1037.5 1665.8,1037.2 1666.8,1036.5 1670.8,1032.1 1672.3,1031.0 1673.3,1030.7 1676.3,1030.2 1680.8,1029.8 1681.8,1029.9 1682.3,1030.2 1683.3,1031.1 1684.8,1033.1 1688.8,1039.5 1690.3,1041.2 1694.3,1044.5 1695.8,1046.0 1697.3,1048.1 1698.8,1051.0 1699.8,1054.7 1700.3,1057.4 1701.3,1065.0 1701.8,1070.7 1702.8,1094.3 1703.8,1113.1 1704.3,1120.2 1704.8,1123.7 1706.3,1129.0 1707.3,1131.4 1708.3,1133.1 1709.3,1134.2 1711.3,1135.6 1713.3,1136.6 1714.8,1137.1 1715.8,1137.2 1716.8,1137.1 1718.3,1136.5 1720.3,1135.1 1722.8,1132.9 1723.8,1131.6 1725.3,1129.0 1729.8,1119.4 1731.8,1115.8 1738.3,1107.6 1740.3,1105.4 1742.3,1103.5 1744.8,1101.8 1746.8,1101.1 1754.3,1099.7 1761.8,1098.8 1766.3,1098.4 1770.8,1098.2 1780.3,1098.4 1840.8,1102.5 1862.8,1103.4 1889.8,1104.3 1932.3,1105.5 1959.3,1106.1 2001.3,1106.6 2034.3,1106.8" fill="none" stroke="#0b87e3" stroke-width="3.6" stroke-linejoin="round" stroke-linecap="butt" />
<polyline points="1168.8,1118.2 1175.3,1118.1 1182.8,1117.7 1191.3,1116.9 1200.3,1116.0 1205.3,1114.8 1215.3,1111.7 1219.8,1110.5 1235.3,1107.4 1240.3,1106.7 1244.8,1106.4 1255.3,1106.6 1273.3,1107.4 1281.8,1108.0 1302.3,1109.7 1312.8,1110.3 1338.3,1110.6 1373.3,1110.9 1401.8,1110.9 1422.8,1110.3 1482.3,1107.3 1525.8,1104.6 1536.8,1104.1 1546.3,1103.8 1552.8,1103.8 1554.8,1103.9 1557.8,1104.4 1564.8,1105.9 1567.8,1106.4 1579.3,1107.4 1586.8,1107.7 1587.8,1107.4 1589.3,1106.4 1595.3,1100.2 1597.8,1097.1 1603.8,1088.9 1605.8,1086.6 1607.3,1085.3 1608.8,1084.5 1609.8,1084.2 1615.3,1083.8 1620.3,1083.7 1621.8,1083.8 1623.3,1084.3 1624.8,1085.0 1629.3,1087.4 1631.3,1088.2 1636.3,1089.6 1649.3,1092.5 1653.3,1093.8 1657.8,1095.4 1663.8,1098.0 1669.8,1100.9 1673.8,1103.1 1679.3,1107.0 1680.8,1107.7 1683.3,1108.5 1689.8,1110.1 1698.3,1111.5 1713.3,1113.6 1727.3,1115.0 1758.8,1117.3 1769.8,1117.8 1779.3,1118.1 1798.8,1118.0 1846.8,1116.9 1868.8,1116.7 1887.8,1117.0 1926.3,1118.3 1942.8,1118.6 1990.8,1119.0 2034.3,1119.1" fill="none" stroke="#4cbb3e" stroke-width="3.6" stroke-linejoin="round" stroke-linecap="butt" />
<rect x="132" y="2.9" width="877" height="567.8" fill="none" stroke="#000" stroke-width="2.8"/>
<rect x="132" y="712" width="877" height="566.5" fill="none" stroke="#000" stroke-width="2.8"/>
<rect x="1167.5" y="2.9" width="877.5" height="567.8" fill="none" stroke="#000" stroke-width="2.8"/>
<rect x="1167.5" y="712" width="877.5" height="566.5" fill="none" stroke="#000" stroke-width="2.8"/>
<line x1="132" y1="570.7" x2="132" y2="586.2" stroke="#000" stroke-width="2.8" stroke-linecap="butt"/>
<text x="132" y="619.9" font-family='"Liberation Sans", sans-serif' font-size="36" font-weight="normal" text-anchor="middle" >15</text>
<line x1="278.17" y1="570.7" x2="278.17" y2="586.2" stroke="#000" stroke-width="2.8" stroke-linecap="butt"/>
<text x="278.17" y="619.9" font-family='"Liberation Sans", sans-serif' font-size="36" font-weight="normal" text-anchor="middle" >10</text>
<line x1="424.33" y1="570.7" x2="424.33" y2="586.2" stroke="#000" stroke-width="2.8" stroke-linecap="butt"/>
<text x="424.33" y="619.9" font-family='"Liberation Sans", sans-serif' font-size="36" font-weight="normal" text-anchor="middle" >5</text>
<line x1="570.5" y1="570.7" x2="570.5" y2="586.2" stroke="#000" stroke-width="2.8" stroke-linecap="butt"/>
<text x="570.5" y="619.9" font-family='"Liberation Sans", sans-serif' font-size="36" font-weight="normal" text-anchor="middle" >0</text>
<line x1="716.67" y1="570.7" x2="716.67" y2="586.2" stroke="#000" stroke-width="2.8" stroke-linecap="butt"/>
<text x="716.67" y="619.9" font-family='"Liberation Sans", sans-serif' font-size="36" font-weight="normal" text-anchor="middle" >−5</text>
<line x1="862.83" y1="570.7" x2="862.83" y2="586.2" stroke="#000" stroke-width="2.8" stroke-linecap="butt"/>
<text x="862.83" y="619.9" font-family='"Liberation Sans", sans-serif' font-size="36" font-weight="normal" text-anchor="middle" >−10</text>
<line x1="1009" y1="570.7" x2="1009" y2="586.2" stroke="#000" stroke-width="2.8" stroke-linecap="butt"/>
<text x="1009" y="619.9" font-family='"Liberation Sans", sans-serif' font-size="36" font-weight="normal" text-anchor="middle" >−15</text>
<line x1="205.08" y1="570.7" x2="205.08" y2="579" stroke="#000" stroke-width="2.8" stroke-linecap="butt"/>
<line x1="351.25" y1="570.7" x2="351.25" y2="579" stroke="#000" stroke-width="2.8" stroke-linecap="butt"/>
<line x1="497.42" y1="570.7" x2="497.42" y2="579" stroke="#000" stroke-width="2.8" stroke-linecap="butt"/>
<line x1="643.58" y1="570.7" x2="643.58" y2="579" stroke="#000" stroke-width="2.8" stroke-linecap="butt"/>
<line x1="789.75" y1="570.7" x2="789.75" y2="579" stroke="#000" stroke-width="2.8" stroke-linecap="butt"/>
<line x1="935.92" y1="570.7" x2="935.92" y2="579" stroke="#000" stroke-width="2.8" stroke-linecap="butt"/>
<line x1="1167.5" y1="570.7" x2="1167.5" y2="586.2" stroke="#000" stroke-width="2.8" stroke-linecap="butt"/>
<text x="1167.5" y="619.9" font-family='"Liberation Sans", sans-serif' font-size="36" font-weight="normal" text-anchor="middle" >20</text>
<line x1="1313.75" y1="570.7" x2="1313.75" y2="586.2" stroke="#000" stroke-width="2.8" stroke-linecap="butt"/>
<text x="1313.75" y="619.9" font-family='"Liberation Sans", sans-serif' font-size="36" font-weight="normal" text-anchor="middle" >30</text>
<line x1="1460" y1="570.7" x2="1460" y2="586.2" stroke="#000" stroke-width="2.8" stroke-linecap="butt"/>
<text x="1460" y="619.9" font-family='"Liberation Sans", sans-serif' font-size="36" font-weight="normal" text-anchor="middle" >40</text>
<line x1="1606.25" y1="570.7" x2="1606.25" y2="586.2" stroke="#000" stroke-width="2.8" stroke-linecap="butt"/>
<text x="1606.25" y="619.9" font-family='"Liberation Sans", sans-serif' font-size="36" font-weight="normal" text-anchor="middle" >50</text>
<line x1="1752.5" y1="570.7" x2="1752.5" y2="586.2" stroke="#000" stroke-width="2.8" stroke-linecap="butt"/>
<text x="1752.5" y="619.9" font-family='"Liberation Sans", sans-serif' font-size="36" font-weight="normal" text-anchor="middle" >60</text>
<line x1="1898.75" y1="570.7" x2="1898.75" y2="586.2" stroke="#000" stroke-width="2.8" stroke-linecap="butt"/>
<text x="1898.75" y="619.9" font-family='"Liberation Sans", sans-serif' font-size="36" font-weight="normal" text-anchor="middle" >70</text>
<line x1="2045" y1="570.7" x2="2045" y2="586.2" stroke="#000" stroke-width="2.8" stroke-linecap="butt"/>
<text x="2045" y="619.9" font-family='"Liberation Sans", sans-serif' font-size="36" font-weight="normal" text-anchor="middle" >80</text>
<line x1="1240.62" y1="570.7" x2="1240.62" y2="579" stroke="#000" stroke-width="2.8" stroke-linecap="butt"/>
<line x1="1386.88" y1="570.7" x2="1386.88" y2="579" stroke="#000" stroke-width="2.8" stroke-linecap="butt"/>
<line x1="1533.12" y1="570.7" x2="1533.12" y2="579" stroke="#000" stroke-width="2.8" stroke-linecap="butt"/>
<line x1="1679.38" y1="570.7" x2="1679.38" y2="579" stroke="#000" stroke-width="2.8" stroke-linecap="butt"/>
<line x1="1825.62" y1="570.7" x2="1825.62" y2="579" stroke="#000" stroke-width="2.8" stroke-linecap="butt"/>
<line x1="1971.88" y1="570.7" x2="1971.88" y2="579" stroke="#000" stroke-width="2.8" stroke-linecap="butt"/>
<line x1="132" y1="1278.5" x2="132" y2="1294" stroke="#000" stroke-width="2.8" stroke-linecap="butt"/>
<text x="132" y="1327.3" font-family='"Liberation Sans", sans-serif' font-size="36" font-weight="normal" text-anchor="middle" >120</text>
<line x1="266.92" y1="1278.5" x2="266.92" y2="1294" stroke="#000" stroke-width="2.8" stroke-linecap="butt"/>
<text x="266.92" y="1327.3" font-family='"Liberation Sans", sans-serif' font-size="36" font-weight="normal" text-anchor="middle" >140</text>
<line x1="401.85" y1="1278.5" x2="401.85" y2="1294" stroke="#000" stroke-width="2.8" stroke-linecap="butt"/>
<text x="401.85" y="1327.3" font-family='"Liberation Sans", sans-serif' font-size="36" font-weight="normal" text-anchor="middle" >160</text>
<line x1="536.77" y1="1278.5" x2="536.77" y2="1294" stroke="#000" stroke-width="2.8" stroke-linecap="butt"/>
<text x="536.77" y="1327.3" font-family='"Liberation Sans", sans-serif' font-size="36" font-weight="normal" text-anchor="middle" >180</text>
<line x1="671.69" y1="1278.5" x2="671.69" y2="1294" stroke="#000" stroke-width="2.8" stroke-linecap="butt"/>
<text x="671.69" y="1327.3" font-family='"Liberation Sans", sans-serif' font-size="36" font-weight="normal" text-anchor="middle" >200</text>
<line x1="806.62" y1="1278.5" x2="806.62" y2="1294" stroke="#000" stroke-width="2.8" stroke-linecap="butt"/>
<text x="806.62" y="1327.3" font-family='"Liberation Sans", sans-serif' font-size="36" font-weight="normal" text-anchor="middle" >220</text>
<line x1="941.54" y1="1278.5" x2="941.54" y2="1294" stroke="#000" stroke-width="2.8" stroke-linecap="butt"/>
<text x="941.54" y="1327.3" font-family='"Liberation Sans", sans-serif' font-size="36" font-weight="normal" text-anchor="middle" >240</text>
<line x1="199.46" y1="1278.5" x2="199.46" y2="1286.8" stroke="#000" stroke-width="2.8" stroke-linecap="butt"/>
<line x1="334.38" y1="1278.5" x2="334.38" y2="1286.8" stroke="#000" stroke-width="2.8" stroke-linecap="butt"/>
<line x1="469.31" y1="1278.5" x2="469.31" y2="1286.8" stroke="#000" stroke-width="2.8" stroke-linecap="butt"/>
<line x1="604.23" y1="1278.5" x2="604.23" y2="1286.8" stroke="#000" stroke-width="2.8" stroke-linecap="butt"/>
<line x1="739.15" y1="1278.5" x2="739.15" y2="1286.8" stroke="#000" stroke-width="2.8" stroke-linecap="butt"/>
<line x1="874.08" y1="1278.5" x2="874.08" y2="1286.8" stroke="#000" stroke-width="2.8" stroke-linecap="butt"/>
<line x1="1009" y1="1278.5" x2="1009" y2="1286.8" stroke="#000" stroke-width="2.8" stroke-linecap="butt"/>
<line x1="116.5" y1="712" x2="132" y2="712" stroke="#000" stroke-width="2.8" stroke-linecap="butt"/>
<text x="108.7" y="724.8" font-family='"Liberation Sans", sans-serif' font-size="36" font-weight="normal" text-anchor="end" >1.5</text>
<line x1="116.5" y1="825.3" x2="132" y2="825.3" stroke="#000" stroke-width="2.8" stroke-linecap="butt"/>
<text x="108.7" y="838.1" font-family='"Liberation Sans", sans-serif' font-size="36" font-weight="normal" text-anchor="end" >1.0</text>
<line x1="116.5" y1="938.6" x2="132" y2="938.6" stroke="#000" stroke-width="2.8" stroke-linecap="butt"/>
<text x="108.7" y="951.4" font-family='"Liberation Sans", sans-serif' font-size="36" font-weight="normal" text-anchor="end" >0.5</text>
<line x1="116.5" y1="1051.9" x2="132" y2="1051.9" stroke="#000" stroke-width="2.8" stroke-linecap="butt"/>
<text x="108.7" y="1064.7" font-family='"Liberation Sans", sans-serif' font-size="36" font-weight="normal" text-anchor="end" >0.0</text>
<line x1="116.5" y1="1165.2" x2="132" y2="1165.2" stroke="#000" stroke-width="2.8" stroke-linecap="butt"/>
<text x="108.7" y="1178" font-family='"Liberation Sans", sans-serif' font-size="36" font-weight="normal" text-anchor="end" >−0.5</text>
<line x1="116.5" y1="1278.5" x2="132" y2="1278.5" stroke="#000" stroke-width="2.8" stroke-linecap="butt"/>
<text x="108.7" y="1291.3" font-family='"Liberation Sans", sans-serif' font-size="36" font-weight="normal" text-anchor="end" >−1.0</text>
<line x1="123.7" y1="768.65" x2="132" y2="768.65" stroke="#000" stroke-width="2.8" stroke-linecap="butt"/>
<line x1="123.7" y1="881.95" x2="132" y2="881.95" stroke="#000" stroke-width="2.8" stroke-linecap="butt"/>
<line x1="123.7" y1="995.25" x2="132" y2="995.25" stroke="#000" stroke-width="2.8" stroke-linecap="butt"/>
<line x1="123.7" y1="1108.55" x2="132" y2="1108.55" stroke="#000" stroke-width="2.8" stroke-linecap="butt"/>
<line x1="123.7" y1="1221.85" x2="132" y2="1221.85" stroke="#000" stroke-width="2.8" stroke-linecap="butt"/>
<line x1="1167.5" y1="1278.5" x2="1167.5" y2="1294" stroke="#000" stroke-width="2.8" stroke-linecap="butt"/>
<text x="1167.5" y="1327.3" font-family='"Liberation Sans", sans-serif' font-size="36" font-weight="normal" text-anchor="middle" >120</text>
<line x1="1302.5" y1="1278.5" x2="1302.5" y2="1294" stroke="#000" stroke-width="2.8" stroke-linecap="butt"/>
<text x="1302.5" y="1327.3" font-family='"Liberation Sans", sans-serif' font-size="36" font-weight="normal" text-anchor="middle" >140</text>
<line x1="1437.5" y1="1278.5" x2="1437.5" y2="1294" stroke="#000" stroke-width="2.8" stroke-linecap="butt"/>
<text x="1437.5" y="1327.3" font-family='"Liberation Sans", sans-serif' font-size="36" font-weight="normal" text-anchor="middle" >160</text>
<line x1="1572.5" y1="1278.5" x2="1572.5" y2="1294" stroke="#000" stroke-width="2.8" stroke-linecap="butt"/>
<text x="1572.5" y="1327.3" font-family='"Liberation Sans", sans-serif' font-size="36" font-weight="normal" text-anchor="middle" >180</text>
<line x1="1707.5" y1="1278.5" x2="1707.5" y2="1294" stroke="#000" stroke-width="2.8" stroke-linecap="butt"/>
<text x="1707.5" y="1327.3" font-family='"Liberation Sans", sans-serif' font-size="36" font-weight="normal" text-anchor="middle" >200</text>
<line x1="1842.5" y1="1278.5" x2="1842.5" y2="1294" stroke="#000" stroke-width="2.8" stroke-linecap="butt"/>
<text x="1842.5" y="1327.3" font-family='"Liberation Sans", sans-serif' font-size="36" font-weight="normal" text-anchor="middle" >220</text>
<line x1="1977.5" y1="1278.5" x2="1977.5" y2="1294" stroke="#000" stroke-width="2.8" stroke-linecap="butt"/>
<text x="1977.5" y="1327.3" font-family='"Liberation Sans", sans-serif' font-size="36" font-weight="normal" text-anchor="middle" >240</text>
<line x1="1235" y1="1278.5" x2="1235" y2="1286.8" stroke="#000" stroke-width="2.8" stroke-linecap="butt"/>
<line x1="1370" y1="1278.5" x2="1370" y2="1286.8" stroke="#000" stroke-width="2.8" stroke-linecap="butt"/>
<line x1="1505" y1="1278.5" x2="1505" y2="1286.8" stroke="#000" stroke-width="2.8" stroke-linecap="butt"/>
<line x1="1640" y1="1278.5" x2="1640" y2="1286.8" stroke="#000" stroke-width="2.8" stroke-linecap="butt"/>
<line x1="1775" y1="1278.5" x2="1775" y2="1286.8" stroke="#000" stroke-width="2.8" stroke-linecap="butt"/>
<line x1="1910" y1="1278.5" x2="1910" y2="1286.8" stroke="#000" stroke-width="2.8" stroke-linecap="butt"/>
<line x1="2045" y1="1278.5" x2="2045" y2="1286.8" stroke="#000" stroke-width="2.8" stroke-linecap="butt"/>
<line x1="1152" y1="712" x2="1167.5" y2="712" stroke="#000" stroke-width="2.8" stroke-linecap="butt"/>
<text x="1144.2" y="724.8" font-family='"Liberation Sans", sans-serif' font-size="36" font-weight="normal" text-anchor="end" >1.5</text>
<line x1="1152" y1="825.3" x2="1167.5" y2="825.3" stroke="#000" stroke-width="2.8" stroke-linecap="butt"/>
<text x="1144.2" y="838.1" font-family='"Liberation Sans", sans-serif' font-size="36" font-weight="normal" text-anchor="end" >1.0</text>
<line x1="1152" y1="938.6" x2="1167.5" y2="938.6" stroke="#000" stroke-width="2.8" stroke-linecap="butt"/>
<text x="1144.2" y="951.4" font-family='"Liberation Sans", sans-serif' font-size="36" font-weight="normal" text-anchor="end" >0.5</text>
<line x1="1152" y1="1051.9" x2="1167.5" y2="1051.9" stroke="#000" stroke-width="2.8" stroke-linecap="butt"/>
<text x="1144.2" y="1064.7" font-family='"Liberation Sans", sans-serif' font-size="36" font-weight="normal" text-anchor="end" >0.0</text>
<line x1="1152" y1="1165.2" x2="1167.5" y2="1165.2" stroke="#000" stroke-width="2.8" stroke-linecap="butt"/>
<text x="1144.2" y="1178" font-family='"Liberation Sans", sans-serif' font-size="36" font-weight="normal" text-anchor="end" >−0.5</text>
<line x1="1152" y1="1278.5" x2="1167.5" y2="1278.5" stroke="#000" stroke-width="2.8" stroke-linecap="butt"/>
<text x="1144.2" y="1291.3" font-family='"Liberation Sans", sans-serif' font-size="36" font-weight="normal" text-anchor="end" >−1.0</text>
<line x1="1159.2" y1="768.65" x2="1167.5" y2="768.65" stroke="#000" stroke-width="2.8" stroke-linecap="butt"/>
<line x1="1159.2" y1="881.95" x2="1167.5" y2="881.95" stroke="#000" stroke-width="2.8" stroke-linecap="butt"/>
<line x1="1159.2" y1="995.25" x2="1167.5" y2="995.25" stroke="#000" stroke-width="2.8" stroke-linecap="butt"/>
<line x1="1159.2" y1="1108.55" x2="1167.5" y2="1108.55" stroke="#000" stroke-width="2.8" stroke-linecap="butt"/>
<line x1="1159.2" y1="1221.85" x2="1167.5" y2="1221.85" stroke="#000" stroke-width="2.8" stroke-linecap="butt"/>
<text x="18.8" y="37.2" font-family='"Liberation Sans", sans-serif' font-size="48" font-weight="bold" text-anchor="start" >a</text>
<text x="1051.2" y="37.6" font-family='"Liberation Sans", sans-serif' font-size="48" font-weight="bold" text-anchor="start" >b</text>
<text x="18" y="746" font-family='"Liberation Sans", sans-serif' font-size="48" font-weight="bold" text-anchor="start" >c</text>
<text x="1051" y="746" font-family='"Liberation Sans", sans-serif' font-size="48" font-weight="bold" text-anchor="start" >d</text>
<text x="572" y="664.7" font-family='"Liberation Sans", sans-serif' font-size="35.5" font-weight="normal" text-anchor="middle" ><tspan font-size="24.5" dy="-14">7</tspan><tspan dx="3" dy="14">Li Chemical shift (ppm)</tspan></text>
<text x="1607" y="660.9" font-family='"Liberation Sans", sans-serif' font-size="35.5" font-weight="normal" text-anchor="middle" >2<tspan font-family='"DejaVu Sans", sans-serif' font-style="oblique">θ</tspan> (deg)</text>
<text x="571" y="1368.2" font-family='"Liberation Sans", sans-serif' font-size="35.5" font-weight="normal" text-anchor="middle" >Temperature (<tspan font-size="24" dx="3" dy="-13">∘</tspan><tspan dx="3" dy="13">C)</tspan></text>
<text x="1606" y="1368.2" font-family='"Liberation Sans", sans-serif' font-size="35.5" font-weight="normal" text-anchor="middle" >Temperature (<tspan font-size="24" dx="3" dy="-13">∘</tspan><tspan dx="3" dy="13">C)</tspan></text>
<text transform="translate(79,285.5) rotate(-90)" font-family='"Liberation Sans", sans-serif' font-size="35.5" text-anchor="middle">Intensity (a.u.)</text>
<text transform="translate(1114,285.5) rotate(-90)" font-family='"Liberation Sans", sans-serif' font-size="35.5" text-anchor="middle">Intensity (a.u.)</text>
<text transform="translate(26.8,994.3) rotate(-90)" font-family='"Liberation Sans", sans-serif' font-size="35.5" text-anchor="middle">Heat flow (W/g)</text>
<text transform="translate(1058.8,994.3) rotate(-90)" font-family='"Liberation Sans", sans-serif' font-size="35.5" text-anchor="middle">Heat flow (W/g)</text>
<g transform="translate(396.6,51) scale(1.03,1)">
<text x="0" y="0" font-family='"DejaVu Sans", sans-serif' font-size="27.4" font-weight="normal" text-anchor="start" ><tspan>Li</tspan><tspan font-size="20.28" baseline-shift="-4.66">3</tspan><tspan>PS</tspan><tspan font-size="20.28" baseline-shift="-4.66">4</tspan></text>
</g>
<g transform="translate(580.3,50.8) scale(1.03,1)">
<text x="0" y="0" font-family='"DejaVu Sans", sans-serif' font-size="27.4" font-weight="normal" text-anchor="start" ><tspan>Li</tspan><tspan font-size="20.28" baseline-shift="-4.66">4</tspan><tspan>P</tspan><tspan font-size="20.28" baseline-shift="-4.66">2</tspan><tspan>S</tspan><tspan font-size="20.28" baseline-shift="-4.66">6</tspan></text>
</g>
<g transform="translate(411.4,221.3) scale(1.03,1)">
<text x="0" y="0" font-family='"DejaVu Sans", sans-serif' font-size="27.4" font-weight="normal" text-anchor="start" ><tspan>Li</tspan><tspan font-size="20.28" baseline-shift="-4.66">3</tspan><tspan>PS</tspan><tspan font-size="20.28" baseline-shift="-4.66">4</tspan></text>
</g>
<g transform="translate(609.2,281) scale(1.03,1)">
<text x="0" y="0" font-family='"DejaVu Sans", sans-serif' font-size="27.4" font-weight="normal" text-anchor="start" ><tspan>Li</tspan><tspan font-size="20.28" baseline-shift="-4.66">4</tspan><tspan>P</tspan><tspan font-size="20.28" baseline-shift="-4.66">2</tspan><tspan>S</tspan><tspan font-size="20.28" baseline-shift="-4.66">6</tspan></text>
</g>
<path d="M489,61 L522.5,73.2 M510.31,76 L522.5,73.2 L514.96,63.22" fill="none" stroke="#000" stroke-width="3.9" stroke-linecap="round" stroke-linejoin="round"/>
<path d="M602.8,62 L579.8,79.5 M584.04,67.73 L579.8,79.5 L592.27,78.55" fill="none" stroke="#000" stroke-width="3.9" stroke-linecap="round" stroke-linejoin="round"/>
<path d="M503.5,231.3 L534.8,243.2 M522.57,245.82 L534.8,243.2 L527.4,233.11" fill="none" stroke="#000" stroke-width="3.9" stroke-linecap="round" stroke-linejoin="round"/>
<path d="M613.4,291.6 L587,302.8 M594.01,292.44 L587,302.8 L599.32,304.96" fill="none" stroke="#000" stroke-width="3.9" stroke-linecap="round" stroke-linejoin="round"/>
<text x="701.5" y="106" font-family='"Liberation Sans", sans-serif' font-size="35.5" font-weight="normal" text-anchor="start" >PE, 10 wt%,</text>
<text x="702.9" y="160.7" font-family='"Liberation Sans", sans-serif' font-size="35.5" font-weight="normal" text-anchor="start" >solution processed</text>
<text x="704" y="332.8" font-family='"Liberation Sans", sans-serif' font-size="35.5" font-weight="normal" text-anchor="start" ><tspan font-family='"DejaVu Sans", sans-serif' font-style="oblique">β</tspan>-crystalline LPS</text>
<text x="702.1" y="514" font-family='"Liberation Sans", sans-serif' font-size="35.5" font-weight="normal" text-anchor="start" >Ball milled LPS</text>
<text x="2030" y="172.5" font-family='"Liberation Sans", sans-serif' font-size="35.5" font-weight="normal" text-anchor="end" >Solution processed LPS</text>
<text x="2016" y="286" font-family='"Liberation Sans", sans-serif' font-size="35.5" font-weight="normal" text-anchor="end" ><tspan font-family='"DejaVu Sans", sans-serif' font-style="oblique">β</tspan>-LPS</text>
<text x="2021.5" y="372" font-family='"Liberation Sans", sans-serif' font-size="35.5" font-weight="normal" text-anchor="end" >Ball milled LPS</text>
<text x="2021" y="486.7" font-family='"Liberation Sans", sans-serif' font-size="35.5" font-weight="normal" text-anchor="end" ><tspan font-family='"DejaVu Sans", sans-serif' font-style="oblique">β</tspan>-LPS, simulated</text>
<line x1="162.5" y1="756.2" x2="236.6" y2="756.2" stroke="#000" stroke-width="3.4" stroke-linecap="butt"/>
<line x1="162.5" y1="805.9" x2="236.6" y2="805.9" stroke="#f9aa3c" stroke-width="3.4" stroke-linecap="butt"/>
<text x="262.2" y="769.1" font-family='"Liberation Sans", sans-serif' font-size="35.5" font-weight="normal" text-anchor="start" >LPS, ball milled</text>
<text x="262.2" y="818.6" font-family='"Liberation Sans", sans-serif' font-size="35.5" font-weight="normal" text-anchor="start" >PE, 10wt%, ball milled</text>
<text x="268.5" y="937.9" font-family='"Liberation Sans", sans-serif' font-size="27.7" font-weight="normal" text-anchor="middle" >Exothermic</text>
<text x="268.5" y="1075.4" font-family='"Liberation Sans", sans-serif' font-size="27.7" font-weight="normal" text-anchor="middle" >Endothermic</text>
<path d="M266.9,990.5 L266.9,956.5 M261.1,967.3 L266.9,955.3 L272.7,967.3" fill="none" stroke="#000" stroke-width="3.8" stroke-linecap="round" stroke-linejoin="round"/>
<path d="M266.9,998.5 L266.9,1042.5 M261.1,1031.5 L266.9,1043.5 L272.7,1031.5" fill="none" stroke="#000" stroke-width="3.8" stroke-linecap="round" stroke-linejoin="round"/>
<line x1="1198" y1="756.7" x2="1272.1" y2="756.7" stroke="#0b87e3" stroke-width="3.4" stroke-linecap="butt"/>
<line x1="1198" y1="807.1" x2="1272.1" y2="807.1" stroke="#4cbb3e" stroke-width="3.4" stroke-linecap="butt"/>
<text x="1297.7" y="769.1" font-family='"Liberation Sans", sans-serif' font-size="35.5" font-weight="normal" text-anchor="start" >LPS, solution processed</text>
<text x="1297.7" y="818.6" font-family='"Liberation Sans", sans-serif' font-size="35.5" font-weight="normal" text-anchor="start" >PE, 10wt%, solution processed</text>
<text x="1304" y="937.9" font-family='"Liberation Sans", sans-serif' font-size="27.7" font-weight="normal" text-anchor="middle" >Exothermic</text>
<text x="1304" y="1075.4" font-family='"Liberation Sans", sans-serif' font-size="27.7" font-weight="normal" text-anchor="middle" >Endothermic</text>
<path d="M1302.4,990.5 L1302.4,956.5 M1296.6,967.3 L1302.4,955.3 L1308.2,967.3" fill="none" stroke="#000" stroke-width="3.8" stroke-linecap="round" stroke-linejoin="round"/>
<path d="M1302.4,998.5 L1302.4,1042.5 M1296.6,1031.5 L1302.4,1043.5 L1308.2,1031.5" fill="none" stroke="#000" stroke-width="3.8" stroke-linecap="round" stroke-linejoin="round"/>
</svg>
</body></html>
